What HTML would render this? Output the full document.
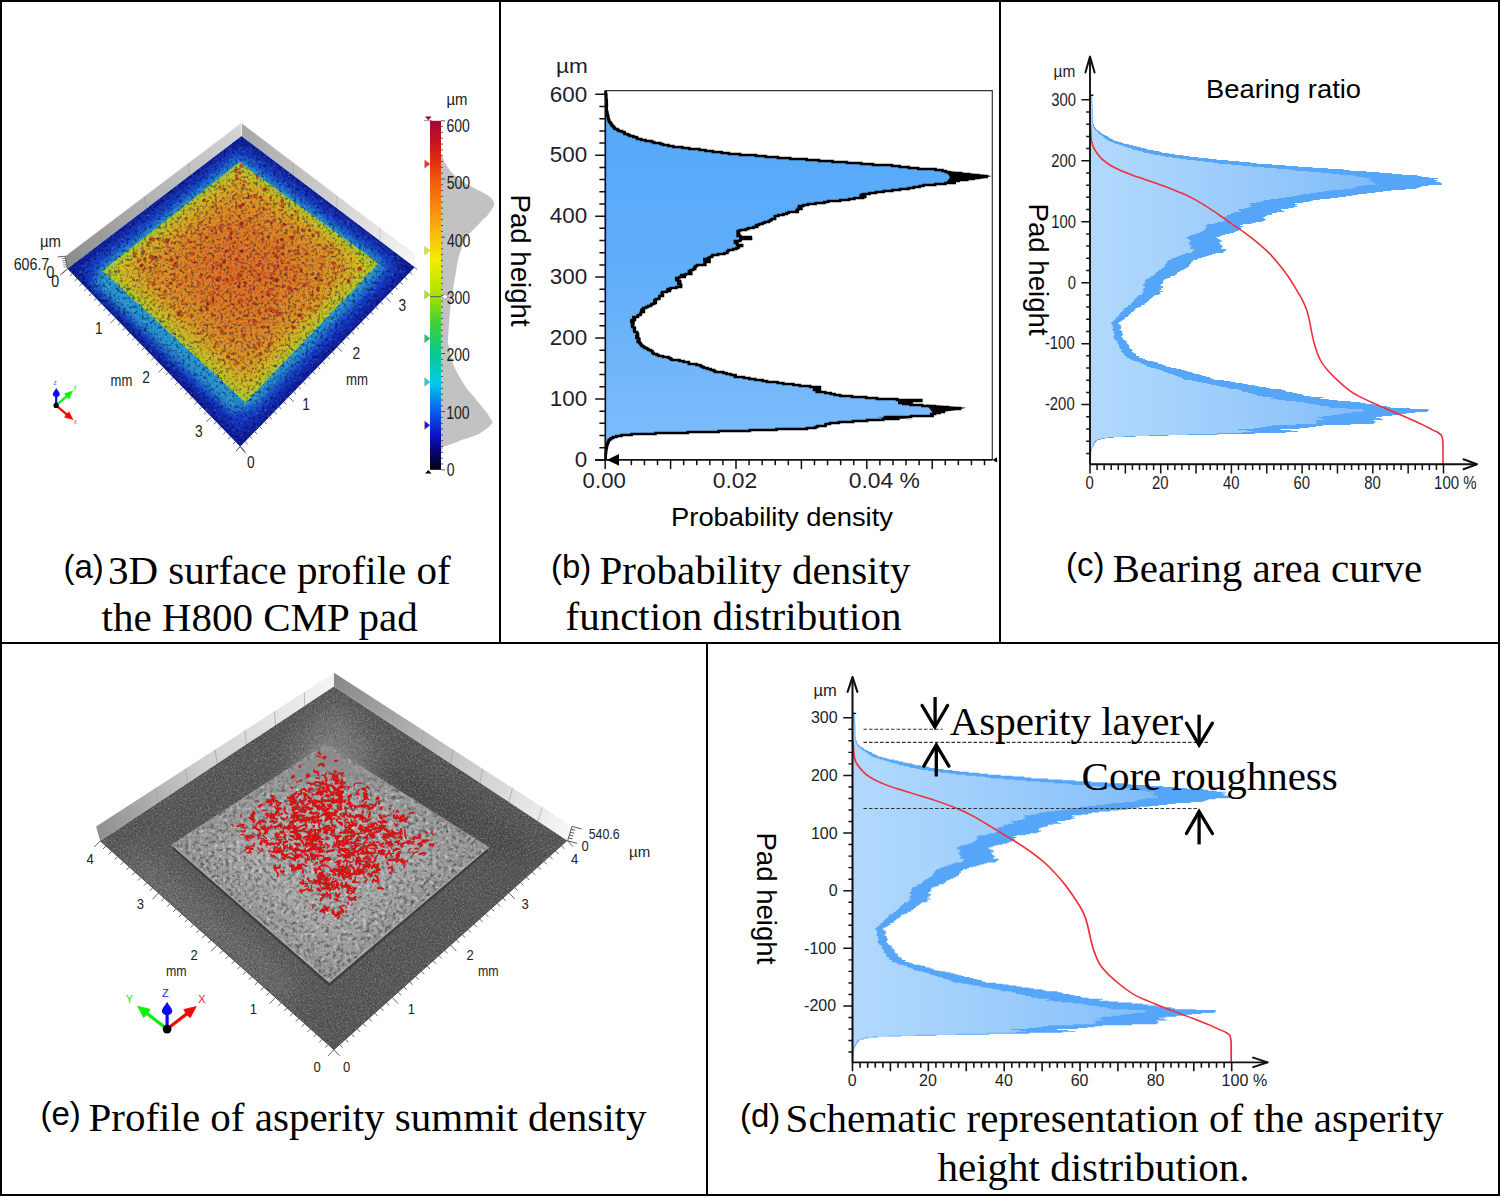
<!DOCTYPE html>
<html><head><meta charset="utf-8"><title>Figure</title>
<style>html,body{margin:0;padding:0;background:#fff;width:1500px;height:1196px;overflow:hidden}svg{display:block}</style>
</head><body>
<svg width="1500" height="1196" viewBox="0 0 1500 1196">
<rect width="1500" height="1196" fill="#fff"/>

<defs>
<linearGradient id="awl" gradientUnits="userSpaceOnUse" x1="66" y1="262" x2="241" y2="130"><stop offset="0" stop-color="#8c8c8c"/><stop offset="0.5" stop-color="#b4b4b4"/><stop offset="1" stop-color="#d4d4d4"/></linearGradient>
<linearGradient id="awr" gradientUnits="userSpaceOnUse" x1="241" y1="130" x2="414" y2="262"><stop offset="0" stop-color="#a6a6a6"/><stop offset="0.55" stop-color="#d2d2d2"/><stop offset="1" stop-color="#f6f6f6"/></linearGradient>
<clipPath id="aclip"><polygon points="241.4,136.3 414.6,267.2 240.2,446.6 67.5,268.8"/></clipPath>
<clipPath id="aiclip"><polygon points="239.5,162.5 378.5,263.5 245.5,402.5 102.5,270.8"/></clipPath>
<filter id="ab4" x="-30%" y="-30%" width="160%" height="160%"><feGaussianBlur stdDeviation="4"/></filter>
<filter id="ab8" x="-30%" y="-30%" width="160%" height="160%"><feGaussianBlur stdDeviation="9"/></filter>
<filter id="ab16" x="-30%" y="-30%" width="160%" height="160%"><feGaussianBlur stdDeviation="18"/></filter>
<filter id="anoise" x="0" y="0" width="100%" height="100%" filterUnits="userSpaceOnUse">
<feTurbulence type="fractalNoise" baseFrequency="0.34" numOctaves="2" seed="4" result="n"/>
<feColorMatrix in="n" type="matrix" values="0 0 0 0 0  0 0 0 0 0  0 0 0 0 0.05  2.8 0 0 0 -1.3" result="dark"/>
<feColorMatrix in="n" type="matrix" values="0 0 0 0 0.75  0 0 0 0 0.8  0 0 0 0 1  0 1.3 0 0 -0.8" result="light"/>
<feMerge><feMergeNode in="dark"/><feMergeNode in="light"/></feMerge>
</filter>
</defs>
<polygon points="65.0,256.2 241.4,123.0 241.4,136.3 67.5,268.8" fill="url(#awl)"/>
<polygon points="241.4,123.0 414.6,254.5 414.6,267.2 241.4,136.3" fill="url(#awr)"/>
<polyline points="65.0,256.2 241.4,123.0 414.6,254.5" fill="none" stroke="#e8e8e8" stroke-width="0.8"/>
<line x1="241.4" y1="123.0" x2="241.4" y2="136.3" stroke="#f4f4f4" stroke-width="1"/>
<line x1="100.3" y1="230.6" x2="102.3" y2="241.3" stroke="#777" stroke-width="0.6" stroke-dasharray="1 1"/>
<line x1="144.4" y1="197.3" x2="145.8" y2="208.2" stroke="#777" stroke-width="0.6" stroke-dasharray="1 1"/>
<line x1="188.5" y1="164.0" x2="189.2" y2="175.1" stroke="#777" stroke-width="0.6" stroke-dasharray="1 1"/>
<line x1="293.4" y1="163.4" x2="293.4" y2="174.6" stroke="#888" stroke-width="0.6" stroke-dasharray="1 1"/>
<line x1="336.7" y1="196.3" x2="336.7" y2="207.3" stroke="#888" stroke-width="0.6" stroke-dasharray="1 1"/>
<line x1="380.0" y1="229.2" x2="380.0" y2="240.0" stroke="#888" stroke-width="0.6" stroke-dasharray="1 1"/>
<g clip-path="url(#aclip)"><polygon points="241.4,136.3 414.6,267.2 240.2,446.6 67.5,268.8" fill="#1636c6"/><polygon points="241.4,136.3 414.6,267.2 240.2,446.6 67.5,268.8" fill="none" stroke="#0a1a98" stroke-width="16" filter="url(#ab4)"/><polygon points="239.1,149.9 394.8,263.1 245.9,418.7 85.7,271.2" fill="#1c50d2" filter="url(#ab8)"/><polygon points="239.4,158.8 383.3,263.4 245.6,407.2 97.6,270.9" fill="#26b2cc" filter="url(#ab4)"/><polygon points="102.5,270.8 245.5,402.5 234.7,414.3 91.7,282.6" fill="#2aa6d2" filter="url(#ab4)" opacity="0.85"/><polygon points="245.5,402.5 378.5,263.5 385.0,269.7 252.0,408.7" fill="#2aa6d2" filter="url(#ab4)" opacity="0.7"/><polygon points="239.5,162.5 378.5,263.5 245.5,402.5 102.5,270.8" fill="#d2c41e"/><g clip-path="url(#aiclip)"><polygon points="239.5,162.5 378.5,263.5 245.5,402.5 102.5,270.8" fill="none" stroke="#8ccc34" stroke-width="6" filter="url(#ab4)"/><polygon points="240.0,179.2 356.7,264.1 245.0,380.8 124.9,270.2" fill="#dc9424" filter="url(#ab8)"/><polygon points="240.8,209.6 317.3,265.1 244.2,341.6 165.5,269.2" fill="#e07222" filter="url(#ab16)"/></g><g><circle cx="230.0" cy="280.4" r="2.3" fill="#d8581c" opacity="0.68"/><circle cx="322.2" cy="264.1" r="1.8" fill="#d04a1e" opacity="0.54"/><circle cx="272.8" cy="190.0" r="0.9" fill="#c03420" opacity="0.53"/><circle cx="268.6" cy="331.4" r="1.4" fill="#c03420" opacity="0.84"/><circle cx="247.5" cy="299.3" r="1.6" fill="#a82818" opacity="0.53"/><circle cx="283.1" cy="247.1" r="1.7" fill="#c8401c" opacity="0.78"/><circle cx="194.1" cy="204.0" r="1.3" fill="#c8401c" opacity="0.73"/><circle cx="297.3" cy="250.5" r="1.7" fill="#d04a1e" opacity="0.81"/><circle cx="158.0" cy="278.1" r="1.6" fill="#d04a1e" opacity="0.89"/><circle cx="313.2" cy="250.9" r="1.5" fill="#d8581c" opacity="0.67"/><circle cx="166.6" cy="240.7" r="2.2" fill="#a82818" opacity="0.73"/><circle cx="271.4" cy="343.3" r="1.5" fill="#c8401c" opacity="0.54"/><circle cx="264.2" cy="209.2" r="1.8" fill="#b83018" opacity="0.75"/><circle cx="212.6" cy="295.3" r="1.4" fill="#d04a1e" opacity="0.83"/><circle cx="267.8" cy="220.8" r="1.2" fill="#a82818" opacity="0.89"/><circle cx="144.5" cy="259.4" r="1.9" fill="#c03420" opacity="0.75"/><circle cx="182.0" cy="252.9" r="1.0" fill="#d04a1e" opacity="0.61"/><circle cx="229.5" cy="228.2" r="2.0" fill="#c03420" opacity="0.73"/><circle cx="237.8" cy="319.6" r="1.4" fill="#c8401c" opacity="0.53"/><circle cx="254.6" cy="321.6" r="2.3" fill="#a82818" opacity="0.79"/><circle cx="235.5" cy="170.6" r="2.2" fill="#c8401c" opacity="0.85"/><circle cx="261.6" cy="296.2" r="1.5" fill="#c03420" opacity="0.50"/><circle cx="220.5" cy="227.8" r="2.3" fill="#a82818" opacity="0.73"/><circle cx="226.9" cy="343.8" r="1.0" fill="#c03420" opacity="0.51"/><circle cx="269.1" cy="263.6" r="1.2" fill="#a82818" opacity="0.55"/><circle cx="315.9" cy="305.9" r="1.6" fill="#c8401c" opacity="0.65"/><circle cx="247.3" cy="325.2" r="1.4" fill="#d8581c" opacity="0.70"/><circle cx="174.7" cy="243.4" r="1.3" fill="#a82818" opacity="0.67"/><circle cx="264.3" cy="226.0" r="1.1" fill="#d8581c" opacity="0.64"/><circle cx="235.0" cy="364.0" r="2.1" fill="#d8581c" opacity="0.75"/><circle cx="240.9" cy="225.0" r="2.2" fill="#c03420" opacity="0.68"/><circle cx="297.2" cy="284.9" r="1.4" fill="#c03420" opacity="0.51"/><circle cx="147.0" cy="253.9" r="0.9" fill="#b83018" opacity="0.59"/><circle cx="276.4" cy="256.0" r="1.8" fill="#a82818" opacity="0.76"/><circle cx="178.5" cy="314.0" r="2.0" fill="#c03420" opacity="0.79"/><circle cx="202.1" cy="310.9" r="1.7" fill="#c03420" opacity="0.90"/><circle cx="213.1" cy="255.0" r="1.2" fill="#c8401c" opacity="0.65"/><circle cx="260.5" cy="354.2" r="2.1" fill="#b83018" opacity="0.69"/><circle cx="282.2" cy="201.1" r="2.0" fill="#a82818" opacity="0.87"/><circle cx="201.1" cy="248.0" r="1.3" fill="#c8401c" opacity="0.59"/><circle cx="338.9" cy="253.9" r="1.0" fill="#c03420" opacity="0.63"/><circle cx="150.4" cy="268.1" r="2.0" fill="#a82818" opacity="0.78"/><circle cx="359.4" cy="269.0" r="2.3" fill="#c8401c" opacity="0.80"/><circle cx="226.6" cy="280.1" r="2.1" fill="#c03420" opacity="0.76"/><circle cx="248.5" cy="345.7" r="1.7" fill="#b83018" opacity="0.77"/><circle cx="271.2" cy="223.4" r="1.1" fill="#c03420" opacity="0.71"/><circle cx="261.6" cy="199.6" r="1.7" fill="#c03420" opacity="0.50"/><circle cx="210.3" cy="274.9" r="1.0" fill="#d8581c" opacity="0.72"/><circle cx="217.4" cy="208.5" r="1.6" fill="#b83018" opacity="0.67"/><circle cx="236.3" cy="225.3" r="1.2" fill="#c03420" opacity="0.51"/><circle cx="179.6" cy="311.3" r="2.4" fill="#c8401c" opacity="0.58"/><circle cx="171.0" cy="307.6" r="1.4" fill="#b83018" opacity="0.60"/><circle cx="242.2" cy="267.1" r="1.8" fill="#c03420" opacity="0.75"/><circle cx="299.6" cy="314.8" r="2.2" fill="#c8401c" opacity="0.65"/><circle cx="219.8" cy="273.1" r="1.1" fill="#d04a1e" opacity="0.85"/><circle cx="251.4" cy="203.2" r="1.2" fill="#c03420" opacity="0.74"/><circle cx="329.6" cy="251.9" r="2.1" fill="#d04a1e" opacity="0.58"/><circle cx="276.1" cy="336.3" r="1.0" fill="#c03420" opacity="0.77"/><circle cx="141.7" cy="265.4" r="2.0" fill="#c03420" opacity="0.90"/><circle cx="311.2" cy="295.1" r="2.3" fill="#d8581c" opacity="0.56"/><circle cx="232.6" cy="327.2" r="1.4" fill="#d8581c" opacity="0.67"/><circle cx="204.4" cy="199.9" r="1.5" fill="#a82818" opacity="0.78"/><circle cx="230.4" cy="321.3" r="1.5" fill="#d04a1e" opacity="0.74"/><circle cx="260.8" cy="197.2" r="1.8" fill="#b83018" opacity="0.82"/><circle cx="325.0" cy="248.2" r="2.2" fill="#c03420" opacity="0.78"/><circle cx="217.8" cy="317.2" r="1.0" fill="#b83018" opacity="0.62"/><circle cx="168.0" cy="243.5" r="1.2" fill="#c8401c" opacity="0.66"/><circle cx="272.8" cy="322.5" r="1.3" fill="#d8581c" opacity="0.70"/><circle cx="311.0" cy="303.0" r="0.9" fill="#b83018" opacity="0.60"/><circle cx="348.9" cy="281.8" r="1.7" fill="#c03420" opacity="0.73"/><circle cx="268.1" cy="327.0" r="1.0" fill="#d04a1e" opacity="0.65"/><circle cx="253.5" cy="289.5" r="1.5" fill="#d8581c" opacity="0.67"/><circle cx="249.5" cy="289.7" r="1.4" fill="#b83018" opacity="0.69"/><circle cx="285.4" cy="324.9" r="0.9" fill="#d04a1e" opacity="0.73"/><circle cx="277.4" cy="247.4" r="1.9" fill="#c8401c" opacity="0.86"/><circle cx="224.0" cy="261.5" r="2.4" fill="#d04a1e" opacity="0.52"/><circle cx="148.0" cy="245.3" r="1.8" fill="#a82818" opacity="0.73"/><circle cx="221.4" cy="329.9" r="1.7" fill="#d04a1e" opacity="0.88"/><circle cx="317.0" cy="297.9" r="1.4" fill="#b83018" opacity="0.74"/><circle cx="301.5" cy="314.3" r="1.2" fill="#b83018" opacity="0.80"/><circle cx="222.9" cy="294.7" r="1.1" fill="#c03420" opacity="0.61"/><circle cx="204.2" cy="229.1" r="1.6" fill="#d04a1e" opacity="0.84"/><circle cx="323.6" cy="297.8" r="2.1" fill="#d04a1e" opacity="0.68"/><circle cx="307.3" cy="244.1" r="1.1" fill="#d04a1e" opacity="0.76"/><circle cx="255.2" cy="323.7" r="2.3" fill="#d8581c" opacity="0.76"/><circle cx="263.6" cy="259.1" r="1.4" fill="#c03420" opacity="0.53"/><circle cx="259.3" cy="264.2" r="1.9" fill="#b83018" opacity="0.83"/><circle cx="293.7" cy="267.5" r="2.0" fill="#b83018" opacity="0.61"/><circle cx="301.8" cy="238.5" r="1.1" fill="#a82818" opacity="0.68"/><circle cx="291.5" cy="218.3" r="1.7" fill="#b83018" opacity="0.68"/><circle cx="302.8" cy="272.7" r="1.0" fill="#b83018" opacity="0.51"/><circle cx="288.9" cy="287.9" r="2.1" fill="#a82818" opacity="0.73"/><circle cx="320.4" cy="278.8" r="2.2" fill="#c03420" opacity="0.57"/><circle cx="134.9" cy="253.5" r="2.2" fill="#c8401c" opacity="0.59"/><circle cx="332.1" cy="252.3" r="1.8" fill="#b83018" opacity="0.82"/><circle cx="281.6" cy="210.3" r="1.2" fill="#c03420" opacity="0.64"/><circle cx="231.8" cy="232.7" r="2.1" fill="#b83018" opacity="0.77"/><circle cx="240.8" cy="275.6" r="2.0" fill="#a82818" opacity="0.75"/><circle cx="134.8" cy="255.8" r="1.7" fill="#c8401c" opacity="0.71"/><circle cx="221.9" cy="248.4" r="1.1" fill="#a82818" opacity="0.56"/><circle cx="277.9" cy="310.2" r="1.4" fill="#d8581c" opacity="0.67"/><circle cx="267.4" cy="205.0" r="1.2" fill="#b83018" opacity="0.66"/><circle cx="255.7" cy="348.1" r="1.6" fill="#d8581c" opacity="0.87"/><circle cx="201.1" cy="276.7" r="2.3" fill="#d8581c" opacity="0.85"/><circle cx="216.1" cy="201.9" r="1.1" fill="#d8581c" opacity="0.89"/><circle cx="229.4" cy="209.0" r="1.5" fill="#d04a1e" opacity="0.67"/><circle cx="273.8" cy="271.7" r="1.0" fill="#c03420" opacity="0.81"/><circle cx="237.3" cy="259.8" r="2.3" fill="#c03420" opacity="0.72"/><circle cx="219.7" cy="265.1" r="2.3" fill="#b83018" opacity="0.63"/><circle cx="217.7" cy="279.3" r="2.4" fill="#a82818" opacity="0.79"/><circle cx="205.7" cy="308.7" r="1.1" fill="#d8581c" opacity="0.77"/><circle cx="143.4" cy="251.7" r="2.2" fill="#a82818" opacity="0.78"/><circle cx="173.7" cy="279.7" r="1.6" fill="#c8401c" opacity="0.84"/><circle cx="309.3" cy="281.9" r="1.0" fill="#d04a1e" opacity="0.58"/><circle cx="303.2" cy="230.1" r="2.3" fill="#c03420" opacity="0.69"/><circle cx="279.3" cy="256.2" r="1.5" fill="#c8401c" opacity="0.56"/><circle cx="216.9" cy="343.2" r="1.8" fill="#c8401c" opacity="0.54"/><circle cx="225.1" cy="328.5" r="1.4" fill="#d8581c" opacity="0.87"/><circle cx="238.0" cy="363.1" r="1.8" fill="#a82818" opacity="0.66"/><circle cx="318.5" cy="306.0" r="1.8" fill="#c8401c" opacity="0.60"/><circle cx="227.1" cy="279.7" r="1.2" fill="#b83018" opacity="0.82"/><circle cx="327.8" cy="295.2" r="1.1" fill="#c03420" opacity="0.86"/><circle cx="255.2" cy="233.9" r="1.7" fill="#d04a1e" opacity="0.73"/><circle cx="236.7" cy="248.2" r="1.4" fill="#c8401c" opacity="0.87"/><circle cx="206.1" cy="257.6" r="1.1" fill="#a82818" opacity="0.55"/><circle cx="348.4" cy="280.3" r="1.7" fill="#c03420" opacity="0.87"/><circle cx="206.7" cy="325.0" r="1.4" fill="#d04a1e" opacity="0.57"/><circle cx="284.0" cy="224.6" r="1.9" fill="#a82818" opacity="0.86"/><circle cx="272.7" cy="300.1" r="2.0" fill="#d04a1e" opacity="0.58"/><circle cx="234.1" cy="185.5" r="1.5" fill="#c03420" opacity="0.66"/><circle cx="217.1" cy="265.8" r="1.1" fill="#b83018" opacity="0.66"/><circle cx="275.0" cy="311.3" r="2.0" fill="#b83018" opacity="0.69"/><circle cx="335.6" cy="249.2" r="1.6" fill="#c03420" opacity="0.55"/><circle cx="247.9" cy="249.2" r="0.9" fill="#c8401c" opacity="0.62"/><circle cx="273.0" cy="252.9" r="1.5" fill="#b83018" opacity="0.80"/><circle cx="191.3" cy="286.9" r="1.0" fill="#c8401c" opacity="0.84"/><circle cx="254.3" cy="303.3" r="2.3" fill="#c8401c" opacity="0.90"/><circle cx="208.1" cy="276.6" r="1.7" fill="#d04a1e" opacity="0.59"/><circle cx="307.2" cy="284.4" r="2.3" fill="#c8401c" opacity="0.71"/><circle cx="262.4" cy="257.1" r="1.3" fill="#a82818" opacity="0.62"/><circle cx="215.6" cy="233.6" r="1.8" fill="#c8401c" opacity="0.62"/><circle cx="230.7" cy="224.3" r="1.4" fill="#d04a1e" opacity="0.87"/><circle cx="204.3" cy="259.7" r="1.2" fill="#a82818" opacity="0.90"/><circle cx="164.4" cy="295.0" r="1.2" fill="#c8401c" opacity="0.76"/><circle cx="221.6" cy="352.9" r="1.4" fill="#d8581c" opacity="0.67"/><circle cx="181.9" cy="315.5" r="1.7" fill="#b83018" opacity="0.82"/><circle cx="209.1" cy="303.1" r="2.2" fill="#c03420" opacity="0.71"/><circle cx="265.2" cy="276.3" r="1.5" fill="#c03420" opacity="0.53"/><circle cx="255.1" cy="196.0" r="2.2" fill="#c8401c" opacity="0.75"/><circle cx="195.5" cy="262.0" r="0.9" fill="#b83018" opacity="0.70"/><circle cx="154.7" cy="289.1" r="1.3" fill="#d8581c" opacity="0.72"/><circle cx="178.6" cy="314.5" r="2.0" fill="#b83018" opacity="0.70"/><circle cx="169.4" cy="283.2" r="1.6" fill="#c8401c" opacity="0.58"/><circle cx="229.0" cy="353.5" r="1.4" fill="#c03420" opacity="0.51"/><circle cx="241.5" cy="252.2" r="1.6" fill="#b83018" opacity="0.84"/><circle cx="263.3" cy="318.4" r="1.8" fill="#c8401c" opacity="0.62"/><circle cx="274.3" cy="273.9" r="1.3" fill="#c03420" opacity="0.70"/><circle cx="281.8" cy="270.8" r="1.5" fill="#d04a1e" opacity="0.56"/><circle cx="219.1" cy="235.5" r="1.2" fill="#c8401c" opacity="0.55"/><circle cx="309.5" cy="292.2" r="1.1" fill="#a82818" opacity="0.68"/><circle cx="189.6" cy="248.3" r="1.0" fill="#c8401c" opacity="0.77"/><circle cx="272.0" cy="221.5" r="1.1" fill="#d04a1e" opacity="0.67"/><circle cx="153.5" cy="283.9" r="2.4" fill="#a82818" opacity="0.64"/><circle cx="232.7" cy="242.4" r="2.2" fill="#d8581c" opacity="0.65"/><circle cx="322.2" cy="265.1" r="1.5" fill="#c03420" opacity="0.69"/><circle cx="192.3" cy="253.6" r="2.4" fill="#a82818" opacity="0.57"/><circle cx="239.1" cy="276.2" r="1.5" fill="#c8401c" opacity="0.78"/><circle cx="206.5" cy="214.6" r="0.9" fill="#d04a1e" opacity="0.80"/><circle cx="245.7" cy="282.6" r="1.9" fill="#d04a1e" opacity="0.61"/><circle cx="195.9" cy="239.4" r="1.0" fill="#d8581c" opacity="0.63"/><circle cx="313.5" cy="273.7" r="1.0" fill="#d8581c" opacity="0.74"/><circle cx="239.5" cy="195.9" r="1.7" fill="#d04a1e" opacity="0.51"/><circle cx="193.3" cy="248.3" r="1.7" fill="#d04a1e" opacity="0.71"/><circle cx="255.1" cy="225.1" r="1.6" fill="#d8581c" opacity="0.56"/><circle cx="298.3" cy="247.3" r="1.5" fill="#b83018" opacity="0.59"/><circle cx="188.0" cy="230.1" r="1.2" fill="#c8401c" opacity="0.84"/><circle cx="307.3" cy="265.2" r="0.9" fill="#a82818" opacity="0.62"/><circle cx="223.5" cy="242.0" r="1.0" fill="#d8581c" opacity="0.87"/><circle cx="186.0" cy="311.8" r="1.2" fill="#d8581c" opacity="0.58"/><circle cx="312.8" cy="235.3" r="2.0" fill="#c03420" opacity="0.54"/><circle cx="201.0" cy="248.2" r="1.1" fill="#c03420" opacity="0.60"/><circle cx="190.1" cy="315.5" r="2.2" fill="#c8401c" opacity="0.51"/><circle cx="259.7" cy="213.4" r="1.9" fill="#d04a1e" opacity="0.76"/><circle cx="212.2" cy="230.1" r="2.2" fill="#c8401c" opacity="0.73"/><circle cx="275.9" cy="295.7" r="1.5" fill="#d8581c" opacity="0.53"/><circle cx="212.3" cy="335.5" r="1.9" fill="#b83018" opacity="0.62"/><circle cx="171.3" cy="306.1" r="1.3" fill="#c8401c" opacity="0.87"/><circle cx="254.8" cy="347.1" r="2.0" fill="#c8401c" opacity="0.75"/><circle cx="258.4" cy="343.1" r="2.4" fill="#b83018" opacity="0.61"/><circle cx="215.3" cy="188.0" r="1.2" fill="#d04a1e" opacity="0.56"/><circle cx="274.4" cy="266.0" r="1.7" fill="#b83018" opacity="0.67"/><circle cx="207.6" cy="304.4" r="1.6" fill="#a82818" opacity="0.60"/><circle cx="246.1" cy="182.0" r="1.0" fill="#c8401c" opacity="0.83"/><circle cx="334.0" cy="272.8" r="1.9" fill="#c8401c" opacity="0.57"/><circle cx="244.5" cy="334.8" r="1.5" fill="#a82818" opacity="0.75"/><circle cx="207.8" cy="307.8" r="1.2" fill="#d04a1e" opacity="0.84"/><circle cx="328.6" cy="285.2" r="1.5" fill="#a82818" opacity="0.55"/><circle cx="274.3" cy="220.7" r="1.9" fill="#c8401c" opacity="0.69"/><circle cx="286.0" cy="242.6" r="1.9" fill="#d04a1e" opacity="0.52"/><circle cx="238.1" cy="238.2" r="1.4" fill="#a82818" opacity="0.61"/><circle cx="214.1" cy="293.1" r="2.0" fill="#c03420" opacity="0.66"/><circle cx="293.4" cy="279.2" r="2.1" fill="#d04a1e" opacity="0.68"/><circle cx="330.0" cy="282.6" r="2.2" fill="#d8581c" opacity="0.67"/><circle cx="182.2" cy="281.0" r="1.3" fill="#d8581c" opacity="0.61"/><circle cx="171.1" cy="260.9" r="1.4" fill="#b83018" opacity="0.72"/><circle cx="310.8" cy="308.1" r="0.9" fill="#b83018" opacity="0.69"/><circle cx="338.8" cy="266.5" r="1.5" fill="#c03420" opacity="0.66"/><circle cx="283.6" cy="296.5" r="1.3" fill="#b83018" opacity="0.85"/><circle cx="309.0" cy="225.9" r="1.7" fill="#c8401c" opacity="0.85"/><circle cx="241.2" cy="223.3" r="1.7" fill="#a82818" opacity="0.81"/><circle cx="296.3" cy="211.9" r="2.3" fill="#c8401c" opacity="0.50"/><circle cx="301.3" cy="270.4" r="1.3" fill="#b83018" opacity="0.75"/><circle cx="229.3" cy="223.9" r="1.0" fill="#a82818" opacity="0.63"/><circle cx="306.3" cy="279.6" r="1.9" fill="#d04a1e" opacity="0.64"/><circle cx="263.2" cy="227.1" r="1.6" fill="#d04a1e" opacity="0.70"/><circle cx="302.9" cy="306.0" r="2.3" fill="#c8401c" opacity="0.58"/><circle cx="243.8" cy="282.6" r="1.1" fill="#a82818" opacity="0.78"/><circle cx="230.2" cy="304.5" r="1.5" fill="#d8581c" opacity="0.70"/><circle cx="209.8" cy="275.5" r="1.0" fill="#c8401c" opacity="0.71"/><circle cx="229.8" cy="217.6" r="1.0" fill="#c8401c" opacity="0.87"/><circle cx="151.2" cy="257.2" r="2.4" fill="#a82818" opacity="0.75"/><circle cx="160.8" cy="257.6" r="1.7" fill="#c8401c" opacity="0.85"/><circle cx="240.2" cy="206.5" r="2.2" fill="#a82818" opacity="0.82"/><circle cx="247.1" cy="232.8" r="1.2" fill="#c8401c" opacity="0.85"/><circle cx="256.9" cy="333.1" r="1.6" fill="#d04a1e" opacity="0.53"/><circle cx="241.6" cy="165.9" r="2.2" fill="#c8401c" opacity="0.82"/><circle cx="159.0" cy="239.2" r="2.2" fill="#c03420" opacity="0.69"/><circle cx="239.7" cy="173.2" r="1.9" fill="#c03420" opacity="0.75"/><circle cx="200.4" cy="223.8" r="1.8" fill="#b83018" opacity="0.76"/><circle cx="201.6" cy="293.9" r="1.4" fill="#c8401c" opacity="0.90"/><circle cx="292.8" cy="322.5" r="1.4" fill="#b83018" opacity="0.81"/><circle cx="181.1" cy="236.7" r="1.8" fill="#b83018" opacity="0.68"/><circle cx="244.2" cy="367.9" r="1.4" fill="#a82818" opacity="0.67"/><circle cx="240.5" cy="179.9" r="1.1" fill="#b83018" opacity="0.88"/><circle cx="170.6" cy="259.8" r="1.2" fill="#d8581c" opacity="0.74"/><circle cx="221.3" cy="216.6" r="1.6" fill="#b83018" opacity="0.62"/><circle cx="293.6" cy="307.9" r="1.3" fill="#d8581c" opacity="0.65"/><circle cx="267.0" cy="351.4" r="1.5" fill="#b83018" opacity="0.64"/><circle cx="266.3" cy="278.3" r="1.0" fill="#d04a1e" opacity="0.54"/><circle cx="206.7" cy="237.4" r="2.0" fill="#a82818" opacity="0.78"/><circle cx="156.1" cy="265.8" r="1.6" fill="#a82818" opacity="0.74"/><circle cx="216.6" cy="301.9" r="1.2" fill="#c03420" opacity="0.58"/><circle cx="214.9" cy="321.4" r="1.0" fill="#d04a1e" opacity="0.88"/><circle cx="343.2" cy="255.0" r="1.1" fill="#b83018" opacity="0.84"/><circle cx="251.9" cy="275.1" r="1.1" fill="#c8401c" opacity="0.62"/><circle cx="244.4" cy="181.6" r="1.8" fill="#d04a1e" opacity="0.77"/><circle cx="245.0" cy="223.6" r="1.4" fill="#d04a1e" opacity="0.60"/><circle cx="168.5" cy="253.9" r="1.7" fill="#d8581c" opacity="0.56"/><circle cx="243.5" cy="186.0" r="1.7" fill="#d04a1e" opacity="0.66"/><circle cx="239.6" cy="302.2" r="2.2" fill="#d04a1e" opacity="0.73"/><circle cx="242.7" cy="359.2" r="1.5" fill="#b83018" opacity="0.61"/><circle cx="268.7" cy="204.1" r="1.0" fill="#d8581c" opacity="0.65"/><circle cx="281.5" cy="230.5" r="1.1" fill="#b83018" opacity="0.83"/><circle cx="255.0" cy="244.7" r="1.2" fill="#c8401c" opacity="0.79"/><circle cx="249.5" cy="320.5" r="1.5" fill="#c03420" opacity="0.89"/><circle cx="268.2" cy="238.0" r="1.4" fill="#c03420" opacity="0.81"/><circle cx="167.3" cy="285.3" r="2.1" fill="#d8581c" opacity="0.76"/><circle cx="215.4" cy="203.7" r="1.3" fill="#c8401c" opacity="0.63"/><circle cx="275.2" cy="280.0" r="2.3" fill="#a82818" opacity="0.79"/><circle cx="273.2" cy="309.8" r="1.2" fill="#c03420" opacity="0.50"/><circle cx="304.6" cy="250.4" r="1.9" fill="#c8401c" opacity="0.57"/><circle cx="228.1" cy="357.3" r="2.0" fill="#c8401c" opacity="0.88"/><circle cx="298.1" cy="315.1" r="1.5" fill="#a82818" opacity="0.88"/><circle cx="166.8" cy="245.4" r="1.7" fill="#c8401c" opacity="0.56"/><circle cx="183.3" cy="244.3" r="2.2" fill="#d8581c" opacity="0.58"/><circle cx="295.7" cy="267.5" r="1.6" fill="#d8581c" opacity="0.70"/><circle cx="237.7" cy="278.3" r="2.2" fill="#c03420" opacity="0.63"/><circle cx="282.2" cy="240.3" r="2.1" fill="#a82818" opacity="0.66"/><circle cx="262.0" cy="345.8" r="1.4" fill="#c03420" opacity="0.56"/><circle cx="295.9" cy="245.1" r="1.0" fill="#d8581c" opacity="0.59"/><circle cx="262.2" cy="212.4" r="1.0" fill="#b83018" opacity="0.65"/><circle cx="299.3" cy="253.5" r="1.8" fill="#c03420" opacity="0.57"/><circle cx="219.9" cy="273.5" r="1.5" fill="#c8401c" opacity="0.59"/><circle cx="260.3" cy="279.4" r="1.4" fill="#d04a1e" opacity="0.68"/><circle cx="190.6" cy="207.9" r="1.1" fill="#d04a1e" opacity="0.84"/><circle cx="304.8" cy="233.5" r="1.1" fill="#d04a1e" opacity="0.73"/><circle cx="292.1" cy="237.7" r="2.3" fill="#a82818" opacity="0.82"/><circle cx="270.9" cy="343.4" r="2.4" fill="#c8401c" opacity="0.60"/><circle cx="177.9" cy="218.0" r="1.3" fill="#d04a1e" opacity="0.61"/><circle cx="151.3" cy="239.2" r="2.1" fill="#c03420" opacity="0.84"/><circle cx="271.2" cy="278.0" r="2.0" fill="#c03420" opacity="0.80"/><circle cx="295.7" cy="289.1" r="1.9" fill="#b83018" opacity="0.52"/><circle cx="230.1" cy="237.2" r="2.0" fill="#a82818" opacity="0.70"/><circle cx="259.8" cy="233.2" r="1.2" fill="#c03420" opacity="0.54"/><circle cx="317.2" cy="274.3" r="1.0" fill="#c03420" opacity="0.77"/><circle cx="253.3" cy="352.4" r="1.1" fill="#d8581c" opacity="0.87"/><circle cx="266.3" cy="310.2" r="1.8" fill="#c03420" opacity="0.63"/><circle cx="220.0" cy="186.5" r="1.2" fill="#c03420" opacity="0.71"/><circle cx="263.5" cy="326.5" r="2.1" fill="#c8401c" opacity="0.65"/><circle cx="215.1" cy="205.2" r="1.4" fill="#d04a1e" opacity="0.64"/><circle cx="180.2" cy="284.8" r="1.7" fill="#b83018" opacity="0.71"/><circle cx="203.7" cy="300.5" r="2.3" fill="#d8581c" opacity="0.57"/><circle cx="237.0" cy="331.7" r="1.4" fill="#d04a1e" opacity="0.77"/><circle cx="271.4" cy="289.8" r="1.8" fill="#c03420" opacity="0.85"/><circle cx="190.5" cy="226.7" r="2.0" fill="#a82818" opacity="0.51"/><circle cx="290.9" cy="269.5" r="1.6" fill="#c8401c" opacity="0.67"/><circle cx="316.5" cy="232.5" r="2.1" fill="#d8581c" opacity="0.86"/><circle cx="222.8" cy="188.7" r="1.0" fill="#d04a1e" opacity="0.85"/><circle cx="143.6" cy="270.3" r="1.7" fill="#c03420" opacity="0.68"/><circle cx="138.9" cy="260.3" r="2.2" fill="#c03420" opacity="0.68"/><circle cx="269.5" cy="346.9" r="1.6" fill="#d04a1e" opacity="0.56"/><circle cx="234.4" cy="307.6" r="1.6" fill="#c03420" opacity="0.66"/><circle cx="242.3" cy="302.0" r="1.6" fill="#d04a1e" opacity="0.64"/><circle cx="258.7" cy="310.4" r="1.3" fill="#a82818" opacity="0.63"/><circle cx="263.7" cy="248.9" r="1.7" fill="#d8581c" opacity="0.60"/><circle cx="360.3" cy="268.8" r="1.9" fill="#c03420" opacity="0.84"/><circle cx="264.4" cy="189.8" r="2.3" fill="#b83018" opacity="0.76"/><circle cx="237.1" cy="178.5" r="2.0" fill="#c03420" opacity="0.76"/><circle cx="291.2" cy="305.7" r="1.5" fill="#d8581c" opacity="0.73"/><circle cx="277.1" cy="259.6" r="1.0" fill="#d8581c" opacity="0.76"/><circle cx="162.5" cy="295.1" r="1.1" fill="#b83018" opacity="0.72"/><circle cx="359.4" cy="268.4" r="1.6" fill="#b83018" opacity="0.63"/><circle cx="286.0" cy="269.1" r="2.3" fill="#a82818" opacity="0.59"/><circle cx="201.4" cy="332.4" r="1.8" fill="#d8581c" opacity="0.87"/><circle cx="293.4" cy="327.6" r="2.4" fill="#c03420" opacity="0.76"/><circle cx="307.8" cy="307.7" r="1.6" fill="#d8581c" opacity="0.81"/><circle cx="279.0" cy="266.4" r="1.5" fill="#b83018" opacity="0.52"/><circle cx="343.1" cy="270.2" r="2.4" fill="#d04a1e" opacity="0.76"/><circle cx="246.6" cy="225.3" r="1.3" fill="#d04a1e" opacity="0.51"/><circle cx="251.1" cy="285.8" r="1.4" fill="#d8581c" opacity="0.81"/><circle cx="198.8" cy="215.5" r="1.7" fill="#d8581c" opacity="0.53"/><circle cx="249.4" cy="219.1" r="2.3" fill="#b83018" opacity="0.60"/><circle cx="279.1" cy="248.8" r="1.5" fill="#d04a1e" opacity="0.82"/><circle cx="224.0" cy="261.1" r="1.5" fill="#a82818" opacity="0.72"/><circle cx="249.8" cy="196.5" r="2.0" fill="#c8401c" opacity="0.75"/><circle cx="317.8" cy="288.7" r="2.3" fill="#b83018" opacity="0.81"/><circle cx="281.2" cy="315.3" r="1.6" fill="#d8581c" opacity="0.89"/><circle cx="233.3" cy="293.1" r="2.2" fill="#d8581c" opacity="0.70"/><circle cx="337.8" cy="249.3" r="1.0" fill="#c03420" opacity="0.55"/><circle cx="213.9" cy="259.1" r="1.1" fill="#d04a1e" opacity="0.84"/><circle cx="239.0" cy="287.1" r="1.4" fill="#a82818" opacity="0.55"/><circle cx="338.4" cy="272.1" r="1.5" fill="#d8581c" opacity="0.85"/><circle cx="165.7" cy="301.9" r="1.2" fill="#d8581c" opacity="0.63"/><circle cx="275.0" cy="247.9" r="1.4" fill="#c8401c" opacity="0.68"/><circle cx="235.6" cy="353.5" r="1.6" fill="#d8581c" opacity="0.77"/><circle cx="243.7" cy="335.7" r="2.3" fill="#a82818" opacity="0.53"/><circle cx="269.8" cy="290.3" r="2.4" fill="#d8581c" opacity="0.67"/><circle cx="282.7" cy="205.9" r="2.1" fill="#c03420" opacity="0.73"/><circle cx="302.0" cy="283.4" r="1.5" fill="#d8581c" opacity="0.64"/><circle cx="307.4" cy="254.0" r="1.6" fill="#c8401c" opacity="0.83"/><circle cx="330.9" cy="245.1" r="1.8" fill="#a82818" opacity="0.78"/><circle cx="200.5" cy="235.0" r="1.6" fill="#b83018" opacity="0.78"/><circle cx="258.6" cy="277.7" r="2.4" fill="#d04a1e" opacity="0.80"/><circle cx="264.7" cy="338.4" r="1.7" fill="#c8401c" opacity="0.61"/><circle cx="260.1" cy="274.1" r="1.6" fill="#d04a1e" opacity="0.87"/><circle cx="319.4" cy="268.2" r="1.6" fill="#d8581c" opacity="0.77"/><circle cx="232.8" cy="279.9" r="1.6" fill="#c8401c" opacity="0.88"/><circle cx="203.9" cy="325.0" r="1.0" fill="#b83018" opacity="0.72"/><circle cx="149.8" cy="282.2" r="1.7" fill="#c03420" opacity="0.65"/><circle cx="239.6" cy="311.6" r="0.9" fill="#b83018" opacity="0.84"/><circle cx="294.8" cy="231.6" r="2.2" fill="#d04a1e" opacity="0.84"/><circle cx="185.2" cy="266.6" r="1.4" fill="#c03420" opacity="0.59"/><circle cx="226.8" cy="251.0" r="2.1" fill="#c03420" opacity="0.77"/><circle cx="170.8" cy="234.0" r="1.2" fill="#a82818" opacity="0.77"/><circle cx="312.4" cy="310.4" r="2.3" fill="#c8401c" opacity="0.54"/><circle cx="182.9" cy="303.4" r="1.9" fill="#b83018" opacity="0.52"/><circle cx="206.9" cy="247.0" r="1.2" fill="#d04a1e" opacity="0.55"/><circle cx="333.2" cy="262.9" r="1.7" fill="#b83018" opacity="0.72"/><circle cx="321.1" cy="256.8" r="2.0" fill="#d04a1e" opacity="0.67"/><circle cx="213.7" cy="267.2" r="1.6" fill="#c03420" opacity="0.73"/><circle cx="189.1" cy="240.8" r="1.9" fill="#c8401c" opacity="0.75"/><circle cx="290.7" cy="312.3" r="2.0" fill="#d8581c" opacity="0.54"/><circle cx="242.8" cy="204.8" r="1.8" fill="#a82818" opacity="0.87"/><circle cx="253.9" cy="270.9" r="1.4" fill="#b83018" opacity="0.71"/><circle cx="225.6" cy="326.5" r="1.8" fill="#c03420" opacity="0.78"/><circle cx="174.9" cy="265.0" r="2.3" fill="#a82818" opacity="0.72"/><circle cx="199.7" cy="283.6" r="1.8" fill="#c8401c" opacity="0.50"/><circle cx="269.8" cy="209.3" r="1.4" fill="#d04a1e" opacity="0.88"/><circle cx="257.9" cy="176.7" r="1.9" fill="#b83018" opacity="0.58"/><circle cx="301.8" cy="318.1" r="2.1" fill="#a82818" opacity="0.51"/><circle cx="154.3" cy="258.4" r="2.3" fill="#b83018" opacity="0.82"/><circle cx="213.0" cy="300.0" r="1.5" fill="#a82818" opacity="0.89"/><circle cx="276.0" cy="241.5" r="2.0" fill="#d8581c" opacity="0.50"/><circle cx="219.0" cy="286.5" r="1.1" fill="#b83018" opacity="0.52"/><circle cx="208.7" cy="227.4" r="1.1" fill="#c03420" opacity="0.76"/><circle cx="270.8" cy="200.5" r="0.9" fill="#a82818" opacity="0.81"/><circle cx="259.6" cy="208.1" r="1.2" fill="#a82818" opacity="0.52"/><circle cx="170.5" cy="250.3" r="1.5" fill="#d04a1e" opacity="0.80"/><circle cx="155.6" cy="272.6" r="1.5" fill="#d04a1e" opacity="0.65"/><circle cx="222.3" cy="332.4" r="2.2" fill="#b83018" opacity="0.72"/><circle cx="211.9" cy="313.7" r="1.5" fill="#a82818" opacity="0.54"/><circle cx="282.6" cy="214.5" r="1.3" fill="#d04a1e" opacity="0.80"/><circle cx="214.5" cy="346.8" r="2.0" fill="#c8401c" opacity="0.72"/><circle cx="290.7" cy="289.3" r="1.9" fill="#c03420" opacity="0.86"/><circle cx="149.1" cy="242.3" r="1.7" fill="#d04a1e" opacity="0.81"/><circle cx="283.3" cy="253.4" r="1.8" fill="#d04a1e" opacity="0.63"/><circle cx="270.5" cy="197.7" r="1.6" fill="#c8401c" opacity="0.61"/><circle cx="207.3" cy="310.3" r="1.2" fill="#b83018" opacity="0.58"/><circle cx="257.4" cy="231.0" r="0.9" fill="#c8401c" opacity="0.78"/><circle cx="275.9" cy="300.4" r="1.6" fill="#c03420" opacity="0.76"/><circle cx="172.4" cy="260.8" r="2.0" fill="#d8581c" opacity="0.87"/><circle cx="221.8" cy="225.0" r="1.5" fill="#b83018" opacity="0.79"/><circle cx="316.3" cy="278.2" r="1.8" fill="#a82818" opacity="0.89"/><circle cx="164.6" cy="291.4" r="1.1" fill="#c8401c" opacity="0.67"/><circle cx="332.8" cy="280.3" r="1.2" fill="#a82818" opacity="0.77"/><circle cx="231.9" cy="340.8" r="1.9" fill="#c03420" opacity="0.68"/><circle cx="236.2" cy="176.0" r="1.8" fill="#c8401c" opacity="0.56"/><circle cx="281.8" cy="239.0" r="1.5" fill="#a82818" opacity="0.73"/><circle cx="314.4" cy="299.6" r="1.6" fill="#c8401c" opacity="0.68"/><circle cx="334.8" cy="265.9" r="2.3" fill="#d04a1e" opacity="0.70"/><circle cx="270.5" cy="309.5" r="2.4" fill="#a82818" opacity="0.62"/><circle cx="230.9" cy="268.1" r="2.1" fill="#d8581c" opacity="0.88"/><circle cx="295.4" cy="276.4" r="2.3" fill="#d04a1e" opacity="0.68"/><circle cx="281.8" cy="225.2" r="1.5" fill="#d04a1e" opacity="0.79"/><circle cx="303.8" cy="284.2" r="1.1" fill="#b83018" opacity="0.68"/><circle cx="282.3" cy="261.5" r="2.3" fill="#d04a1e" opacity="0.83"/><circle cx="241.1" cy="223.1" r="1.5" fill="#a82818" opacity="0.88"/><circle cx="221.3" cy="188.4" r="1.6" fill="#d04a1e" opacity="0.63"/><circle cx="243.6" cy="185.1" r="1.7" fill="#c03420" opacity="0.85"/><circle cx="176.6" cy="277.0" r="1.4" fill="#d04a1e" opacity="0.74"/><circle cx="127.8" cy="265.8" r="1.2" fill="#d04a1e" opacity="0.83"/><circle cx="241.5" cy="300.1" r="1.4" fill="#b83018" opacity="0.53"/><circle cx="170.5" cy="289.2" r="1.3" fill="#c8401c" opacity="0.78"/><circle cx="268.2" cy="293.8" r="2.1" fill="#c03420" opacity="0.82"/><circle cx="316.5" cy="254.0" r="1.3" fill="#b83018" opacity="0.86"/><circle cx="177.0" cy="257.3" r="1.7" fill="#b83018" opacity="0.82"/><circle cx="212.6" cy="298.8" r="1.3" fill="#b83018" opacity="0.73"/><circle cx="278.2" cy="313.8" r="2.4" fill="#c03420" opacity="0.86"/><circle cx="235.5" cy="198.9" r="1.3" fill="#d8581c" opacity="0.82"/><circle cx="191.5" cy="261.0" r="1.2" fill="#c03420" opacity="0.82"/></g><g opacity="0.8"><circle cx="180.5" cy="172.4" r="0.7" fill="#06106a"/><circle cx="342.2" cy="299.9" r="0.7" fill="#06106a"/><circle cx="368.5" cy="291.0" r="0.7" fill="#06106a"/><circle cx="98.6" cy="285.7" r="0.7" fill="#06106a"/><circle cx="209.8" cy="161.5" r="0.7" fill="#06106a"/><circle cx="330.3" cy="313.2" r="0.7" fill="#06106a"/><circle cx="337.5" cy="215.8" r="0.7" fill="#06106a"/><circle cx="357.2" cy="230.7" r="0.7" fill="#06106a"/><circle cx="383.0" cy="259.9" r="0.7" fill="#06106a"/><circle cx="151.0" cy="314.0" r="0.7" fill="#06106a"/><circle cx="264.0" cy="158.0" r="0.7" fill="#06106a"/><circle cx="114.9" cy="296.0" r="0.7" fill="#06106a"/><circle cx="358.5" cy="231.3" r="0.7" fill="#06106a"/><circle cx="152.5" cy="339.7" r="0.7" fill="#06106a"/><circle cx="185.4" cy="183.5" r="0.7" fill="#06106a"/><circle cx="170.2" cy="205.4" r="0.7" fill="#06106a"/><circle cx="84.5" cy="260.3" r="0.7" fill="#06106a"/><circle cx="124.4" cy="287.5" r="0.7" fill="#06106a"/><circle cx="391.7" cy="276.6" r="0.7" fill="#06106a"/><circle cx="78.9" cy="261.7" r="0.7" fill="#06106a"/><circle cx="110.4" cy="251.1" r="0.7" fill="#06106a"/><circle cx="162.2" cy="321.4" r="0.7" fill="#06106a"/><circle cx="236.6" cy="390.0" r="0.7" fill="#06106a"/><circle cx="366.8" cy="302.8" r="0.7" fill="#06106a"/><circle cx="355.5" cy="306.7" r="0.7" fill="#06106a"/><circle cx="110.4" cy="298.4" r="0.7" fill="#06106a"/><circle cx="252.9" cy="133.3" r="0.7" fill="#06106a"/><circle cx="122.1" cy="288.8" r="0.7" fill="#06106a"/><circle cx="249.8" cy="399.9" r="0.7" fill="#06106a"/><circle cx="317.5" cy="330.5" r="0.7" fill="#06106a"/><circle cx="181.6" cy="352.2" r="0.7" fill="#06106a"/><circle cx="188.6" cy="352.1" r="0.7" fill="#06106a"/><circle cx="194.6" cy="172.0" r="0.7" fill="#06106a"/><circle cx="252.1" cy="144.9" r="0.7" fill="#06106a"/><circle cx="310.9" cy="185.1" r="0.7" fill="#06106a"/><circle cx="319.6" cy="188.8" r="0.7" fill="#06106a"/><circle cx="255.1" cy="128.9" r="0.7" fill="#06106a"/><circle cx="190.9" cy="176.2" r="0.7" fill="#06106a"/><circle cx="252.7" cy="130.4" r="0.7" fill="#06106a"/><circle cx="308.3" cy="182.3" r="0.7" fill="#06106a"/><circle cx="236.8" cy="395.8" r="0.7" fill="#06106a"/><circle cx="216.9" cy="381.6" r="0.7" fill="#06106a"/><circle cx="397.8" cy="269.8" r="0.7" fill="#06106a"/><circle cx="117.9" cy="289.5" r="0.7" fill="#06106a"/><circle cx="90.0" cy="256.1" r="0.7" fill="#06106a"/><circle cx="363.5" cy="254.8" r="0.7" fill="#06106a"/><circle cx="208.9" cy="158.0" r="0.7" fill="#06106a"/><circle cx="226.4" cy="132.5" r="0.7" fill="#06106a"/><circle cx="214.8" cy="155.5" r="0.7" fill="#06106a"/><circle cx="354.4" cy="302.1" r="0.7" fill="#06106a"/><circle cx="368.1" cy="284.6" r="0.7" fill="#06106a"/><circle cx="358.6" cy="294.3" r="0.7" fill="#06106a"/><circle cx="217.0" cy="374.7" r="0.7" fill="#06106a"/><circle cx="167.8" cy="348.5" r="0.7" fill="#06106a"/><circle cx="217.9" cy="375.4" r="0.7" fill="#06106a"/><circle cx="110.2" cy="249.3" r="0.7" fill="#06106a"/><circle cx="333.9" cy="202.4" r="0.7" fill="#06106a"/><circle cx="322.2" cy="336.0" r="0.7" fill="#06106a"/><circle cx="408.1" cy="266.6" r="0.7" fill="#06106a"/><circle cx="403.9" cy="262.1" r="0.7" fill="#06106a"/><circle cx="191.6" cy="164.3" r="0.7" fill="#06106a"/><circle cx="382.5" cy="252.0" r="0.7" fill="#06106a"/><circle cx="124.1" cy="223.3" r="0.7" fill="#06106a"/><circle cx="220.4" cy="382.6" r="0.7" fill="#06106a"/><circle cx="106.9" cy="280.1" r="0.7" fill="#06106a"/><circle cx="342.2" cy="298.8" r="0.7" fill="#06106a"/><circle cx="257.3" cy="381.9" r="0.7" fill="#06106a"/><circle cx="155.6" cy="334.0" r="0.7" fill="#06106a"/><circle cx="363.9" cy="296.1" r="0.7" fill="#06106a"/><circle cx="233.7" cy="147.1" r="0.7" fill="#06106a"/><circle cx="388.0" cy="262.7" r="0.7" fill="#06106a"/><circle cx="146.2" cy="326.5" r="0.7" fill="#06106a"/><circle cx="96.5" cy="281.2" r="0.7" fill="#06106a"/><circle cx="205.9" cy="151.5" r="0.7" fill="#06106a"/><circle cx="321.4" cy="191.6" r="0.7" fill="#06106a"/><circle cx="103.7" cy="265.5" r="0.7" fill="#06106a"/><circle cx="155.1" cy="205.4" r="0.7" fill="#06106a"/><circle cx="396.3" cy="261.8" r="0.7" fill="#06106a"/><circle cx="296.7" cy="189.9" r="0.7" fill="#06106a"/><circle cx="150.4" cy="207.1" r="0.7" fill="#06106a"/><circle cx="355.1" cy="242.5" r="0.7" fill="#06106a"/><circle cx="395.0" cy="257.9" r="0.7" fill="#06106a"/><circle cx="285.3" cy="377.9" r="0.7" fill="#06106a"/><circle cx="123.0" cy="237.1" r="0.7" fill="#06106a"/><circle cx="359.5" cy="309.0" r="0.7" fill="#06106a"/><circle cx="188.2" cy="188.3" r="0.7" fill="#06106a"/><circle cx="181.6" cy="337.1" r="0.7" fill="#06106a"/><circle cx="202.5" cy="369.4" r="0.7" fill="#06106a"/><circle cx="104.1" cy="247.0" r="0.7" fill="#06106a"/><circle cx="126.9" cy="312.0" r="0.7" fill="#06106a"/><circle cx="372.1" cy="281.7" r="0.7" fill="#06106a"/><circle cx="393.8" cy="280.2" r="0.7" fill="#06106a"/><circle cx="355.5" cy="314.9" r="0.7" fill="#06106a"/><circle cx="324.2" cy="208.5" r="0.7" fill="#06106a"/><circle cx="363.2" cy="308.2" r="0.7" fill="#06106a"/><circle cx="263.7" cy="139.4" r="0.7" fill="#06106a"/><circle cx="241.8" cy="415.8" r="0.7" fill="#06106a"/><circle cx="288.4" cy="357.4" r="0.7" fill="#06106a"/><circle cx="156.9" cy="344.2" r="0.7" fill="#06106a"/><circle cx="138.1" cy="297.3" r="0.7" fill="#06106a"/><circle cx="251.5" cy="395.7" r="0.7" fill="#06106a"/><circle cx="251.4" cy="141.3" r="0.7" fill="#06106a"/><circle cx="338.8" cy="309.6" r="0.7" fill="#06106a"/><circle cx="263.8" cy="166.0" r="0.7" fill="#06106a"/><circle cx="275.8" cy="366.8" r="0.7" fill="#06106a"/><circle cx="282.8" cy="174.1" r="0.7" fill="#06106a"/><circle cx="245.7" cy="134.6" r="0.7" fill="#06106a"/><circle cx="359.3" cy="252.1" r="0.7" fill="#06106a"/><circle cx="189.9" cy="346.4" r="0.7" fill="#06106a"/><circle cx="337.2" cy="222.1" r="0.7" fill="#06106a"/><circle cx="127.4" cy="242.9" r="0.7" fill="#06106a"/><circle cx="347.9" cy="298.5" r="0.7" fill="#06106a"/><circle cx="307.6" cy="342.7" r="0.7" fill="#06106a"/><circle cx="175.4" cy="334.4" r="0.7" fill="#06106a"/><circle cx="139.8" cy="304.9" r="0.7" fill="#06106a"/><circle cx="230.2" cy="147.5" r="0.7" fill="#06106a"/><circle cx="298.9" cy="362.6" r="0.7" fill="#06106a"/><circle cx="271.0" cy="389.9" r="0.7" fill="#06106a"/><circle cx="169.3" cy="208.0" r="0.7" fill="#06106a"/><circle cx="110.1" cy="272.2" r="0.7" fill="#06106a"/><circle cx="111.3" cy="303.9" r="0.7" fill="#06106a"/><circle cx="193.9" cy="375.6" r="0.7" fill="#06106a"/><circle cx="114.9" cy="248.7" r="0.7" fill="#06106a"/><circle cx="96.9" cy="286.7" r="0.7" fill="#06106a"/><circle cx="145.1" cy="329.6" r="0.7" fill="#06106a"/><circle cx="251.4" cy="141.9" r="0.7" fill="#06106a"/><circle cx="188.8" cy="177.9" r="0.7" fill="#06106a"/><circle cx="213.3" cy="372.3" r="0.7" fill="#06106a"/><circle cx="140.3" cy="211.8" r="0.7" fill="#06106a"/><circle cx="106.4" cy="249.3" r="0.7" fill="#06106a"/><circle cx="287.9" cy="183.4" r="0.7" fill="#06106a"/><circle cx="204.2" cy="377.3" r="0.7" fill="#06106a"/><circle cx="128.1" cy="221.3" r="0.7" fill="#06106a"/><circle cx="233.6" cy="132.1" r="0.7" fill="#06106a"/><circle cx="312.2" cy="180.4" r="0.7" fill="#06106a"/><circle cx="318.1" cy="332.3" r="0.7" fill="#06106a"/><circle cx="227.9" cy="408.4" r="0.7" fill="#06106a"/><circle cx="134.7" cy="239.5" r="0.7" fill="#06106a"/><circle cx="95.7" cy="279.5" r="0.7" fill="#06106a"/><circle cx="342.8" cy="210.7" r="0.7" fill="#06106a"/><circle cx="170.0" cy="348.4" r="0.7" fill="#06106a"/><circle cx="100.5" cy="285.2" r="0.7" fill="#06106a"/><circle cx="139.6" cy="305.5" r="0.7" fill="#06106a"/><circle cx="271.9" cy="384.2" r="0.7" fill="#06106a"/><circle cx="147.4" cy="308.9" r="0.7" fill="#06106a"/><circle cx="130.8" cy="222.9" r="0.7" fill="#06106a"/><circle cx="162.7" cy="203.3" r="0.7" fill="#06106a"/><circle cx="146.2" cy="328.2" r="0.7" fill="#06106a"/><circle cx="338.4" cy="320.3" r="0.7" fill="#06106a"/><circle cx="247.8" cy="123.0" r="0.7" fill="#06106a"/><circle cx="222.6" cy="383.0" r="0.7" fill="#06106a"/><circle cx="145.1" cy="330.5" r="0.7" fill="#06106a"/><circle cx="142.8" cy="316.9" r="0.7" fill="#06106a"/><circle cx="343.5" cy="314.4" r="0.7" fill="#06106a"/><circle cx="384.9" cy="250.6" r="0.7" fill="#06106a"/><circle cx="201.4" cy="375.4" r="0.7" fill="#06106a"/><circle cx="333.2" cy="317.5" r="0.7" fill="#06106a"/><circle cx="91.7" cy="258.6" r="0.7" fill="#06106a"/><circle cx="241.5" cy="408.3" r="0.7" fill="#06106a"/><circle cx="129.1" cy="289.2" r="0.7" fill="#06106a"/><circle cx="400.9" cy="265.0" r="0.7" fill="#06106a"/><circle cx="84.2" cy="266.7" r="0.7" fill="#06106a"/><circle cx="135.6" cy="230.7" r="0.7" fill="#06106a"/><circle cx="366.8" cy="282.3" r="0.7" fill="#06106a"/><circle cx="254.0" cy="395.3" r="0.7" fill="#06106a"/><circle cx="221.0" cy="371.3" r="0.7" fill="#06106a"/><circle cx="376.3" cy="261.9" r="0.7" fill="#06106a"/><circle cx="292.2" cy="164.8" r="0.7" fill="#06106a"/><circle cx="170.7" cy="191.1" r="0.7" fill="#06106a"/><circle cx="291.6" cy="349.1" r="0.7" fill="#06106a"/><circle cx="293.3" cy="177.1" r="0.7" fill="#06106a"/><circle cx="112.5" cy="304.3" r="0.7" fill="#06106a"/><circle cx="187.6" cy="168.6" r="0.7" fill="#06106a"/><circle cx="281.3" cy="354.0" r="0.7" fill="#06106a"/><circle cx="317.4" cy="331.8" r="0.7" fill="#06106a"/><circle cx="95.6" cy="253.3" r="0.7" fill="#06106a"/><circle cx="303.6" cy="185.8" r="0.7" fill="#06106a"/><circle cx="90.1" cy="277.8" r="0.7" fill="#06106a"/><circle cx="219.6" cy="373.1" r="0.7" fill="#06106a"/><circle cx="278.7" cy="153.5" r="0.7" fill="#06106a"/><circle cx="216.9" cy="154.1" r="0.7" fill="#06106a"/><circle cx="106.6" cy="255.2" r="0.7" fill="#06106a"/><circle cx="395.0" cy="266.3" r="0.7" fill="#06106a"/><circle cx="246.5" cy="147.9" r="0.7" fill="#06106a"/><circle cx="330.7" cy="316.9" r="0.7" fill="#06106a"/><circle cx="149.8" cy="214.2" r="0.7" fill="#06106a"/><circle cx="157.9" cy="204.5" r="0.7" fill="#06106a"/><circle cx="323.3" cy="342.2" r="0.7" fill="#06106a"/><circle cx="341.6" cy="208.7" r="0.7" fill="#06106a"/><circle cx="276.0" cy="386.1" r="0.7" fill="#06106a"/><circle cx="381.2" cy="262.6" r="0.7" fill="#06106a"/><circle cx="375.3" cy="282.3" r="0.7" fill="#06106a"/><circle cx="177.3" cy="197.2" r="0.7" fill="#06106a"/><circle cx="318.4" cy="207.3" r="0.7" fill="#06106a"/><circle cx="306.2" cy="194.7" r="0.7" fill="#06106a"/><circle cx="370.6" cy="261.8" r="0.7" fill="#06106a"/><circle cx="295.6" cy="194.1" r="0.7" fill="#06106a"/><circle cx="365.2" cy="279.1" r="0.7" fill="#06106a"/><circle cx="209.2" cy="160.3" r="0.7" fill="#06106a"/><circle cx="341.3" cy="226.2" r="0.7" fill="#06106a"/></g><rect x="60" y="130" width="360" height="320" filter="url(#anoise)" opacity="0.6"/></g>
<path d="M67.5 268.8l-5.0 4.8 M72.3 273.7l-2.5 2.4 M77.1 278.7l-2.5 2.4 M81.9 283.6l-2.5 2.4 M86.7 288.6l-2.5 2.4 M91.5 293.5l-2.5 2.4 M96.3 298.4l-2.5 2.4 M101.1 303.4l-2.5 2.4 M105.9 308.3l-2.5 2.4 M110.7 313.2l-2.5 2.4 M115.5 318.2l-5.0 4.8 M120.3 323.1l-2.5 2.4 M125.1 328.1l-2.5 2.4 M129.9 333.0l-2.5 2.4 M134.7 337.9l-2.5 2.4 M139.5 342.9l-2.5 2.4 M144.3 347.8l-2.5 2.4 M149.1 352.8l-2.5 2.4 M153.8 357.7l-2.5 2.4 M158.6 362.6l-2.5 2.4 M163.4 367.6l-5.0 4.8 M168.2 372.5l-2.5 2.4 M173.0 377.5l-2.5 2.4 M177.8 382.4l-2.5 2.4 M182.6 387.3l-2.5 2.4 M187.4 392.3l-2.5 2.4 M192.2 397.2l-2.5 2.4 M197.0 402.2l-2.5 2.4 M201.8 407.1l-2.5 2.4 M206.6 412.0l-2.5 2.4 M211.4 417.0l-5.0 4.8 M216.2 421.9l-2.5 2.4 M221.0 426.8l-2.5 2.4 M225.8 431.8l-2.5 2.4 M230.6 436.7l-2.5 2.4 M235.4 441.7l-2.5 2.4 M240.2 446.6l-2.5 2.4 M240.2 446.6l5.0 4.8 M245.0 441.6l2.5 2.4 M249.9 436.6l2.5 2.4 M254.7 431.7l2.5 2.4 M259.6 426.7l2.5 2.4 M264.4 421.7l2.5 2.4 M269.3 416.7l2.5 2.4 M274.1 411.7l2.5 2.4 M279.0 406.7l2.5 2.4 M283.8 401.8l2.5 2.4 M288.6 396.8l5.0 4.8 M293.5 391.8l2.5 2.4 M298.3 386.8l2.5 2.4 M303.2 381.8l2.5 2.4 M308.0 376.8l2.5 2.4 M312.9 371.9l2.5 2.4 M317.7 366.9l2.5 2.4 M322.6 361.9l2.5 2.4 M327.4 356.9l2.5 2.4 M332.2 351.9l2.5 2.4 M337.1 346.9l5.0 4.8 M341.9 341.9l2.5 2.4 M346.8 337.0l2.5 2.4 M351.6 332.0l2.5 2.4 M356.5 327.0l2.5 2.4 M361.3 322.0l2.5 2.4 M366.2 317.0l2.5 2.4 M371.0 312.1l2.5 2.4 M375.8 307.1l2.5 2.4 M380.7 302.1l2.5 2.4 M385.5 297.1l5.0 4.8 M390.4 292.1l2.5 2.4 M395.2 287.1l2.5 2.4 M400.1 282.1l2.5 2.4 M404.9 277.2l2.5 2.4 M409.8 272.2l2.5 2.4 M414.6 267.2l2.5 2.4" stroke="#555" stroke-width="0.9" fill="none"/>
<path d="M240.2 446.6l-4.5 5M240.2 446.6l5.5 7M67.5 268.8l-7.5 6.2M65 256.2l-7.5 0.8M65 256.2L67.5 268.8" stroke="#555" stroke-width="0.9" fill="none"/>
<path d="M65.4 258.3l-3.6 0.4M65.8 260.4l-3.6 0.4M66.2 262.5l-3.6 0.4M66.7 264.6l-3.6 0.4M67.1 266.7l-3.6 0.4" stroke="#666" stroke-width="0.7" fill="none"/>
<text transform="translate(39.99,247.20) scale(0.9432,1.0000)" font-family='"Liberation Sans", sans-serif' font-size="15.8" fill="#222">µm</text><text transform="translate(13.69,269.60) scale(0.8181,1.0000)" font-family='"Liberation Sans", sans-serif' font-size="17.4" fill="#222">606.7</text><text transform="translate(46.31,277.80) scale(0.8885,1.0000)" font-family='"Liberation Sans", sans-serif' font-size="16.5" fill="#222">0</text><text transform="translate(51.23,286.50) scale(0.8631,1.0000)" font-family='"Liberation Sans", sans-serif' font-size="16.5" fill="#222">0</text><text transform="translate(94.99,333.70) scale(0.8500,1.0000)" font-family='"Liberation Sans", sans-serif' font-size="16.2" fill="#222">1</text><text transform="translate(142.18,383.30) scale(0.8500,1.0000)" font-family='"Liberation Sans", sans-serif' font-size="16.2" fill="#222">2</text><text transform="translate(194.91,437.40) scale(0.8500,1.0000)" font-family='"Liberation Sans", sans-serif' font-size="16.2" fill="#222">3</text><text transform="translate(247.06,467.70) scale(0.8500,1.0000)" font-family='"Liberation Sans", sans-serif' font-size="16.2" fill="#222">0</text><text transform="translate(398.41,310.60) scale(0.8500,1.0000)" font-family='"Liberation Sans", sans-serif' font-size="16.2" fill="#222">3</text><text transform="translate(352.58,358.50) scale(0.8500,1.0000)" font-family='"Liberation Sans", sans-serif' font-size="16.2" fill="#222">2</text><text transform="translate(302.29,410.00) scale(0.8500,1.0000)" font-family='"Liberation Sans", sans-serif' font-size="16.2" fill="#222">1</text><text transform="translate(110.62,386.40) scale(0.7909,1.0000)" font-family='"Liberation Sans", sans-serif' font-size="16.5" fill="#222">mm</text><text transform="translate(345.91,385.40) scale(0.7989,1.0000)" font-family='"Liberation Sans", sans-serif' font-size="16.5" fill="#222">mm</text>
<line x1="56.1" y1="405.4" x2="66.8" y2="396.2" stroke="#10ee10" stroke-width="2.2"/><polygon points="72.7,391.1 69.1,398.9 66.3,396.6 64.5,393.5" fill="#10ee10" stroke="#10ee10" stroke-width="0.544" stroke-linejoin="round"/><line x1="56.1" y1="405.4" x2="66.9" y2="414.6" stroke="#f00808" stroke-width="2.2"/><polygon points="72.9,419.6 64.6,417.3 66.4,414.1 69.2,411.9" fill="#f00808" stroke="#f00808" stroke-width="0.544" stroke-linejoin="round"/><line x1="56.1" y1="405.4" x2="56.3" y2="394.7" stroke="#0c0cf0" stroke-width="2.2"/><path d="M56.3 387.9 C57.3 389.9 60.0 392.7 59.8 394.4 C59.6 396.4 57.3 397.1 56.3 397.1 C55.3 397.1 53.0 396.4 52.8 394.4 C52.6 392.7 55.3 389.9 56.3 387.9Z" fill="#0c0cf0"/><circle cx="56.1" cy="405.4" r="2.6" fill="#000"/><g font-family='"Liberation Sans", sans-serif' font-size="6.5"><text x="53.6" y="385" fill="#5050f0">z</text><text x="73.6" y="388.5" fill="#50e050">y</text><text x="73.8" y="424" fill="#f05050">x</text></g>
<defs><linearGradient id="acb" x1="0" y1="0" x2="0" y2="1">
<stop offset="0" stop-color="#a00c30"/><stop offset="0.06" stop-color="#c41420"/><stop offset="0.12" stop-color="#e4300e"/><stop offset="0.17" stop-color="#f05a10"/><stop offset="0.25" stop-color="#f88a10"/><stop offset="0.33" stop-color="#f8c00c"/><stop offset="0.4" stop-color="#f4ec04"/><stop offset="0.5" stop-color="#a8e200"/><stop offset="0.58" stop-color="#40d038"/><stop offset="0.667" stop-color="#08c890"/><stop offset="0.75" stop-color="#04cce8"/><stop offset="0.833" stop-color="#0a5cf0"/><stop offset="0.9" stop-color="#0c12c8"/><stop offset="0.95" stop-color="#06066c"/><stop offset="1" stop-color="#020210"/></linearGradient></defs>
<polygon points="441.0,153.2 444.7,162.5 450.9,171.8 458.0,178.5 466.3,184.1 474.0,188.0 481.8,191.9 488.0,195.5 492.6,199.6 494.1,203.0 494.1,205.8 491.0,210.5 487.9,215.0 483.0,219.6 478.7,224.3 474.0,229.0 469.4,233.6 466.0,238.0 463.2,242.8 461.0,250.0 459.0,256.0 457.0,265.0 455.5,275.0 454.0,283.0 452.0,295.0 450.5,305.0 449.3,320.0 448.5,330.0 447.8,341.7 450.0,353.0 454.0,366.4 459.0,376.0 466.3,388.0 474.0,397.0 481.8,406.5 487.0,413.0 492.6,422.0 490.0,426.0 486.0,429.0 478.7,434.3 474.0,436.0 469.4,437.4 463.0,439.5 457.0,442.0 450.0,444.5 443.2,446.7 441.0,452.9" fill="#c2c2c2"/>
<rect x="430" y="120.8" width="11" height="349" fill="url(#acb)"/>
<path d="M441 469.8h4 M441 464.0h2 M441 458.2h2 M441 452.4h2 M441 446.5h2 M441 440.7h2 M441 434.9h2 M441 429.1h2 M441 423.3h2 M441 417.4h2 M441 411.6h4 M441 405.8h2 M441 400.0h2 M441 394.2h2 M441 388.4h2 M441 382.6h2 M441 376.7h2 M441 370.9h2 M441 365.1h2 M441 359.3h2 M441 353.5h4 M441 347.6h2 M441 341.8h2 M441 336.0h2 M441 330.2h2 M441 324.4h2 M441 318.6h2 M441 312.8h2 M441 306.9h2 M441 301.1h2 M441 295.3h4 M441 289.5h2 M441 283.7h2 M441 277.9h2 M441 272.0h2 M441 266.2h2 M441 260.4h2 M441 254.6h2 M441 248.8h2 M441 243.0h2 M441 237.1h4 M441 231.3h2 M441 225.5h2 M441 219.7h2 M441 213.9h2 M441 208.1h2 M441 202.2h2 M441 196.4h2 M441 190.6h2 M441 184.8h2 M441 179.0h4 M441 173.2h2 M441 167.3h2 M441 161.5h2 M441 155.7h2 M441 149.9h2 M441 144.1h2 M441 138.2h2 M441 132.4h2 M441 126.6h2 M441 120.8h4" stroke="#333" stroke-width="0.8"/>
<line x1="430" y1="296.7" x2="441" y2="296.7" stroke="#556" stroke-width="1"/>
<polygon points="442,296.7 445,293.7 448,296.7 445,299.7" fill="#fff" stroke="#666" stroke-width="0.6"/>
<polygon points="424.6,159.8 430.2,164.0 424.6,168.2" fill="#e83c10" stroke="#999" stroke-width="0.4"/>
<polygon points="424.6,246.4 430.2,250.6 424.6,254.8" fill="#f0e020" stroke="#999" stroke-width="0.4"/>
<polygon points="424.6,290.5 430.2,294.7 424.6,298.9" fill="#b0e020" stroke="#999" stroke-width="0.4"/>
<polygon points="424.6,334.3 430.2,338.5 424.6,342.7" fill="#20c070" stroke="#999" stroke-width="0.4"/>
<polygon points="424.6,377.8 430.2,382.0 424.6,386.2" fill="#18d0e8" stroke="#999" stroke-width="0.4"/>
<polygon points="424.6,421.0 430.2,425.2 424.6,429.4" fill="#1818d0" stroke="#999" stroke-width="0.4"/>
<polygon points="425,116.6 431.6,116.6 428.3,120.2" fill="#8a1020"/><line x1="424" y1="120.6" x2="432" y2="120.6" stroke="#555" stroke-width="0.6"/>
<polygon points="425,473.6 431.6,473.6 428.3,470" fill="#000"/>
<text transform="translate(446.64,476.10) scale(0.7806,1.0000)" font-family='"Liberation Sans", sans-serif' font-size="18" fill="#1a1a1a">0</text><text transform="translate(446.15,418.70) scale(0.7806,1.0000)" font-family='"Liberation Sans", sans-serif' font-size="18" fill="#1a1a1a">100</text><text transform="translate(446.50,361.30) scale(0.7806,1.0000)" font-family='"Liberation Sans", sans-serif' font-size="18" fill="#1a1a1a">200</text><text transform="translate(446.67,303.90) scale(0.7806,1.0000)" font-family='"Liberation Sans", sans-serif' font-size="18" fill="#1a1a1a">300</text><text transform="translate(446.88,246.50) scale(0.7806,1.0000)" font-family='"Liberation Sans", sans-serif' font-size="18" fill="#1a1a1a">400</text><text transform="translate(446.64,189.10) scale(0.7806,1.0000)" font-family='"Liberation Sans", sans-serif' font-size="18" fill="#1a1a1a">500</text><text transform="translate(446.50,131.70) scale(0.7806,1.0000)" font-family='"Liberation Sans", sans-serif' font-size="18" fill="#1a1a1a">600</text><text transform="translate(446.49,104.50) scale(0.9314,1.0000)" font-family='"Liberation Sans", sans-serif' font-size="16" fill="#1a1a1a">µm</text>
<defs><linearGradient id="bgrad" x1="0" y1="0" x2="0" y2="1">
<stop offset="0" stop-color="#55a8f9"/><stop offset="0.45" stop-color="#5dadf9"/><stop offset="0.75" stop-color="#72b6fa"/><stop offset="1" stop-color="#7cbcfb"/></linearGradient></defs>
<polygon points="605.5,91 605.8,91.0 605.8,92.0 605.7,92.0 605.7,93.0 605.8,93.0 605.8,94.0 606.0,94.0 606.0,95.0 606.3,95.0 606.3,96.0 606.2,96.0 606.2,97.0 606.2,97.0 606.2,98.0 606.1,98.0 606.1,99.0 606.3,99.0 606.3,100.0 606.7,100.0 606.7,101.0 606.6,101.0 606.6,102.0 606.4,102.0 606.4,103.0 606.3,103.0 606.3,104.0 606.8,104.0 606.8,105.0 606.8,105.0 606.8,106.0 606.4,106.0 606.4,107.0 606.6,107.0 606.6,108.0 606.5,108.0 606.5,109.0 606.6,109.0 606.6,110.0 606.7,110.0 606.7,111.0 606.8,111.0 606.8,112.0 607.2,112.0 607.2,113.0 607.4,113.0 607.4,114.0 607.4,114.0 607.4,115.0 607.8,115.0 607.8,116.0 608.2,116.0 608.2,117.0 607.9,117.0 607.9,118.0 608.4,118.0 608.4,119.0 608.6,119.0 608.6,120.0 609.2,120.0 609.2,121.0 609.2,121.0 609.2,122.0 610.2,122.0 610.2,123.0 611.0,123.0 611.0,124.0 611.5,124.0 611.5,125.0 612.1,125.0 612.1,126.0 613.4,126.0 613.4,127.0 614.1,127.0 614.1,128.0 614.9,128.0 614.9,129.0 617.4,129.0 617.4,130.0 618.6,130.0 618.6,131.0 621.9,131.0 621.9,132.0 624.6,132.0 624.6,133.0 624.5,133.0 624.5,134.0 627.9,134.0 627.9,135.0 629.8,135.0 629.8,136.0 633.3,136.0 633.3,137.0 636.6,137.0 636.6,138.0 637.4,138.0 637.4,139.0 641.2,139.0 641.2,140.0 645.7,140.0 645.7,141.0 651.8,141.0 651.8,142.0 654.1,142.0 654.1,143.0 660.4,143.0 660.4,144.0 663.1,144.0 663.1,145.0 668.5,145.0 668.5,146.0 673.2,146.0 673.2,147.0 682.5,147.0 682.5,148.0 689.2,148.0 689.2,149.0 699.5,149.0 699.5,150.0 705.5,150.0 705.5,151.0 712.9,151.0 712.9,152.0 721.7,152.0 721.7,153.0 728.9,153.0 728.9,154.0 740.1,154.0 740.1,155.0 756.0,155.0 756.0,156.0 765.8,156.0 765.8,157.0 777.9,157.0 777.9,158.0 790.2,158.0 790.2,159.0 806.6,159.0 806.6,160.0 819.0,160.0 819.0,161.0 832.6,161.0 832.6,162.0 847.0,162.0 847.0,163.0 861.3,163.0 861.3,164.0 873.0,164.0 873.0,165.0 892.0,165.0 892.0,166.0 899.7,166.0 899.7,167.0 908.9,167.0 908.9,168.0 918.2,168.0 918.2,169.0 935.6,169.0 935.6,170.0 942.4,170.0 942.4,171.0 945.7,171.0 945.7,172.0 949.0,172.0 949.0,173.0 961.0,173.0 961.0,174.0 968.9,174.0 968.9,175.0 978.0,175.0 978.0,176.0 986.5,176.0 986.5,177.0 979.1,177.0 979.1,178.0 973.5,178.0 973.5,179.0 967.1,179.0 967.1,180.0 958.5,180.0 958.5,181.0 953.9,181.0 953.9,182.0 954.7,182.0 954.7,183.0 945.4,183.0 945.4,184.0 935.1,184.0 935.1,185.0 923.3,185.0 923.3,186.0 919.6,186.0 919.6,187.0 913.9,187.0 913.9,188.0 908.6,188.0 908.6,189.0 900.0,189.0 900.0,190.0 892.4,190.0 892.4,191.0 883.7,191.0 883.7,192.0 875.9,192.0 875.9,193.0 869.5,193.0 869.5,194.0 862.9,194.0 862.9,195.0 860.8,195.0 860.8,196.0 865.2,196.0 865.2,197.0 863.0,197.0 863.0,198.0 854.4,198.0 854.4,199.0 849.0,199.0 849.0,200.0 840.1,200.0 840.1,201.0 828.2,201.0 828.2,202.0 824.4,202.0 824.4,203.0 815.6,203.0 815.6,204.0 807.9,204.0 807.9,205.0 803.5,205.0 803.5,206.0 799.2,206.0 799.2,207.0 798.8,207.0 798.8,208.0 801.4,208.0 801.4,209.0 798.1,209.0 798.1,210.0 796.7,210.0 796.7,211.0 797.7,211.0 797.7,212.0 788.6,212.0 788.6,213.0 786.7,213.0 786.7,214.0 783.4,214.0 783.4,215.0 778.5,215.0 778.5,216.0 775.0,216.0 775.0,217.0 774.8,217.0 774.8,218.0 775.1,218.0 775.1,219.0 771.7,219.0 771.7,220.0 770.4,220.0 770.4,221.0 768.7,221.0 768.7,222.0 764.7,222.0 764.7,223.0 762.5,223.0 762.5,224.0 759.1,224.0 759.1,225.0 756.1,225.0 756.1,226.0 757.2,226.0 757.2,227.0 753.5,227.0 753.5,228.0 748.3,228.0 748.3,229.0 746.0,229.0 746.0,230.0 740.0,230.0 740.0,231.0 737.7,231.0 737.7,232.0 738.3,232.0 738.3,233.0 737.9,233.0 737.9,234.0 739.2,234.0 739.2,235.0 737.7,235.0 737.7,236.0 740.4,236.0 740.4,237.0 750.7,237.0 750.7,238.0 751.0,238.0 751.0,239.0 740.8,239.0 740.8,240.0 740.1,240.0 740.1,241.0 734.9,241.0 734.9,242.0 735.3,242.0 735.3,243.0 737.4,243.0 737.4,244.0 737.2,244.0 737.2,245.0 742.1,245.0 742.1,246.0 738.9,246.0 738.9,247.0 738.3,247.0 738.3,248.0 736.4,248.0 736.4,249.0 733.1,249.0 733.1,250.0 728.6,250.0 728.6,251.0 727.5,251.0 727.5,252.0 727.3,252.0 727.3,253.0 724.5,253.0 724.5,254.0 718.0,254.0 718.0,255.0 712.5,255.0 712.5,256.0 711.8,256.0 711.8,257.0 709.6,257.0 709.6,258.0 708.0,258.0 708.0,259.0 704.4,259.0 704.4,260.0 709.5,260.0 709.5,261.0 709.5,261.0 709.5,262.0 704.6,262.0 704.6,263.0 705.0,263.0 705.0,264.0 705.3,264.0 705.3,265.0 697.1,265.0 697.1,266.0 695.7,266.0 695.7,267.0 694.5,267.0 694.5,268.0 695.1,268.0 695.1,269.0 693.2,269.0 693.2,270.0 690.8,270.0 690.8,271.0 689.0,271.0 689.0,272.0 690.7,272.0 690.7,273.0 691.2,273.0 691.2,274.0 685.7,274.0 685.7,275.0 681.2,275.0 681.2,276.0 684.7,276.0 684.7,277.0 679.2,277.0 679.2,278.0 676.2,278.0 676.2,279.0 676.4,279.0 676.4,280.0 677.9,280.0 677.9,281.0 679.9,281.0 679.9,282.0 680.2,282.0 680.2,283.0 678.5,283.0 678.5,284.0 680.3,284.0 680.3,285.0 681.1,285.0 681.1,286.0 681.0,286.0 681.0,287.0 676.3,287.0 676.3,288.0 670.6,288.0 670.6,289.0 667.8,289.0 667.8,290.0 669.8,290.0 669.8,291.0 666.9,291.0 666.9,292.0 662.3,292.0 662.3,293.0 661.7,293.0 661.7,294.0 661.7,294.0 661.7,295.0 662.9,295.0 662.9,296.0 659.4,296.0 659.4,297.0 659.5,297.0 659.5,298.0 659.0,298.0 659.0,299.0 656.0,299.0 656.0,300.0 654.5,300.0 654.5,301.0 655.8,301.0 655.8,302.0 655.8,302.0 655.8,303.0 654.0,303.0 654.0,304.0 651.6,304.0 651.6,305.0 650.7,305.0 650.7,306.0 648.0,306.0 648.0,307.0 646.0,307.0 646.0,308.0 643.4,308.0 643.4,309.0 642.5,309.0 642.5,310.0 641.5,310.0 641.5,311.0 643.9,311.0 643.9,312.0 641.1,312.0 641.1,313.0 640.8,313.0 640.8,314.0 640.4,314.0 640.4,315.0 638.0,315.0 638.0,316.0 637.8,316.0 637.8,317.0 633.5,317.0 633.5,318.0 633.9,318.0 633.9,319.0 634.9,319.0 634.9,320.0 631.7,320.0 631.7,321.0 631.3,321.0 631.3,322.0 633.5,322.0 633.5,323.0 633.2,323.0 633.2,324.0 632.1,324.0 632.1,325.0 632.2,325.0 632.2,326.0 632.4,326.0 632.4,327.0 634.1,327.0 634.1,328.0 634.8,328.0 634.8,329.0 634.6,329.0 634.6,330.0 634.1,330.0 634.1,331.0 634.8,331.0 634.8,332.0 637.0,332.0 637.0,333.0 637.3,333.0 637.3,334.0 638.0,334.0 638.0,335.0 637.7,335.0 637.7,336.0 636.4,336.0 636.4,337.0 636.6,337.0 636.6,338.0 638.6,338.0 638.6,339.0 639.3,339.0 639.3,340.0 638.7,340.0 638.7,341.0 637.7,341.0 637.7,342.0 639.6,342.0 639.6,343.0 640.4,343.0 640.4,344.0 641.0,344.0 641.0,345.0 641.7,345.0 641.7,346.0 643.4,346.0 643.4,347.0 644.8,347.0 644.8,348.0 647.0,348.0 647.0,349.0 648.5,349.0 648.5,350.0 650.8,350.0 650.8,351.0 652.4,351.0 652.4,352.0 652.5,352.0 652.5,353.0 653.7,353.0 653.7,354.0 656.8,354.0 656.8,355.0 658.7,355.0 658.7,356.0 663.0,356.0 663.0,357.0 668.5,357.0 668.5,358.0 670.4,358.0 670.4,359.0 671.7,359.0 671.7,360.0 679.5,360.0 679.5,361.0 683.5,361.0 683.5,362.0 688.8,362.0 688.8,363.0 688.9,363.0 688.9,364.0 696.4,364.0 696.4,365.0 700.2,365.0 700.2,366.0 702.0,366.0 702.0,367.0 704.0,367.0 704.0,368.0 707.6,368.0 707.6,369.0 710.7,369.0 710.7,370.0 713.8,370.0 713.8,371.0 715.3,371.0 715.3,372.0 723.3,372.0 723.3,373.0 726.5,373.0 726.5,374.0 730.9,374.0 730.9,375.0 735.6,375.0 735.6,376.0 734.8,376.0 734.8,377.0 743.9,377.0 743.9,378.0 749.4,378.0 749.4,379.0 755.2,379.0 755.2,380.0 762.6,380.0 762.6,381.0 767.0,381.0 767.0,382.0 777.6,382.0 777.6,383.0 783.3,383.0 783.3,384.0 793.4,384.0 793.4,385.0 799.8,385.0 799.8,386.0 810.2,386.0 810.2,387.0 819.9,387.0 819.9,388.0 817.8,388.0 817.8,389.0 814.1,389.0 814.1,390.0 819.9,390.0 819.9,391.0 816.8,391.0 816.8,392.0 825.2,392.0 825.2,393.0 830.7,393.0 830.7,394.0 834.7,394.0 834.7,395.0 840.3,395.0 840.3,396.0 852.0,396.0 852.0,397.0 866.2,397.0 866.2,398.0 877.1,398.0 877.1,399.0 897.1,399.0 897.1,400.0 921.3,400.0 921.3,401.0 910.8,401.0 910.8,402.0 899.4,402.0 899.4,403.0 903.3,403.0 903.3,404.0 910.5,404.0 910.5,405.0 922.4,405.0 922.4,406.0 934.9,406.0 934.9,407.0 947.9,407.0 947.9,408.0 960.0,408.0 960.0,409.0 944.8,409.0 944.8,410.0 938.1,410.0 938.1,411.0 943.7,411.0 943.7,412.0 939.5,412.0 939.5,413.0 935.1,413.0 935.1,414.0 931.3,414.0 931.3,415.0 932.6,415.0 932.6,416.0 911.0,416.0 911.0,417.0 885.1,417.0 885.1,418.0 898.3,418.0 898.3,419.0 883.1,419.0 883.1,420.0 867.1,420.0 867.1,421.0 853.1,421.0 853.1,422.0 839.0,422.0 839.0,423.0 829.9,423.0 829.9,424.0 825.8,424.0 825.8,425.0 825.4,425.0 825.4,426.0 817.5,426.0 817.5,427.0 815.3,427.0 815.3,428.0 806.9,428.0 806.9,429.0 776.5,429.0 776.5,430.0 749.8,430.0 749.8,431.0 718.7,431.0 718.7,432.0 687.8,432.0 687.8,433.0 655.5,433.0 655.5,434.0 631.6,434.0 631.6,435.0 621.4,435.0 621.4,436.0 616.4,436.0 616.4,437.0 613.2,437.0 613.2,438.0 611.2,438.0 611.2,439.0 610.0,439.0 610.0,440.0 608.8,440.0 608.8,441.0 608.5,441.0 608.5,442.0 608.1,442.0 608.1,443.0 607.7,443.0 607.7,444.0 607.2,444.0 607.2,445.0 607.0,445.0 607.0,446.0 606.8,446.0 606.8,447.0 606.6,447.0 606.6,448.0 606.4,448.0 606.4,449.0 606.2,449.0 606.2,450.0 606.1,450.0 606.1,451.0 606.0,451.0 606.0,452.0 606.0,452.0 606.0,453.0 605.8,453.0 605.8,454.0 605.6,454.0 605.6,455.0 605.6,455.0 605.6,456.0 605.6,456.0 605.6,457.0 605.6,457.0 605.6,458.0 605.6,458.0 605.6,459.0 605.6,459.0 605.6,460.0 605.5,460" fill="url(#bgrad)"/>
<polyline points="605.8,91.0 605.8,92.0 605.7,92.0 605.7,93.0 605.8,93.0 605.8,94.0 606.0,94.0 606.0,95.0 606.3,95.0 606.3,96.0 606.2,96.0 606.2,97.0 606.2,97.0 606.2,98.0 606.1,98.0 606.1,99.0 606.3,99.0 606.3,100.0 606.7,100.0 606.7,101.0 606.6,101.0 606.6,102.0 606.4,102.0 606.4,103.0 606.3,103.0 606.3,104.0 606.8,104.0 606.8,105.0 606.8,105.0 606.8,106.0 606.4,106.0 606.4,107.0 606.6,107.0 606.6,108.0 606.5,108.0 606.5,109.0 606.6,109.0 606.6,110.0 606.7,110.0 606.7,111.0 606.8,111.0 606.8,112.0 607.2,112.0 607.2,113.0 607.4,113.0 607.4,114.0 607.4,114.0 607.4,115.0 607.8,115.0 607.8,116.0 608.2,116.0 608.2,117.0 607.9,117.0 607.9,118.0 608.4,118.0 608.4,119.0 608.6,119.0 608.6,120.0 609.2,120.0 609.2,121.0 609.2,121.0 609.2,122.0 610.2,122.0 610.2,123.0 611.0,123.0 611.0,124.0 611.5,124.0 611.5,125.0 612.1,125.0 612.1,126.0 613.4,126.0 613.4,127.0 614.1,127.0 614.1,128.0 614.9,128.0 614.9,129.0 617.4,129.0 617.4,130.0 618.6,130.0 618.6,131.0 621.9,131.0 621.9,132.0 624.6,132.0 624.6,133.0 624.5,133.0 624.5,134.0 627.9,134.0 627.9,135.0 629.8,135.0 629.8,136.0 633.3,136.0 633.3,137.0 636.6,137.0 636.6,138.0 637.4,138.0 637.4,139.0 641.2,139.0 641.2,140.0 645.7,140.0 645.7,141.0 651.8,141.0 651.8,142.0 654.1,142.0 654.1,143.0 660.4,143.0 660.4,144.0 663.1,144.0 663.1,145.0 668.5,145.0 668.5,146.0 673.2,146.0 673.2,147.0 682.5,147.0 682.5,148.0 689.2,148.0 689.2,149.0 699.5,149.0 699.5,150.0 705.5,150.0 705.5,151.0 712.9,151.0 712.9,152.0 721.7,152.0 721.7,153.0 728.9,153.0 728.9,154.0 740.1,154.0 740.1,155.0 756.0,155.0 756.0,156.0 765.8,156.0 765.8,157.0 777.9,157.0 777.9,158.0 790.2,158.0 790.2,159.0 806.6,159.0 806.6,160.0 819.0,160.0 819.0,161.0 832.6,161.0 832.6,162.0 847.0,162.0 847.0,163.0 861.3,163.0 861.3,164.0 873.0,164.0 873.0,165.0 892.0,165.0 892.0,166.0 899.7,166.0 899.7,167.0 908.9,167.0 908.9,168.0 918.2,168.0 918.2,169.0 935.6,169.0 935.6,170.0 942.4,170.0 942.4,171.0 945.7,171.0 945.7,172.0 949.0,172.0 949.0,173.0 961.0,173.0 961.0,174.0 968.9,174.0 968.9,175.0 978.0,175.0 978.0,176.0 986.5,176.0 986.5,177.0 979.1,177.0 979.1,178.0 973.5,178.0 973.5,179.0 967.1,179.0 967.1,180.0 958.5,180.0 958.5,181.0 953.9,181.0 953.9,182.0 954.7,182.0 954.7,183.0 945.4,183.0 945.4,184.0 935.1,184.0 935.1,185.0 923.3,185.0 923.3,186.0 919.6,186.0 919.6,187.0 913.9,187.0 913.9,188.0 908.6,188.0 908.6,189.0 900.0,189.0 900.0,190.0 892.4,190.0 892.4,191.0 883.7,191.0 883.7,192.0 875.9,192.0 875.9,193.0 869.5,193.0 869.5,194.0 862.9,194.0 862.9,195.0 860.8,195.0 860.8,196.0 865.2,196.0 865.2,197.0 863.0,197.0 863.0,198.0 854.4,198.0 854.4,199.0 849.0,199.0 849.0,200.0 840.1,200.0 840.1,201.0 828.2,201.0 828.2,202.0 824.4,202.0 824.4,203.0 815.6,203.0 815.6,204.0 807.9,204.0 807.9,205.0 803.5,205.0 803.5,206.0 799.2,206.0 799.2,207.0 798.8,207.0 798.8,208.0 801.4,208.0 801.4,209.0 798.1,209.0 798.1,210.0 796.7,210.0 796.7,211.0 797.7,211.0 797.7,212.0 788.6,212.0 788.6,213.0 786.7,213.0 786.7,214.0 783.4,214.0 783.4,215.0 778.5,215.0 778.5,216.0 775.0,216.0 775.0,217.0 774.8,217.0 774.8,218.0 775.1,218.0 775.1,219.0 771.7,219.0 771.7,220.0 770.4,220.0 770.4,221.0 768.7,221.0 768.7,222.0 764.7,222.0 764.7,223.0 762.5,223.0 762.5,224.0 759.1,224.0 759.1,225.0 756.1,225.0 756.1,226.0 757.2,226.0 757.2,227.0 753.5,227.0 753.5,228.0 748.3,228.0 748.3,229.0 746.0,229.0 746.0,230.0 740.0,230.0 740.0,231.0 737.7,231.0 737.7,232.0 738.3,232.0 738.3,233.0 737.9,233.0 737.9,234.0 739.2,234.0 739.2,235.0 737.7,235.0 737.7,236.0 740.4,236.0 740.4,237.0 750.7,237.0 750.7,238.0 751.0,238.0 751.0,239.0 740.8,239.0 740.8,240.0 740.1,240.0 740.1,241.0 734.9,241.0 734.9,242.0 735.3,242.0 735.3,243.0 737.4,243.0 737.4,244.0 737.2,244.0 737.2,245.0 742.1,245.0 742.1,246.0 738.9,246.0 738.9,247.0 738.3,247.0 738.3,248.0 736.4,248.0 736.4,249.0 733.1,249.0 733.1,250.0 728.6,250.0 728.6,251.0 727.5,251.0 727.5,252.0 727.3,252.0 727.3,253.0 724.5,253.0 724.5,254.0 718.0,254.0 718.0,255.0 712.5,255.0 712.5,256.0 711.8,256.0 711.8,257.0 709.6,257.0 709.6,258.0 708.0,258.0 708.0,259.0 704.4,259.0 704.4,260.0 709.5,260.0 709.5,261.0 709.5,261.0 709.5,262.0 704.6,262.0 704.6,263.0 705.0,263.0 705.0,264.0 705.3,264.0 705.3,265.0 697.1,265.0 697.1,266.0 695.7,266.0 695.7,267.0 694.5,267.0 694.5,268.0 695.1,268.0 695.1,269.0 693.2,269.0 693.2,270.0 690.8,270.0 690.8,271.0 689.0,271.0 689.0,272.0 690.7,272.0 690.7,273.0 691.2,273.0 691.2,274.0 685.7,274.0 685.7,275.0 681.2,275.0 681.2,276.0 684.7,276.0 684.7,277.0 679.2,277.0 679.2,278.0 676.2,278.0 676.2,279.0 676.4,279.0 676.4,280.0 677.9,280.0 677.9,281.0 679.9,281.0 679.9,282.0 680.2,282.0 680.2,283.0 678.5,283.0 678.5,284.0 680.3,284.0 680.3,285.0 681.1,285.0 681.1,286.0 681.0,286.0 681.0,287.0 676.3,287.0 676.3,288.0 670.6,288.0 670.6,289.0 667.8,289.0 667.8,290.0 669.8,290.0 669.8,291.0 666.9,291.0 666.9,292.0 662.3,292.0 662.3,293.0 661.7,293.0 661.7,294.0 661.7,294.0 661.7,295.0 662.9,295.0 662.9,296.0 659.4,296.0 659.4,297.0 659.5,297.0 659.5,298.0 659.0,298.0 659.0,299.0 656.0,299.0 656.0,300.0 654.5,300.0 654.5,301.0 655.8,301.0 655.8,302.0 655.8,302.0 655.8,303.0 654.0,303.0 654.0,304.0 651.6,304.0 651.6,305.0 650.7,305.0 650.7,306.0 648.0,306.0 648.0,307.0 646.0,307.0 646.0,308.0 643.4,308.0 643.4,309.0 642.5,309.0 642.5,310.0 641.5,310.0 641.5,311.0 643.9,311.0 643.9,312.0 641.1,312.0 641.1,313.0 640.8,313.0 640.8,314.0 640.4,314.0 640.4,315.0 638.0,315.0 638.0,316.0 637.8,316.0 637.8,317.0 633.5,317.0 633.5,318.0 633.9,318.0 633.9,319.0 634.9,319.0 634.9,320.0 631.7,320.0 631.7,321.0 631.3,321.0 631.3,322.0 633.5,322.0 633.5,323.0 633.2,323.0 633.2,324.0 632.1,324.0 632.1,325.0 632.2,325.0 632.2,326.0 632.4,326.0 632.4,327.0 634.1,327.0 634.1,328.0 634.8,328.0 634.8,329.0 634.6,329.0 634.6,330.0 634.1,330.0 634.1,331.0 634.8,331.0 634.8,332.0 637.0,332.0 637.0,333.0 637.3,333.0 637.3,334.0 638.0,334.0 638.0,335.0 637.7,335.0 637.7,336.0 636.4,336.0 636.4,337.0 636.6,337.0 636.6,338.0 638.6,338.0 638.6,339.0 639.3,339.0 639.3,340.0 638.7,340.0 638.7,341.0 637.7,341.0 637.7,342.0 639.6,342.0 639.6,343.0 640.4,343.0 640.4,344.0 641.0,344.0 641.0,345.0 641.7,345.0 641.7,346.0 643.4,346.0 643.4,347.0 644.8,347.0 644.8,348.0 647.0,348.0 647.0,349.0 648.5,349.0 648.5,350.0 650.8,350.0 650.8,351.0 652.4,351.0 652.4,352.0 652.5,352.0 652.5,353.0 653.7,353.0 653.7,354.0 656.8,354.0 656.8,355.0 658.7,355.0 658.7,356.0 663.0,356.0 663.0,357.0 668.5,357.0 668.5,358.0 670.4,358.0 670.4,359.0 671.7,359.0 671.7,360.0 679.5,360.0 679.5,361.0 683.5,361.0 683.5,362.0 688.8,362.0 688.8,363.0 688.9,363.0 688.9,364.0 696.4,364.0 696.4,365.0 700.2,365.0 700.2,366.0 702.0,366.0 702.0,367.0 704.0,367.0 704.0,368.0 707.6,368.0 707.6,369.0 710.7,369.0 710.7,370.0 713.8,370.0 713.8,371.0 715.3,371.0 715.3,372.0 723.3,372.0 723.3,373.0 726.5,373.0 726.5,374.0 730.9,374.0 730.9,375.0 735.6,375.0 735.6,376.0 734.8,376.0 734.8,377.0 743.9,377.0 743.9,378.0 749.4,378.0 749.4,379.0 755.2,379.0 755.2,380.0 762.6,380.0 762.6,381.0 767.0,381.0 767.0,382.0 777.6,382.0 777.6,383.0 783.3,383.0 783.3,384.0 793.4,384.0 793.4,385.0 799.8,385.0 799.8,386.0 810.2,386.0 810.2,387.0 819.9,387.0 819.9,388.0 817.8,388.0 817.8,389.0 814.1,389.0 814.1,390.0 819.9,390.0 819.9,391.0 816.8,391.0 816.8,392.0 825.2,392.0 825.2,393.0 830.7,393.0 830.7,394.0 834.7,394.0 834.7,395.0 840.3,395.0 840.3,396.0 852.0,396.0 852.0,397.0 866.2,397.0 866.2,398.0 877.1,398.0 877.1,399.0 897.1,399.0 897.1,400.0 921.3,400.0 921.3,401.0 910.8,401.0 910.8,402.0 899.4,402.0 899.4,403.0 903.3,403.0 903.3,404.0 910.5,404.0 910.5,405.0 922.4,405.0 922.4,406.0 934.9,406.0 934.9,407.0 947.9,407.0 947.9,408.0 960.0,408.0 960.0,409.0 944.8,409.0 944.8,410.0 938.1,410.0 938.1,411.0 943.7,411.0 943.7,412.0 939.5,412.0 939.5,413.0 935.1,413.0 935.1,414.0 931.3,414.0 931.3,415.0 932.6,415.0 932.6,416.0 911.0,416.0 911.0,417.0 885.1,417.0 885.1,418.0 898.3,418.0 898.3,419.0 883.1,419.0 883.1,420.0 867.1,420.0 867.1,421.0 853.1,421.0 853.1,422.0 839.0,422.0 839.0,423.0 829.9,423.0 829.9,424.0 825.8,424.0 825.8,425.0 825.4,425.0 825.4,426.0 817.5,426.0 817.5,427.0 815.3,427.0 815.3,428.0 806.9,428.0 806.9,429.0 776.5,429.0 776.5,430.0 749.8,430.0 749.8,431.0 718.7,431.0 718.7,432.0 687.8,432.0 687.8,433.0 655.5,433.0 655.5,434.0 631.6,434.0 631.6,435.0 621.4,435.0 621.4,436.0 616.4,436.0 616.4,437.0 613.2,437.0 613.2,438.0 611.2,438.0 611.2,439.0 610.0,439.0 610.0,440.0 608.8,440.0 608.8,441.0 608.5,441.0 608.5,442.0 608.1,442.0 608.1,443.0 607.7,443.0 607.7,444.0 607.2,444.0 607.2,445.0 607.0,445.0 607.0,446.0 606.8,446.0 606.8,447.0 606.6,447.0 606.6,448.0 606.4,448.0 606.4,449.0 606.2,449.0 606.2,450.0 606.1,450.0 606.1,451.0 606.0,451.0 606.0,452.0 606.0,452.0 606.0,453.0 605.8,453.0 605.8,454.0 605.6,454.0 605.6,455.0 605.6,455.0 605.6,456.0 605.6,456.0 605.6,457.0 605.6,457.0 605.6,458.0 605.6,458.0 605.6,459.0 605.6,459.0 605.6,460.0" fill="none" stroke="#000" stroke-width="2.7" stroke-linejoin="miter" stroke-miterlimit="2"/>
<polygon points="941,170 960,172.6 984,174.8 991.5,175.9 984,178.3 962,181 946,182.6 950,177.5 948,174" fill="#000"/>
<polygon points="926,404.5 966.5,407.8 953,410.5 933,413.3 930,409" fill="#000"/>
<polygon points="900,402.3 912,400 913.5,403.8" fill="#000"/>
<polygon points="876,417 912,419.6 893,416.8" fill="#000"/>
<polyline points="605.5,90.7 992.3,90.7 992.3,460" fill="none" stroke="#333" stroke-width="1.2"/>
<line x1="605.3" y1="90.5" x2="605.3" y2="460.5" stroke="#111" stroke-width="1.7"/>
<line x1="595" y1="459.9" x2="992.5" y2="459.9" stroke="#111" stroke-width="1.7"/>
<path d="M595.2 459.90H605.3 M599.4 447.71H605.3 M599.4 435.53H605.3 M599.4 423.34H605.3 M599.4 411.16H605.3 M595.2 398.97H605.3 M599.4 386.78H605.3 M599.4 374.60H605.3 M599.4 362.41H605.3 M599.4 350.23H605.3 M595.2 338.04H605.3 M599.4 325.85H605.3 M599.4 313.67H605.3 M599.4 301.48H605.3 M599.4 289.30H605.3 M595.2 277.11H605.3 M599.4 264.92H605.3 M599.4 252.74H605.3 M599.4 240.55H605.3 M599.4 228.37H605.3 M595.2 216.18H605.3 M599.4 203.99H605.3 M599.4 191.81H605.3 M599.4 179.62H605.3 M599.4 167.44H605.3 M595.2 155.25H605.3 M599.4 143.06H605.3 M599.4 130.88H605.3 M599.4 118.69H605.3 M599.4 106.51H605.3 M595.2 94.32H605.3 M605.20 459.9V469 M618.28 459.9V465.2 M631.36 459.9V465.2 M644.44 459.9V465.2 M657.52 459.9V465.2 M670.60 459.9V469 M683.68 459.9V465.2 M696.76 459.9V465.2 M709.84 459.9V465.2 M722.92 459.9V465.2 M736.00 459.9V469 M749.08 459.9V465.2 M762.16 459.9V465.2 M775.24 459.9V465.2 M788.32 459.9V465.2 M801.40 459.9V469 M814.48 459.9V465.2 M827.56 459.9V465.2 M840.64 459.9V465.2 M853.72 459.9V465.2 M866.80 459.9V469 M879.88 459.9V465.2 M892.96 459.9V465.2 M906.04 459.9V465.2 M919.12 459.9V465.2 M932.20 459.9V469 M945.28 459.9V465.2 M958.36 459.9V465.2 M971.44 459.9V465.2 M984.52 459.9V465.2" stroke="#111" stroke-width="1.5" fill="none"/>
<polygon points="606.8,459.9 619,454 619,465.6" fill="#000"/>
<polygon points="992.5,459.9 997,457.2 997.2,462.4" fill="#000"/>
<text transform="translate(574.77,467.10) scale(1.0598,1.0000)" font-family='"Liberation Sans", sans-serif' font-size="21.2" fill="#1e1e2c">0</text><text transform="translate(549.78,406.17) scale(1.0598,1.0000)" font-family='"Liberation Sans", sans-serif' font-size="21.2" fill="#1e1e2c">100</text><text transform="translate(549.78,345.24) scale(1.0598,1.0000)" font-family='"Liberation Sans", sans-serif' font-size="21.2" fill="#1e1e2c">200</text><text transform="translate(549.78,284.31) scale(1.0598,1.0000)" font-family='"Liberation Sans", sans-serif' font-size="21.2" fill="#1e1e2c">300</text><text transform="translate(549.78,223.38) scale(1.0598,1.0000)" font-family='"Liberation Sans", sans-serif' font-size="21.2" fill="#1e1e2c">400</text><text transform="translate(549.78,162.45) scale(1.0598,1.0000)" font-family='"Liberation Sans", sans-serif' font-size="21.2" fill="#1e1e2c">500</text><text transform="translate(549.78,101.52) scale(1.0598,1.0000)" font-family='"Liberation Sans", sans-serif' font-size="21.2" fill="#1e1e2c">600</text><text transform="translate(582.61,487.50) scale(1.0482,1.0000)" font-family='"Liberation Sans", sans-serif' font-size="21.2" fill="#1e1e2c">0.00</text><text transform="translate(712.69,487.80) scale(1.0782,1.0000)" font-family='"Liberation Sans", sans-serif' font-size="21.2" fill="#1e1e2c">0.02</text><text transform="translate(848.68,487.80) scale(1.0799,1.0000)" font-family='"Liberation Sans", sans-serif' font-size="21.2" fill="#1e1e2c">0.04 %</text><text transform="translate(556.08,72.60) scale(1.1584,1.0000)" font-family='"Liberation Sans", sans-serif' font-size="19.5" fill="#1e1e2c">µm</text>
<text transform="translate(671.04,525.60) scale(1.0523,1.0000)" font-family='"Liberation Sans", sans-serif' font-size="26" fill="#000">Probability density</text>
<text transform="translate(511.4,194.6) rotate(90)" font-family='"Liberation Sans", sans-serif' font-size="27.6" fill="#000">Pad height</text>
<defs><linearGradient id="cgrad" gradientUnits="userSpaceOnUse" x1="1090" y1="0" x2="1440" y2="0">
<stop offset="0" stop-color="#b2d9fd"/><stop offset="0.3" stop-color="#a2d0fc"/><stop offset="0.6" stop-color="#8fc5fa"/><stop offset="1" stop-color="#70b2f7"/></linearGradient></defs>
<g id="cchart">
<polygon points="1090,95 1090.8,94.0 1090.8,95.0 1091.3,95.0 1091.3,96.0 1091.9,96.0 1091.9,97.0 1092.3,97.0 1092.3,98.0 1092.3,98.0 1092.3,99.0 1092.2,99.0 1092.2,100.0 1092.4,100.0 1092.4,101.0 1092.4,101.0 1092.4,102.0 1092.5,102.0 1092.5,103.0 1092.3,103.0 1092.3,104.0 1092.6,104.0 1092.6,105.0 1092.5,105.0 1092.5,106.0 1092.6,106.0 1092.6,107.0 1092.6,107.0 1092.6,108.0 1092.6,108.0 1092.6,109.0 1092.7,109.0 1092.7,110.0 1092.8,110.0 1092.8,111.0 1092.7,111.0 1092.7,112.0 1092.7,112.0 1092.7,113.0 1092.8,113.0 1092.8,114.0 1092.7,114.0 1092.7,115.0 1092.6,115.0 1092.6,116.0 1092.8,116.0 1092.8,117.0 1092.8,117.0 1092.8,118.0 1092.7,118.0 1092.7,119.0 1092.8,119.0 1092.8,120.0 1092.9,120.0 1092.9,121.0 1092.9,121.0 1092.9,122.0 1093.0,122.0 1093.0,123.0 1093.4,123.0 1093.4,124.0 1094.0,124.0 1094.0,125.0 1094.1,125.0 1094.1,126.0 1094.1,126.0 1094.1,127.0 1094.9,127.0 1094.9,128.0 1096.0,128.0 1096.0,129.0 1096.7,129.0 1096.7,130.0 1097.7,130.0 1097.7,131.0 1099.6,131.0 1099.6,132.0 1100.7,132.0 1100.7,133.0 1101.7,133.0 1101.7,134.0 1103.7,134.0 1103.7,135.0 1105.5,135.0 1105.5,136.0 1107.9,136.0 1107.9,137.0 1108.7,137.0 1108.7,138.0 1110.7,138.0 1110.7,139.0 1112.6,139.0 1112.6,140.0 1114.2,140.0 1114.2,141.0 1117.8,141.0 1117.8,142.0 1121.2,142.0 1121.2,143.0 1123.8,143.0 1123.8,144.0 1128.9,144.0 1128.9,145.0 1132.8,145.0 1132.8,146.0 1136.8,146.0 1136.8,147.0 1140.6,147.0 1140.6,148.0 1145.2,148.0 1145.2,149.0 1147.7,149.0 1147.7,150.0 1153.6,150.0 1153.6,151.0 1159.4,151.0 1159.4,152.0 1161.9,152.0 1161.9,153.0 1169.0,153.0 1169.0,154.0 1174.9,154.0 1174.9,155.0 1183.3,155.0 1183.3,156.0 1189.8,156.0 1189.8,157.0 1198.4,157.0 1198.4,158.0 1208.5,158.0 1208.5,159.0 1216.5,159.0 1216.5,160.0 1228.1,160.0 1228.1,161.0 1239.3,161.0 1239.3,162.0 1250.1,162.0 1250.1,163.0 1256.7,163.0 1256.7,164.0 1272.2,164.0 1272.2,165.0 1285.4,165.0 1285.4,166.0 1297.7,166.0 1297.7,167.0 1312.6,167.0 1312.6,168.0 1327.8,168.0 1327.8,169.0 1343.6,169.0 1343.6,170.0 1349.9,170.0 1349.9,171.0 1366.0,171.0 1366.0,172.0 1379.6,172.0 1379.6,173.0 1391.6,173.0 1391.6,174.0 1401.7,174.0 1401.7,175.0 1417.3,175.0 1417.3,176.0 1421.5,176.0 1421.5,177.0 1429.3,177.0 1429.3,178.0 1437.8,178.0 1437.8,179.0 1434.3,179.0 1434.3,180.0 1437.7,180.0 1437.7,181.0 1436.1,181.0 1436.1,182.0 1440.5,182.0 1440.5,183.0 1441.7,183.0 1441.7,184.0 1441.8,184.0 1441.8,185.0 1428.6,185.0 1428.6,186.0 1421.8,186.0 1421.8,187.0 1418.9,187.0 1418.9,188.0 1416.3,188.0 1416.3,189.0 1405.2,189.0 1405.2,190.0 1391.1,190.0 1391.1,191.0 1383.1,191.0 1383.1,192.0 1375.2,192.0 1375.2,193.0 1366.9,193.0 1366.9,194.0 1357.8,194.0 1357.8,195.0 1352.5,195.0 1352.5,196.0 1346.0,196.0 1346.0,197.0 1338.1,197.0 1338.1,198.0 1330.2,198.0 1330.2,199.0 1319.8,199.0 1319.8,200.0 1312.8,200.0 1312.8,201.0 1309.5,201.0 1309.5,202.0 1303.3,202.0 1303.3,203.0 1294.8,203.0 1294.8,204.0 1297.1,204.0 1297.1,205.0 1295.1,205.0 1295.1,206.0 1297.2,206.0 1297.2,207.0 1293.5,207.0 1293.5,208.0 1288.5,208.0 1288.5,209.0 1281.0,209.0 1281.0,210.0 1282.1,210.0 1282.1,211.0 1284.5,211.0 1284.5,212.0 1276.9,212.0 1276.9,213.0 1272.3,213.0 1272.3,214.0 1271.7,214.0 1271.7,215.0 1267.3,215.0 1267.3,216.0 1265.2,216.0 1265.2,217.0 1263.3,217.0 1263.3,218.0 1263.9,218.0 1263.9,219.0 1266.0,219.0 1266.0,220.0 1264.5,220.0 1264.5,221.0 1262.1,221.0 1262.1,222.0 1255.4,222.0 1255.4,223.0 1251.7,223.0 1251.7,224.0 1243.0,224.0 1243.0,225.0 1240.2,225.0 1240.2,226.0 1242.8,226.0 1242.8,227.0 1240.7,227.0 1240.7,228.0 1241.3,228.0 1241.3,229.0 1239.6,229.0 1239.6,230.0 1238.6,230.0 1238.6,231.0 1235.9,231.0 1235.9,232.0 1234.0,232.0 1234.0,233.0 1229.7,233.0 1229.7,234.0 1225.3,234.0 1225.3,235.0 1221.9,235.0 1221.9,236.0 1219.5,236.0 1219.5,237.0 1216.6,237.0 1216.6,238.0 1217.8,238.0 1217.8,239.0 1219.5,239.0 1219.5,240.0 1221.4,240.0 1221.4,241.0 1221.7,241.0 1221.7,242.0 1219.3,242.0 1219.3,243.0 1220.2,243.0 1220.2,244.0 1220.4,244.0 1220.4,245.0 1221.8,245.0 1221.8,246.0 1222.9,246.0 1222.9,247.0 1221.6,247.0 1221.6,248.0 1221.3,248.0 1221.3,249.0 1226.5,249.0 1226.5,250.0 1225.5,250.0 1225.5,251.0 1224.5,251.0 1224.5,252.0 1223.1,252.0 1223.1,253.0 1215.4,253.0 1215.4,254.0 1212.1,254.0 1212.1,255.0 1208.8,255.0 1208.8,256.0 1205.7,256.0 1205.7,257.0 1202.4,257.0 1202.4,258.0 1198.5,258.0 1198.5,259.0 1196.8,259.0 1196.8,260.0 1192.9,260.0 1192.9,261.0 1192.6,261.0 1192.6,262.0 1191.0,262.0 1191.0,263.0 1191.1,263.0 1191.1,264.0 1189.5,264.0 1189.5,265.0 1189.5,265.0 1189.5,266.0 1189.0,266.0 1189.0,267.0 1187.2,267.0 1187.2,268.0 1185.6,268.0 1185.6,269.0 1183.7,269.0 1183.7,270.0 1181.2,270.0 1181.2,271.0 1179.6,271.0 1179.6,272.0 1177.6,272.0 1177.6,273.0 1177.2,273.0 1177.2,274.0 1175.7,274.0 1175.7,275.0 1174.7,275.0 1174.7,276.0 1170.4,276.0 1170.4,277.0 1170.5,277.0 1170.5,278.0 1167.1,278.0 1167.1,279.0 1164.4,279.0 1164.4,280.0 1163.5,280.0 1163.5,281.0 1162.9,281.0 1162.9,282.0 1163.5,282.0 1163.5,283.0 1162.5,283.0 1162.5,284.0 1161.1,284.0 1161.1,285.0 1160.6,285.0 1160.6,286.0 1163.3,286.0 1163.3,287.0 1162.9,287.0 1162.9,288.0 1161.0,288.0 1161.0,289.0 1161.6,289.0 1161.6,290.0 1159.6,290.0 1159.6,291.0 1162.8,291.0 1162.8,292.0 1159.8,292.0 1159.8,293.0 1160.4,293.0 1160.4,294.0 1158.9,294.0 1158.9,295.0 1154.6,295.0 1154.6,296.0 1153.4,296.0 1153.4,297.0 1152.4,297.0 1152.4,298.0 1150.8,298.0 1150.8,299.0 1149.5,299.0 1149.5,300.0 1149.1,300.0 1149.1,301.0 1147.5,301.0 1147.5,302.0 1146.5,302.0 1146.5,303.0 1144.9,303.0 1144.9,304.0 1144.6,304.0 1144.6,305.0 1141.5,305.0 1141.5,306.0 1141.0,306.0 1141.0,307.0 1138.4,307.0 1138.4,308.0 1135.7,308.0 1135.7,309.0 1134.8,309.0 1134.8,310.0 1134.8,310.0 1134.8,311.0 1133.2,311.0 1133.2,312.0 1131.1,312.0 1131.1,313.0 1130.9,313.0 1130.9,314.0 1129.3,314.0 1129.3,315.0 1128.5,315.0 1128.5,316.0 1128.0,316.0 1128.0,317.0 1125.0,317.0 1125.0,318.0 1125.4,318.0 1125.4,319.0 1123.6,319.0 1123.6,320.0 1122.3,320.0 1122.3,321.0 1120.5,321.0 1120.5,322.0 1118.9,322.0 1118.9,323.0 1118.2,323.0 1118.2,324.0 1119.7,324.0 1119.7,325.0 1121.1,325.0 1121.1,326.0 1120.6,326.0 1120.6,327.0 1121.3,327.0 1121.3,328.0 1121.0,328.0 1121.0,329.0 1119.7,329.0 1119.7,330.0 1121.0,330.0 1121.0,331.0 1122.2,331.0 1122.2,332.0 1121.9,332.0 1121.9,333.0 1122.5,333.0 1122.5,334.0 1123.1,334.0 1123.1,335.0 1122.2,335.0 1122.2,336.0 1121.4,336.0 1121.4,337.0 1122.2,337.0 1122.2,338.0 1122.9,338.0 1122.9,339.0 1123.5,339.0 1123.5,340.0 1125.2,340.0 1125.2,341.0 1127.1,341.0 1127.1,342.0 1126.3,342.0 1126.3,343.0 1127.3,343.0 1127.3,344.0 1128.3,344.0 1128.3,345.0 1128.9,345.0 1128.9,346.0 1129.7,346.0 1129.7,347.0 1129.1,347.0 1129.1,348.0 1130.1,348.0 1130.1,349.0 1132.2,349.0 1132.2,350.0 1132.5,350.0 1132.5,351.0 1131.8,351.0 1131.8,352.0 1133.3,352.0 1133.3,353.0 1135.2,353.0 1135.2,354.0 1136.0,354.0 1136.0,355.0 1136.3,355.0 1136.3,356.0 1139.5,356.0 1139.5,357.0 1138.8,357.0 1138.8,358.0 1142.4,358.0 1142.4,359.0 1145.1,359.0 1145.1,360.0 1147.3,360.0 1147.3,361.0 1153.4,361.0 1153.4,362.0 1157.5,362.0 1157.5,363.0 1158.3,363.0 1158.3,364.0 1162.2,364.0 1162.2,365.0 1164.9,365.0 1164.9,366.0 1166.5,366.0 1166.5,367.0 1171.0,367.0 1171.0,368.0 1176.5,368.0 1176.5,369.0 1181.3,369.0 1181.3,370.0 1184.8,370.0 1184.8,371.0 1188.0,371.0 1188.0,372.0 1191.8,372.0 1191.8,373.0 1194.2,373.0 1194.2,374.0 1199.4,374.0 1199.4,375.0 1202.4,375.0 1202.4,376.0 1206.0,376.0 1206.0,377.0 1210.1,377.0 1210.1,378.0 1211.2,378.0 1211.2,379.0 1214.1,379.0 1214.1,380.0 1223.9,380.0 1223.9,381.0 1230.3,381.0 1230.3,382.0 1235.6,382.0 1235.6,383.0 1242.8,383.0 1242.8,384.0 1247.6,384.0 1247.6,385.0 1254.5,385.0 1254.5,386.0 1259.0,386.0 1259.0,387.0 1266.6,387.0 1266.6,388.0 1269.9,388.0 1269.9,389.0 1281.2,389.0 1281.2,390.0 1284.8,390.0 1284.8,391.0 1286.4,391.0 1286.4,392.0 1292.6,392.0 1292.6,393.0 1297.0,393.0 1297.0,394.0 1302.3,394.0 1302.3,395.0 1303.8,395.0 1303.8,396.0 1310.3,396.0 1310.3,397.0 1323.4,397.0 1323.4,398.0 1320.3,398.0 1320.3,399.0 1328.8,399.0 1328.8,400.0 1337.5,400.0 1337.5,401.0 1350.4,401.0 1350.4,402.0 1360.6,402.0 1360.6,403.0 1365.8,403.0 1365.8,404.0 1373.6,404.0 1373.6,405.0 1378.3,405.0 1378.3,406.0 1387.4,406.0 1387.4,407.0 1390.6,407.0 1390.6,408.0 1410.0,408.0 1410.0,409.0 1428.5,409.0 1428.5,410.0 1428.7,410.0 1428.7,411.0 1427.4,411.0 1427.4,412.0 1415.2,412.0 1415.2,413.0 1406.1,413.0 1406.1,414.0 1400.5,414.0 1400.5,415.0 1392.0,415.0 1392.0,416.0 1382.0,416.0 1382.0,417.0 1375.9,417.0 1375.9,418.0 1380.4,418.0 1380.4,419.0 1382.9,419.0 1382.9,420.0 1373.5,420.0 1373.5,421.0 1375.5,421.0 1375.5,422.0 1374.8,422.0 1374.8,423.0 1373.8,423.0 1373.8,424.0 1350.6,424.0 1350.6,425.0 1323.0,425.0 1323.0,426.0 1315.9,426.0 1315.9,427.0 1308.7,427.0 1308.7,428.0 1299.9,428.0 1299.9,429.0 1280.6,429.0 1280.6,430.0 1290.9,430.0 1290.9,431.0 1297.9,431.0 1297.9,432.0 1285.8,432.0 1285.8,433.0 1254.9,433.0 1254.9,434.0 1217.5,434.0 1217.5,435.0 1168.4,435.0 1168.4,436.0 1135.5,436.0 1135.5,437.0 1113.8,437.0 1113.8,438.0 1105.2,438.0 1105.2,439.0 1100.7,439.0 1100.7,440.0 1097.2,440.0 1097.2,441.0 1096.3,441.0 1096.3,442.0 1095.6,442.0 1095.6,443.0 1094.5,443.0 1094.5,444.0 1094.0,444.0 1094.0,445.0 1093.6,445.0 1093.6,446.0 1093.2,446.0 1093.2,447.0 1092.4,447.0 1092.4,448.0 1092.2,448.0 1092.2,449.0 1092.0,449.0 1092.0,450.0 1091.7,450.0 1091.7,451.0 1091.5,451.0 1091.5,452.0 1091.4,452.0 1091.4,453.0 1091.3,453.0 1091.3,454.0 1091.2,454.0 1091.2,455.0 1091.1,455.0 1091.1,456.0 1091.0,456.0 1091.0,457.0 1090.9,457.0 1090.9,458.0 1090.8,458.0 1090.8,459.0 1090.8,459.0 1090.8,460.0 1090.7,460.0 1090.7,461.0 1090.7,461.0 1090.7,462.0 1090.6,462.0 1090.6,463.0 1090.6,463.0 1090.6,464.0 1090,464" fill="#55a6f8"/>
<polygon points="1090,95 1090.6,94.0 1090.6,95.0 1091.0,95.0 1091.0,96.0 1091.4,96.0 1091.4,97.0 1091.7,97.0 1091.7,98.0 1091.7,98.0 1091.7,99.0 1091.7,99.0 1091.7,100.0 1091.7,100.0 1091.7,101.0 1091.7,101.0 1091.7,102.0 1091.8,102.0 1091.8,103.0 1091.7,103.0 1091.7,104.0 1091.9,104.0 1091.9,105.0 1091.9,105.0 1091.9,106.0 1091.9,106.0 1091.9,107.0 1091.9,107.0 1091.9,108.0 1091.9,108.0 1091.9,109.0 1092.0,109.0 1092.0,110.0 1092.0,110.0 1092.0,111.0 1092.0,111.0 1092.0,112.0 1092.0,112.0 1092.0,113.0 1092.1,113.0 1092.1,114.0 1092.0,114.0 1092.0,115.0 1091.9,115.0 1091.9,116.0 1092.1,116.0 1092.1,117.0 1092.1,117.0 1092.1,118.0 1092.0,118.0 1092.0,119.0 1092.0,119.0 1092.0,120.0 1092.1,120.0 1092.1,121.0 1092.2,121.0 1092.2,122.0 1092.2,122.0 1092.2,123.0 1092.5,123.0 1092.5,124.0 1092.9,124.0 1092.9,125.0 1093.0,125.0 1093.0,126.0 1093.0,126.0 1093.0,127.0 1093.6,127.0 1093.6,128.0 1094.4,128.0 1094.4,129.0 1094.9,129.0 1094.9,130.0 1095.7,130.0 1095.7,131.0 1097.0,131.0 1097.0,132.0 1097.9,132.0 1097.9,133.0 1098.6,133.0 1098.6,134.0 1100.1,134.0 1100.1,135.0 1101.5,135.0 1101.5,136.0 1103.2,136.0 1103.2,137.0 1103.8,137.0 1103.8,138.0 1105.3,138.0 1105.3,139.0 1106.7,139.0 1106.7,140.0 1107.9,140.0 1107.9,141.0 1110.6,141.0 1110.6,142.0 1113.2,142.0 1113.2,143.0 1115.1,143.0 1115.1,144.0 1118.9,144.0 1118.9,145.0 1121.8,145.0 1121.8,146.0 1124.8,146.0 1124.8,147.0 1127.7,147.0 1127.7,148.0 1131.2,148.0 1131.2,149.0 1133.1,149.0 1133.1,150.0 1137.6,150.0 1137.6,151.0 1142.0,151.0 1142.0,152.0 1143.9,152.0 1143.9,153.0 1149.4,153.0 1149.4,154.0 1154.0,154.0 1154.0,155.0 1160.4,155.0 1160.4,156.0 1165.4,156.0 1165.4,157.0 1172.2,157.0 1172.2,158.0 1180.1,158.0 1180.1,159.0 1186.4,159.0 1186.4,160.0 1195.6,160.0 1195.6,161.0 1204.5,161.0 1204.5,162.0 1213.1,162.0 1213.1,163.0 1218.5,163.0 1218.5,164.0 1231.0,164.0 1231.0,165.0 1241.7,165.0 1241.7,166.0 1251.9,166.0 1251.9,167.0 1264.1,167.0 1264.1,168.0 1276.9,168.0 1276.9,169.0 1290.1,169.0 1290.1,170.0 1295.4,170.0 1295.4,171.0 1309.1,171.0 1309.1,172.0 1320.7,172.0 1320.7,173.0 1331.0,173.0 1331.0,174.0 1339.8,174.0 1339.8,175.0 1353.4,175.0 1353.4,176.0 1357.1,176.0 1357.1,177.0 1363.9,177.0 1363.9,178.0 1371.4,178.0 1371.4,179.0 1368.4,179.0 1368.4,180.0 1371.3,180.0 1371.3,181.0 1369.9,181.0 1369.9,182.0 1373.8,182.0 1373.8,183.0 1374.9,183.0 1374.9,184.0 1374.9,184.0 1374.9,185.0 1363.3,185.0 1363.3,186.0 1357.3,186.0 1357.3,187.0 1354.8,187.0 1354.8,188.0 1352.5,188.0 1352.5,189.0 1342.8,189.0 1342.8,190.0 1330.6,190.0 1330.6,191.0 1323.8,191.0 1323.8,192.0 1316.9,192.0 1316.9,193.0 1309.8,193.0 1309.8,194.0 1302.1,194.0 1302.1,195.0 1297.6,195.0 1297.6,196.0 1292.1,196.0 1292.1,197.0 1285.5,197.0 1285.5,198.0 1278.8,198.0 1278.8,199.0 1270.2,199.0 1270.2,200.0 1264.3,200.0 1264.3,201.0 1261.6,201.0 1261.6,202.0 1256.4,202.0 1256.4,203.0 1249.5,203.0 1249.5,204.0 1251.3,204.0 1251.3,205.0 1249.7,205.0 1249.7,206.0 1251.5,206.0 1251.5,207.0 1248.4,207.0 1248.4,208.0 1244.3,208.0 1244.3,209.0 1238.2,209.0 1238.2,210.0 1239.1,210.0 1239.1,211.0 1241.0,211.0 1241.0,212.0 1234.8,212.0 1234.8,213.0 1231.1,213.0 1231.1,214.0 1230.6,214.0 1230.6,215.0 1227.0,215.0 1227.0,216.0 1225.3,216.0 1225.3,217.0 1223.8,217.0 1223.8,218.0 1224.3,218.0 1224.3,219.0 1225.9,219.0 1225.9,220.0 1224.8,220.0 1224.8,221.0 1222.8,221.0 1222.8,222.0 1217.4,222.0 1217.4,223.0 1214.5,223.0 1214.5,224.0 1207.4,224.0 1207.4,225.0 1205.2,225.0 1205.2,226.0 1207.3,226.0 1207.3,227.0 1205.6,227.0 1205.6,228.0 1206.1,228.0 1206.1,229.0 1204.7,229.0 1204.7,230.0 1203.9,230.0 1203.9,231.0 1201.8,231.0 1201.8,232.0 1200.3,232.0 1200.3,233.0 1196.9,233.0 1196.9,234.0 1193.4,234.0 1193.4,235.0 1190.7,235.0 1190.7,236.0 1188.7,236.0 1188.7,237.0 1186.4,237.0 1186.4,238.0 1187.4,238.0 1187.4,239.0 1188.8,239.0 1188.8,240.0 1190.3,240.0 1190.3,241.0 1190.5,241.0 1190.5,242.0 1188.6,242.0 1188.6,243.0 1189.3,243.0 1189.3,244.0 1189.5,244.0 1189.5,245.0 1190.6,245.0 1190.6,246.0 1191.4,246.0 1191.4,247.0 1190.4,247.0 1190.4,248.0 1190.2,248.0 1190.2,249.0 1194.3,249.0 1194.3,250.0 1193.5,250.0 1193.5,251.0 1192.7,251.0 1192.7,252.0 1191.6,252.0 1191.6,253.0 1185.5,253.0 1185.5,254.0 1182.9,254.0 1182.9,255.0 1180.4,255.0 1180.4,256.0 1177.9,256.0 1177.9,257.0 1175.3,257.0 1175.3,258.0 1172.3,258.0 1172.3,259.0 1170.9,259.0 1170.9,260.0 1167.9,260.0 1167.9,261.0 1167.6,261.0 1167.6,262.0 1166.4,262.0 1166.4,263.0 1166.5,263.0 1166.5,264.0 1165.2,264.0 1165.2,265.0 1165.2,265.0 1165.2,266.0 1164.9,266.0 1164.9,267.0 1163.5,267.0 1163.5,268.0 1162.2,268.0 1162.2,269.0 1160.7,269.0 1160.7,270.0 1158.8,270.0 1158.8,271.0 1157.6,271.0 1157.6,272.0 1156.0,272.0 1156.0,273.0 1155.7,273.0 1155.7,274.0 1154.5,274.0 1154.5,275.0 1153.8,275.0 1153.8,276.0 1150.5,276.0 1150.5,277.0 1150.6,277.0 1150.6,278.0 1147.9,278.0 1147.9,279.0 1145.8,279.0 1145.8,280.0 1145.2,280.0 1145.2,281.0 1144.7,281.0 1144.7,282.0 1145.2,282.0 1145.2,283.0 1144.4,283.0 1144.4,284.0 1143.3,284.0 1143.3,285.0 1143.0,285.0 1143.0,286.0 1145.0,286.0 1145.0,287.0 1144.7,287.0 1144.7,288.0 1143.3,288.0 1143.3,289.0 1143.7,289.0 1143.7,290.0 1142.2,290.0 1142.2,291.0 1144.6,291.0 1144.6,292.0 1142.3,292.0 1142.3,293.0 1142.8,293.0 1142.8,294.0 1141.7,294.0 1141.7,295.0 1138.3,295.0 1138.3,296.0 1137.5,296.0 1137.5,297.0 1136.7,297.0 1136.7,298.0 1135.4,298.0 1135.4,299.0 1134.4,299.0 1134.4,300.0 1134.2,300.0 1134.2,301.0 1133.0,301.0 1133.0,302.0 1132.2,302.0 1132.2,303.0 1131.0,303.0 1131.0,304.0 1130.7,304.0 1130.7,305.0 1128.4,305.0 1128.4,306.0 1128.0,306.0 1128.0,307.0 1126.1,307.0 1126.1,308.0 1124.0,308.0 1124.0,309.0 1123.4,309.0 1123.4,310.0 1123.4,310.0 1123.4,311.0 1122.1,311.0 1122.1,312.0 1120.6,312.0 1120.6,313.0 1120.4,313.0 1120.4,314.0 1119.2,314.0 1119.2,315.0 1118.6,315.0 1118.6,316.0 1118.2,316.0 1118.2,317.0 1116.0,317.0 1116.0,318.0 1116.3,318.0 1116.3,319.0 1114.9,319.0 1114.9,320.0 1114.0,320.0 1114.0,321.0 1112.6,321.0 1112.6,322.0 1111.4,322.0 1111.4,323.0 1110.9,323.0 1110.9,324.0 1112.0,324.0 1112.0,325.0 1113.0,325.0 1113.0,326.0 1112.7,326.0 1112.7,327.0 1113.2,327.0 1113.2,328.0 1113.0,328.0 1113.0,329.0 1112.0,329.0 1112.0,330.0 1113.0,330.0 1113.0,331.0 1113.9,331.0 1113.9,332.0 1113.7,332.0 1113.7,333.0 1114.1,333.0 1114.1,334.0 1114.6,334.0 1114.6,335.0 1113.9,335.0 1113.9,336.0 1113.3,336.0 1113.3,337.0 1113.9,337.0 1113.9,338.0 1114.4,338.0 1114.4,339.0 1114.8,339.0 1114.8,340.0 1116.2,340.0 1116.2,341.0 1117.6,341.0 1117.6,342.0 1117.0,342.0 1117.0,343.0 1117.7,343.0 1117.7,344.0 1118.5,344.0 1118.5,345.0 1118.9,345.0 1118.9,346.0 1119.6,346.0 1119.6,347.0 1119.1,347.0 1119.1,348.0 1119.8,348.0 1119.8,349.0 1121.4,349.0 1121.4,350.0 1121.6,350.0 1121.6,351.0 1121.1,351.0 1121.1,352.0 1122.2,352.0 1122.2,353.0 1123.7,353.0 1123.7,354.0 1124.3,354.0 1124.3,355.0 1124.5,355.0 1124.5,356.0 1126.9,356.0 1126.9,357.0 1126.4,357.0 1126.4,358.0 1129.1,358.0 1129.1,359.0 1131.2,359.0 1131.2,360.0 1132.9,360.0 1132.9,361.0 1137.5,361.0 1137.5,362.0 1140.6,362.0 1140.6,363.0 1141.2,363.0 1141.2,364.0 1144.2,364.0 1144.2,365.0 1146.2,365.0 1146.2,366.0 1147.5,366.0 1147.5,367.0 1150.9,367.0 1150.9,368.0 1155.2,368.0 1155.2,369.0 1158.9,369.0 1158.9,370.0 1161.6,370.0 1161.6,371.0 1164.0,371.0 1164.0,372.0 1167.0,372.0 1167.0,373.0 1168.9,373.0 1168.9,374.0 1173.0,374.0 1173.0,375.0 1175.3,375.0 1175.3,376.0 1178.1,376.0 1178.1,377.0 1181.3,377.0 1181.3,378.0 1182.2,378.0 1182.2,379.0 1184.5,379.0 1184.5,380.0 1192.2,380.0 1192.2,381.0 1197.3,381.0 1197.3,382.0 1201.5,382.0 1201.5,383.0 1207.3,383.0 1207.3,384.0 1211.1,384.0 1211.1,385.0 1216.7,385.0 1216.7,386.0 1220.3,386.0 1220.3,387.0 1226.4,387.0 1226.4,388.0 1229.1,388.0 1229.1,389.0 1238.3,389.0 1238.3,390.0 1241.3,390.0 1241.3,391.0 1242.5,391.0 1242.5,392.0 1247.6,392.0 1247.6,393.0 1251.3,393.0 1251.3,394.0 1255.6,394.0 1255.6,395.0 1256.9,395.0 1256.9,396.0 1262.3,396.0 1262.3,397.0 1273.2,397.0 1273.2,398.0 1270.6,398.0 1270.6,399.0 1277.7,399.0 1277.7,400.0 1285.0,400.0 1285.0,401.0 1295.8,401.0 1295.8,402.0 1304.5,402.0 1304.5,403.0 1308.9,403.0 1308.9,404.0 1315.6,404.0 1315.6,405.0 1319.6,405.0 1319.6,406.0 1327.4,406.0 1327.4,407.0 1330.2,407.0 1330.2,408.0 1347.1,408.0 1347.1,409.0 1363.2,409.0 1363.2,410.0 1363.4,410.0 1363.4,411.0 1362.2,411.0 1362.2,412.0 1351.6,412.0 1351.6,413.0 1343.6,413.0 1343.6,414.0 1338.8,414.0 1338.8,415.0 1331.4,415.0 1331.4,416.0 1322.8,416.0 1322.8,417.0 1317.5,417.0 1317.5,418.0 1321.4,418.0 1321.4,419.0 1323.6,419.0 1323.6,420.0 1315.5,420.0 1315.5,421.0 1317.2,421.0 1317.2,422.0 1316.6,422.0 1316.6,423.0 1315.8,423.0 1315.8,424.0 1296.0,424.0 1296.0,425.0 1272.8,425.0 1272.8,426.0 1266.9,426.0 1266.9,427.0 1260.9,427.0 1260.9,428.0 1253.7,428.0 1253.7,429.0 1237.8,429.0 1237.8,430.0 1246.3,430.0 1246.3,431.0 1252.0,431.0 1252.0,432.0 1242.1,432.0 1242.1,433.0 1217.0,433.0 1217.0,434.0 1187.2,434.0 1187.2,435.0 1148.9,435.0 1148.9,436.0 1123.9,436.0 1123.9,437.0 1107.6,437.0 1107.6,438.0 1101.2,438.0 1101.2,439.0 1097.9,439.0 1097.9,440.0 1095.3,440.0 1095.3,441.0 1094.6,441.0 1094.6,442.0 1094.1,442.0 1094.1,443.0 1093.3,443.0 1093.3,444.0 1093.0,444.0 1093.0,445.0 1092.6,445.0 1092.6,446.0 1092.3,446.0 1092.3,447.0 1091.7,447.0 1091.7,448.0 1091.6,448.0 1091.6,449.0 1091.5,449.0 1091.5,450.0 1091.3,450.0 1091.3,451.0 1091.1,451.0 1091.1,452.0 1091.0,452.0 1091.0,453.0 1091.0,453.0 1091.0,454.0 1090.9,454.0 1090.9,455.0 1090.8,455.0 1090.8,456.0 1090.7,456.0 1090.7,457.0 1090.7,457.0 1090.7,458.0 1090.6,458.0 1090.6,459.0 1090.6,459.0 1090.6,460.0 1090.5,460.0 1090.5,461.0 1090.5,461.0 1090.5,462.0 1090.4,462.0 1090.4,463.0 1090.4,463.0 1090.4,464.0 1090,464" fill="url(#cgrad)"/>
<path d="M1090.50 124.00 C1090.53 124.83 1090.63 127.53 1090.70 129.00 C1090.77 130.47 1090.78 131.00 1090.90 132.80 C1091.02 134.60 1091.02 137.47 1091.40 139.80 C1091.78 142.13 1092.32 144.65 1093.20 146.80 C1094.08 148.95 1095.13 150.55 1096.70 152.70 C1098.27 154.85 1100.27 157.57 1102.60 159.70 C1104.93 161.83 1107.78 163.75 1110.70 165.50 C1113.62 167.25 1116.58 168.63 1120.10 170.20 C1123.62 171.77 1127.90 173.43 1131.80 174.90 C1135.70 176.37 1139.60 177.63 1143.50 179.00 C1147.40 180.37 1151.30 181.73 1155.20 183.10 C1159.10 184.47 1163.00 185.73 1166.90 187.20 C1170.80 188.67 1174.70 190.25 1178.60 191.90 C1182.50 193.55 1186.40 195.15 1190.30 197.10 C1194.20 199.05 1198.10 201.25 1202.00 203.60 C1205.90 205.95 1209.80 208.57 1213.70 211.20 C1217.60 213.83 1221.48 216.67 1225.40 219.40 C1229.32 222.13 1234.07 225.45 1237.20 227.60 C1240.33 229.75 1241.13 230.05 1244.20 232.30 C1247.27 234.55 1251.45 237.63 1255.60 241.10 C1259.75 244.57 1265.08 249.08 1269.10 253.10 C1273.12 257.12 1276.43 261.18 1279.70 265.20 C1282.97 269.22 1285.95 273.18 1288.70 277.20 C1291.45 281.22 1293.93 285.53 1296.20 289.30 C1298.47 293.07 1300.53 296.30 1302.30 299.80 C1304.07 303.30 1305.55 306.53 1306.80 310.30 C1308.05 314.07 1308.92 318.38 1309.80 322.40 C1310.68 326.42 1311.22 330.38 1312.10 334.40 C1312.98 338.42 1313.73 342.23 1315.10 346.50 C1316.47 350.77 1318.17 355.98 1320.30 360.00 C1322.43 364.02 1324.88 367.08 1327.90 370.60 C1330.92 374.12 1334.72 377.72 1338.40 381.10 C1342.08 384.48 1346.62 388.40 1350.00 390.90 C1353.38 393.40 1355.20 394.25 1358.70 396.10 C1362.20 397.95 1366.78 400.05 1371.00 402.00 C1375.22 403.95 1379.83 405.97 1384.00 407.80 C1388.17 409.63 1391.77 411.18 1396.00 413.00 C1400.23 414.82 1405.07 416.80 1409.40 418.70 C1413.73 420.60 1418.23 422.58 1422.00 424.40 C1425.77 426.22 1429.33 428.25 1432.00 429.60 C1434.67 430.95 1436.42 431.52 1438.00 432.50 C1439.58 433.48 1440.72 434.25 1441.50 435.50 C1442.28 436.75 1442.45 438.03 1442.70 440.00 C1442.95 441.97 1442.95 443.30 1443.00 447.30 C1443.05 451.30 1443.00 461.22 1443.00 464.00" fill="none" stroke="#ee2f3b" stroke-width="1.6"/>
<path d="M1090 57V464.6M1090 464.2H1477" stroke="#111" stroke-width="1.9" fill="none"/>
<path d="M1085.4 72.5L1090 56.6L1094.6 72.5M1463.5 459.2L1477 464.2L1463.5 469.2" stroke="#111" stroke-width="2" fill="none" stroke-linejoin="round" stroke-linecap="round"/>
<path d="M1086.2 453.39H1090 M1086.2 441.20H1090 M1086.2 429.00H1090 M1086.2 416.81H1090 M1081.4 404.62H1090 M1086.2 392.43H1090 M1086.2 380.24H1090 M1086.2 368.04H1090 M1086.2 355.85H1090 M1081.4 343.66H1090 M1086.2 331.47H1090 M1086.2 319.28H1090 M1086.2 307.08H1090 M1086.2 294.89H1090 M1081.4 282.70H1090 M1086.2 270.51H1090 M1086.2 258.32H1090 M1086.2 246.12H1090 M1086.2 233.93H1090 M1081.4 221.74H1090 M1086.2 209.55H1090 M1086.2 197.36H1090 M1086.2 185.16H1090 M1086.2 172.97H1090 M1081.4 160.78H1090 M1086.2 148.59H1090 M1086.2 136.40H1090 M1086.2 124.20H1090 M1086.2 112.01H1090 M1081.4 99.82H1090 M1090 95.2H1093.4 M1090.00 464.2V473.6 M1097.07 464.2V469.9 M1104.14 464.2V469.9 M1111.21 464.2V469.9 M1118.28 464.2V469.9 M1125.35 464.2V473.6 M1132.42 464.2V469.9 M1139.49 464.2V469.9 M1146.56 464.2V469.9 M1153.63 464.2V469.9 M1160.70 464.2V473.6 M1167.77 464.2V469.9 M1174.84 464.2V469.9 M1181.91 464.2V469.9 M1188.98 464.2V469.9 M1196.05 464.2V473.6 M1203.12 464.2V469.9 M1210.19 464.2V469.9 M1217.26 464.2V469.9 M1224.33 464.2V469.9 M1231.40 464.2V473.6 M1238.47 464.2V469.9 M1245.54 464.2V469.9 M1252.61 464.2V469.9 M1259.68 464.2V469.9 M1266.75 464.2V473.6 M1273.82 464.2V469.9 M1280.89 464.2V469.9 M1287.96 464.2V469.9 M1295.03 464.2V469.9 M1302.10 464.2V473.6 M1309.17 464.2V469.9 M1316.24 464.2V469.9 M1323.31 464.2V469.9 M1330.38 464.2V469.9 M1337.45 464.2V473.6 M1344.52 464.2V469.9 M1351.59 464.2V469.9 M1358.66 464.2V469.9 M1365.73 464.2V469.9 M1372.80 464.2V473.6 M1379.87 464.2V469.9 M1386.94 464.2V469.9 M1394.01 464.2V469.9 M1401.08 464.2V469.9 M1408.15 464.2V473.6 M1415.22 464.2V469.9 M1422.29 464.2V469.9 M1429.36 464.2V469.9 M1436.43 464.2V469.9 M1443.50 464.2V473.6" stroke="#111" stroke-width="1.5" fill="none"/>
<text transform="translate(1044.89,410.42) scale(0.8361,1.0000)" font-family='"Liberation Sans", sans-serif' font-size="17.8" fill="#1c1c28">-200</text><text transform="translate(1044.89,349.46) scale(0.8361,1.0000)" font-family='"Liberation Sans", sans-serif' font-size="17.8" fill="#1c1c28">-100</text><text transform="translate(1067.80,288.50) scale(0.8361,1.0000)" font-family='"Liberation Sans", sans-serif' font-size="17.8" fill="#1c1c28">0</text><text transform="translate(1051.24,227.54) scale(0.8361,1.0000)" font-family='"Liberation Sans", sans-serif' font-size="17.8" fill="#1c1c28">100</text><text transform="translate(1051.24,166.58) scale(0.8361,1.0000)" font-family='"Liberation Sans", sans-serif' font-size="17.8" fill="#1c1c28">200</text><text transform="translate(1051.24,105.62) scale(0.8361,1.0000)" font-family='"Liberation Sans", sans-serif' font-size="17.8" fill="#1c1c28">300</text><text transform="translate(1085.55,489.40) scale(0.8361,1.0000)" font-family='"Liberation Sans", sans-serif' font-size="17.8" fill="#1c1c28">0</text><text transform="translate(1152.05,489.40) scale(0.8361,1.0000)" font-family='"Liberation Sans", sans-serif' font-size="17.8" fill="#1c1c28">20</text><text transform="translate(1222.95,489.40) scale(0.8361,1.0000)" font-family='"Liberation Sans", sans-serif' font-size="17.8" fill="#1c1c28">40</text><text transform="translate(1293.45,489.40) scale(0.8361,1.0000)" font-family='"Liberation Sans", sans-serif' font-size="17.8" fill="#1c1c28">60</text><text transform="translate(1364.20,489.40) scale(0.8361,1.0000)" font-family='"Liberation Sans", sans-serif' font-size="17.8" fill="#1c1c28">80</text><text transform="translate(1434.07,489.40) scale(0.8445,1.0000)" font-family='"Liberation Sans", sans-serif' font-size="17.8" fill="#1c1c28">100 %</text><text transform="translate(1053.56,77.20) scale(0.9364,1.0000)" font-family='"Liberation Sans", sans-serif' font-size="16.5" fill="#1c1c28">µm</text>
</g>
<text transform="translate(1206.04,98.30) scale(1.0518,1.0000)" font-family='"Liberation Sans", sans-serif' font-size="26" fill="#000">Bearing ratio</text>
<text transform="translate(1029.1,203.6) rotate(90)" font-family='"Liberation Sans", sans-serif' font-size="27.6">Pad height</text>
<use href="#cchart" transform="matrix(1.0727,0,0,0.9455,-316.74,623.4)"/>
<text transform="translate(756.7,832.4) rotate(90)" font-family='"Liberation Sans", sans-serif' font-size="27.6">Pad height</text>
<g stroke="#333" stroke-width="1.1" stroke-dasharray="3.5 2" fill="none"><path d="M863.5 729.2H942.6M863.5 742.4H1208M863.5 808.5H1199"/></g>
<text transform="translate(949.69,735.00)" font-family='"Liberation Serif", serif' font-size="41" fill="#000">Asperity layer</text>
<text transform="translate(1081.56,790.20)" font-family='"Liberation Serif", serif' font-size="41" fill="#000">Core roughness</text>
<g stroke="#000" stroke-width="3.3" fill="none" stroke-linejoin="miter">
<path d="M935.1 697.1V726"/><path d="M922.1 705.5L934.9 727.1L947.6 705.5" stroke-linecap="round"/>
<path d="M936.3 776.5V746"/><path d="M923.8 766.1L936.3 744.9L948.9 766.1" stroke-linecap="round"/>
<path d="M1199.1 714.7V744"/><path d="M1186.4 723.2L1199.1 745L1212.4 723.2" stroke-linecap="round"/>
<path d="M1199.1 844.4V812"/><path d="M1186.4 833.5L1199.1 811.6L1212.4 833.5" stroke-linecap="round"/>
</g>
<defs>
<linearGradient id="ewl" gradientUnits="userSpaceOnUse" x1="97" y1="833" x2="334" y2="680"><stop offset="0" stop-color="#8e8e8e"/><stop offset="0.45" stop-color="#cfcfcf"/><stop offset="1" stop-color="#f4f4f4"/></linearGradient>
<linearGradient id="ewr" gradientUnits="userSpaceOnUse" x1="334" y1="680" x2="570" y2="833"><stop offset="0" stop-color="#888"/><stop offset="0.5" stop-color="#c4c4c4"/><stop offset="1" stop-color="#f8f8f8"/></linearGradient>
<clipPath id="eclip"><polygon points="334.0,686.3 567.2,840.4 333.9,1049.7 100.1,840.8"/></clipPath>
<clipPath id="eiclip"><polygon points="326.0,744.0 488.8,847.0 329.3,982.0 171.5,844.5"/></clipPath>
<filter id="eb6" x="-30%" y="-30%" width="160%" height="160%"><feGaussianBlur stdDeviation="6"/></filter>
<filter id="eb14" x="-30%" y="-30%" width="160%" height="160%"><feGaussianBlur stdDeviation="14"/></filter>
<filter id="enoise1" x="0" y="0" width="100%" height="100%" filterUnits="userSpaceOnUse">
<feTurbulence type="fractalNoise" baseFrequency="0.6" numOctaves="2" seed="9" result="n"/>
<feColorMatrix in="n" type="matrix" values="0 0 0 0 0  0 0 0 0 0  0 0 0 0 0  2.4 0 0 0 -1.15" result="dark"/>
<feColorMatrix in="n" type="matrix" values="0 0 0 0 1  0 0 0 0 1  0 0 0 0 1  0 2.0 0 0 -1.05" result="light"/>
<feMerge><feMergeNode in="dark"/><feMergeNode in="light"/></feMerge>
</filter>
<filter id="enoise2" x="0" y="0" width="100%" height="100%" filterUnits="userSpaceOnUse" color-interpolation-filters="sRGB">
<feTurbulence type="fractalNoise" baseFrequency="0.27" numOctaves="3" seed="5" result="n"/>
<feColorMatrix in="n" type="matrix" values="0 0 0 0 0.2  0 0 0 0 0.2  0 0 0 0 0.2  2.6 0 0 0 -1.2" result="dark"/>
<feColorMatrix in="n" type="matrix" values="0 0 0 0 1  0 0 0 0 1  0 0 0 0 1  0 2.0 0 0 -1.05" result="light"/>
<feMerge><feMergeNode in="dark"/><feMergeNode in="light"/></feMerge>
</filter>
</defs>
<polygon points="96.1,826.4 334.0,672.8 334.0,686.3 100.1,840.8" fill="url(#ewl)"/>
<polygon points="334.0,672.8 572.0,826.4 567.2,840.4 334.0,686.3" fill="url(#ewr)"/>
<line x1="125.8" y1="807.2" x2="129.3" y2="821.5" stroke="#999" stroke-width="0.6"/>
<line x1="363.8" y1="692.0" x2="363.1" y2="705.6" stroke="#999" stroke-width="0.6"/>
<line x1="155.6" y1="788.0" x2="158.6" y2="802.2" stroke="#999" stroke-width="0.6"/>
<line x1="393.5" y1="711.2" x2="392.3" y2="724.8" stroke="#999" stroke-width="0.6"/>
<line x1="185.3" y1="768.8" x2="187.8" y2="782.9" stroke="#999" stroke-width="0.6"/>
<line x1="423.2" y1="730.4" x2="421.5" y2="744.1" stroke="#999" stroke-width="0.6"/>
<line x1="215.1" y1="749.6" x2="217.1" y2="763.5" stroke="#999" stroke-width="0.6"/>
<line x1="453.0" y1="749.6" x2="450.6" y2="763.3" stroke="#999" stroke-width="0.6"/>
<line x1="244.8" y1="730.4" x2="246.3" y2="744.2" stroke="#999" stroke-width="0.6"/>
<line x1="482.8" y1="768.8" x2="479.8" y2="782.6" stroke="#999" stroke-width="0.6"/>
<line x1="274.5" y1="711.2" x2="275.5" y2="724.9" stroke="#999" stroke-width="0.6"/>
<line x1="512.5" y1="788.0" x2="508.9" y2="801.9" stroke="#999" stroke-width="0.6"/>
<line x1="304.3" y1="692.0" x2="304.8" y2="705.6" stroke="#999" stroke-width="0.6"/>
<line x1="542.2" y1="807.2" x2="538.1" y2="821.1" stroke="#999" stroke-width="0.6"/>
<g clip-path="url(#eclip)"><polygon points="334.0,686.3 567.2,840.4 333.9,1049.7 100.1,840.8" fill="#585858"/><polygon points="334.0,700.0 380.0,760.0 334.0,800.0 288.0,760.0" fill="#7a7a7a" filter="url(#eb14)"/><polygon points="140.0,848.0 300.0,985.0 280.0,1005.0 115.0,870.0" fill="#6e6e6e" filter="url(#eb14)"/><polygon points="400.0,760.0 540.0,850.0 520.0,870.0 380.0,790.0" fill="#4c4c4c" filter="url(#eb14)"/><rect x="95" y="680" width="480" height="375" filter="url(#enoise1)" opacity="0.35"/><polygon points="326.0,744.0 488.8,847.0 329.3,982.0 171.5,844.5" fill="#989898"/><g clip-path="url(#eiclip)"><polygon points="327.0,773.8 449.1,851.0 329.5,952.2 211.2,849.1" fill="#aaaaaa" filter="url(#eb14)"/><rect x="165" y="735" width="330" height="255" filter="url(#enoise2)" opacity="0.7"/></g><polygon points="326.0,744.0 270.0,790.0 326.0,770.0 385.0,790.0" fill="#8a8a8a" filter="url(#eb6)"/><polyline points="171.5,844.5 329.3,982.0 488.8,847.0" fill="none" stroke="#bdbdbd" stroke-width="1.2" opacity="0.7"/><polyline points="172.5,847.5 329.3,985.0 487.8,850.0" fill="none" stroke="#363636" stroke-width="2.2" opacity="0.75"/><g fill="none" stroke="#d21414" stroke-linecap="round" stroke-linejoin="round"><polyline points="361.1,831.5 362.1,829.4 360.0,829.4 362.4,829.4 361.0,828.7" stroke-width="2.1"/><polyline points="290.3,831.8 293.6,832.2 296.6,833.7 298.5,833.9" stroke-width="2.0"/><polyline points="326.9,892.6 327.9,895.6 330.5,894.0" stroke-width="2.0"/><polyline points="351.5,877.1 349.2,876.4 348.2,877.6 346.0,877.2 348.6,876.6" stroke-width="1.5"/><polyline points="323.6,790.7 322.8,787.6 320.1,787.7" stroke-width="1.8"/><polyline points="355.9,845.5 354.5,843.3 355.6,841.7" stroke-width="2.0"/><polyline points="253.5,817.6 251.8,814.9" stroke-width="2.3"/><polyline points="418.8,836.2 420.7,835.5 418.3,834.7" stroke-width="1.6"/><polyline points="247.3,846.7 245.9,847.6" stroke-width="2.0"/><polyline points="273.3,799.7 273.1,801.7 276.8,800.9 277.9,801.9 279.2,802.6" stroke-width="1.7"/><polyline points="336.9,802.1 335.4,801.0 336.7,799.7" stroke-width="2.0"/><polyline points="390.9,855.7 391.3,854.5" stroke-width="1.7"/><polyline points="282.5,832.5 280.9,832.2" stroke-width="1.9"/><polyline points="289.4,835.3 292.6,836.4 295.0,836.2" stroke-width="1.5"/><polyline points="319.4,855.8 316.7,856.2 317.9,855.3 321.0,855.7 323.1,856.1" stroke-width="1.8"/><polyline points="307.0,819.6 304.9,821.1 302.3,818.8 304.6,819.9 301.3,820.0" stroke-width="2.2"/><polyline points="378.4,869.7 376.1,871.3 377.9,868.5 379.4,868.4 378.5,870.1" stroke-width="1.6"/><polyline points="248.4,840.3 246.6,838.9 246.4,835.8 248.3,835.7" stroke-width="1.7"/><polyline points="369.9,812.2 369.7,815.3 368.7,816.9" stroke-width="2.1"/><polyline points="261.5,849.0 262.9,850.7 260.8,851.9 259.2,849.7 257.6,847.6" stroke-width="1.3"/><polyline points="296.9,856.3 299.6,856.6 302.6,857.2 301.9,855.6" stroke-width="1.2"/><polyline points="405.1,842.6 401.9,844.1 402.0,846.5" stroke-width="2.1"/><polyline points="349.2,828.9 352.5,830.4" stroke-width="2.0"/><polyline points="356.2,857.2 357.2,858.4 356.5,860.8 360.0,861.0" stroke-width="1.9"/><polyline points="395.9,818.4 398.5,817.4 395.8,818.8" stroke-width="2.0"/><polyline points="296.1,838.5 298.5,838.8 294.9,839.2" stroke-width="1.7"/><polyline points="365.7,856.8 368.1,856.5" stroke-width="2.2"/><polyline points="357.6,854.9 359.3,857.7 356.7,857.7" stroke-width="1.4"/><polyline points="330.8,794.8 332.6,793.9 330.7,792.8 328.9,790.2" stroke-width="1.8"/><polyline points="336.0,810.5 337.5,811.6 334.7,812.8 335.2,810.1" stroke-width="1.9"/><polyline points="271.8,818.7 270.3,818.9 271.5,817.6 272.1,815.8 270.0,816.5" stroke-width="1.4"/><polyline points="320.1,831.0 319.3,829.9 320.9,829.2 319.7,830.8 317.3,830.0" stroke-width="2.0"/><polyline points="383.9,828.8 381.9,827.7 383.9,825.5" stroke-width="1.5"/><polyline points="358.9,862.0 355.6,862.1 356.3,864.6" stroke-width="1.6"/><polyline points="363.0,811.2 362.6,812.9 363.3,811.7" stroke-width="2.0"/><polyline points="353.8,837.0 351.6,835.9 347.7,835.9" stroke-width="1.6"/><polyline points="363.2,860.3 361.1,861.5 359.1,859.4 356.9,858.4" stroke-width="1.5"/><polyline points="316.4,778.7 317.6,777.4 319.7,778.8" stroke-width="1.3"/><polyline points="311.1,881.1 309.5,880.7 309.6,883.1" stroke-width="1.3"/><polyline points="336.7,864.3 340.1,863.6 338.7,860.8 336.1,862.0" stroke-width="1.3"/><polyline points="320.6,789.9 318.9,792.0 317.5,790.4 318.0,789.1" stroke-width="1.5"/><polyline points="313.5,784.0 311.7,783.9 313.7,783.6 316.2,781.9 319.1,782.6" stroke-width="1.9"/><polyline points="318.1,883.1 319.2,884.5 321.2,887.2" stroke-width="1.2"/><polyline points="378.4,879.2 378.5,882.4" stroke-width="1.6"/><polyline points="332.3,871.1 330.8,869.4 329.7,867.8" stroke-width="1.3"/><polyline points="299.3,766.0 300.2,767.3" stroke-width="1.7"/><polyline points="339.9,793.9 341.9,791.2 341.8,793.7 340.5,796.1 341.6,794.8" stroke-width="1.6"/><polyline points="347.6,844.7 346.2,843.6 346.4,842.2 348.4,841.5" stroke-width="1.5"/><polyline points="283.8,819.8 281.0,817.8" stroke-width="1.7"/><polyline points="302.2,830.4 305.3,828.7 306.9,825.9 305.8,825.1 306.2,821.9" stroke-width="1.8"/><polyline points="396.7,834.8 394.1,832.4 392.9,835.2 395.3,837.6" stroke-width="1.9"/><polyline points="346.8,884.1 344.9,885.7" stroke-width="2.2"/><polyline points="320.4,828.6 318.9,826.8 319.4,824.2" stroke-width="1.5"/><polyline points="341.4,908.8 341.1,911.5 338.5,912.6" stroke-width="1.5"/><polyline points="364.8,859.1 363.3,858.6 365.2,858.5 368.6,858.7" stroke-width="1.8"/><polyline points="303.6,793.1 305.8,793.8 304.2,795.1" stroke-width="1.7"/><polyline points="316.7,815.8 319.1,817.5 316.9,815.2 320.1,817.1" stroke-width="1.2"/><polyline points="291.0,814.2 293.9,815.5 291.1,817.1 293.9,816.8" stroke-width="1.5"/><polyline points="297.0,832.3 294.6,832.9" stroke-width="1.7"/><polyline points="322.5,793.8 319.9,795.1" stroke-width="1.3"/><polyline points="275.2,826.6 275.6,829.6 275.4,827.5 278.3,825.7 280.9,823.7" stroke-width="1.5"/><polyline points="310.9,813.0 311.3,811.5" stroke-width="1.8"/><polyline points="360.2,840.8 356.5,841.0 356.5,839.5 357.3,837.6 361.2,837.0" stroke-width="1.7"/><polyline points="307.3,782.9 310.4,783.2 311.0,785.0" stroke-width="1.6"/><polyline points="272.6,798.0 274.6,799.8" stroke-width="1.4"/><polyline points="328.3,858.4 326.0,858.0 329.5,858.0" stroke-width="2.0"/><polyline points="360.0,816.0 357.4,815.6" stroke-width="1.5"/><polyline points="365.2,864.5 365.9,866.3 364.3,866.4" stroke-width="1.4"/><polyline points="277.3,806.0 279.8,803.9 280.9,803.0" stroke-width="2.1"/><polyline points="350.9,805.4 347.8,804.1" stroke-width="1.4"/><polyline points="369.5,827.1 366.7,828.1 368.9,830.5 367.3,830.3 363.4,830.7" stroke-width="2.3"/><polyline points="271.0,826.1 269.7,827.9" stroke-width="1.9"/><polyline points="342.9,796.4 341.2,797.6 341.9,799.3 340.4,798.3 342.5,798.9" stroke-width="1.5"/><polyline points="336.4,801.8 335.6,800.8 335.0,802.1" stroke-width="2.0"/><polyline points="307.7,855.4 304.5,854.2" stroke-width="1.9"/><polyline points="325.2,821.0 325.9,818.2 328.8,818.1" stroke-width="1.9"/><polyline points="360.2,858.5 359.4,860.5" stroke-width="2.0"/><polyline points="392.3,843.9 388.7,845.2" stroke-width="1.3"/><polyline points="286.1,828.5 287.6,827.0" stroke-width="2.1"/><polyline points="352.6,825.1 350.9,824.5 354.3,825.1 355.8,825.7 356.5,823.3" stroke-width="2.2"/><polyline points="267.5,831.4 265.8,831.5 264.9,833.5" stroke-width="2.0"/><polyline points="312.8,817.7 313.4,816.0 311.5,817.3 309.7,817.9" stroke-width="1.9"/><polyline points="321.2,874.3 319.6,873.1 320.7,875.4 322.4,876.4" stroke-width="1.9"/><polyline points="339.8,803.3 341.0,801.8" stroke-width="2.2"/><polyline points="323.4,764.0 322.2,764.8" stroke-width="2.2"/><polyline points="374.8,829.9 376.6,831.1 379.3,831.6 377.1,831.9" stroke-width="1.4"/><polyline points="320.8,849.7 321.7,847.8 318.3,849.1 320.3,851.5 318.2,849.9" stroke-width="1.8"/><polyline points="270.0,804.6 271.7,804.8" stroke-width="1.4"/><polyline points="333.3,913.9 335.8,914.6 335.5,916.1 337.5,915.6 337.5,912.6" stroke-width="2.0"/><polyline points="386.5,831.0 390.0,831.1" stroke-width="1.5"/><polyline points="293.8,851.5 296.3,849.2 296.4,847.6 295.5,848.8 294.5,850.1" stroke-width="1.5"/><polyline points="280.9,824.1 281.7,825.5" stroke-width="1.6"/><polyline points="384.2,816.2 382.8,817.9 379.5,816.6 380.2,817.8 382.3,819.4" stroke-width="1.3"/><polyline points="355.3,808.5 354.1,805.7 356.5,806.7 360.4,806.3" stroke-width="1.8"/><polyline points="303.9,877.5 304.0,875.4" stroke-width="1.2"/><polyline points="337.0,760.8 334.9,760.9" stroke-width="2.0"/><polyline points="330.6,827.7 332.5,829.6" stroke-width="1.7"/><polyline points="351.8,867.8 352.7,866.3" stroke-width="1.3"/><polyline points="302.2,852.0 304.6,851.3" stroke-width="2.2"/><polyline points="349.5,878.8 351.4,878.7" stroke-width="1.7"/><polyline points="396.2,826.6 396.9,824.6 395.6,825.6" stroke-width="1.6"/><polyline points="296.7,828.2 294.8,827.1 295.4,829.7 294.0,828.9 294.3,831.7" stroke-width="2.2"/><polyline points="314.2,769.8 314.2,771.6 318.0,772.3 318.4,774.8 318.3,772.2" stroke-width="1.7"/><polyline points="279.1,852.3 277.6,851.5 278.4,849.2" stroke-width="2.2"/><polyline points="332.4,801.9 331.4,799.5 333.3,797.8 334.3,800.6 333.8,799.1" stroke-width="1.7"/><polyline points="412.4,851.7 413.4,854.1 415.3,852.3 418.0,851.6" stroke-width="1.2"/><polyline points="400.0,832.2 401.5,831.5 401.0,829.0" stroke-width="2.2"/><polyline points="339.0,822.4 341.1,823.0 339.2,822.9 340.0,824.1" stroke-width="1.7"/><polyline points="398.7,837.1 400.8,837.2 401.6,839.0" stroke-width="2.2"/><polyline points="374.9,852.4 375.8,850.3 373.3,848.1 370.1,848.4" stroke-width="1.4"/><polyline points="408.9,850.4 410.0,848.6" stroke-width="1.5"/><polyline points="325.2,811.2 325.3,809.8 326.5,811.8 327.9,813.3" stroke-width="1.2"/><polyline points="325.9,885.3 329.2,885.1" stroke-width="2.3"/><polyline points="387.0,860.9 387.1,863.5 388.6,864.6" stroke-width="1.4"/><polyline points="312.0,819.4 309.6,819.2 307.5,819.1 309.0,821.5" stroke-width="1.7"/><polyline points="377.4,880.5 377.8,877.6 375.2,875.2" stroke-width="2.0"/><polyline points="279.0,848.1 281.0,849.1 280.4,846.8 279.7,847.9" stroke-width="1.2"/><polyline points="263.5,839.1 260.6,838.6" stroke-width="1.5"/><polyline points="307.8,878.6 308.8,880.6" stroke-width="2.2"/><polyline points="365.3,794.4 367.3,795.9 365.9,797.3 365.8,795.7" stroke-width="1.3"/><polyline points="434.0,835.3 431.6,832.9 432.2,830.1" stroke-width="1.4"/><polyline points="276.1,843.0 273.7,844.4 271.6,844.0 272.6,843.1 269.0,844.4" stroke-width="1.7"/><polyline points="361.3,850.2 360.4,848.6 363.1,849.9" stroke-width="2.2"/><polyline points="256.3,824.6 258.3,822.3 260.0,821.3 262.0,821.6 265.8,821.6" stroke-width="1.7"/><polyline points="339.4,792.4 336.8,792.2 338.7,792.0 341.2,790.8 343.5,792.1" stroke-width="1.4"/><polyline points="328.8,830.2 332.1,831.5 333.8,830.9" stroke-width="1.3"/><polyline points="243.1,832.2 245.5,830.9 241.9,831.2" stroke-width="1.5"/><polyline points="383.4,838.6 385.9,840.7 388.4,842.1 386.9,841.7 388.9,843.2" stroke-width="1.6"/><polyline points="311.7,857.2 313.3,854.8 311.0,854.9" stroke-width="2.2"/><polyline points="266.9,801.7 268.6,801.8 266.2,802.2 268.4,802.4 270.9,802.2" stroke-width="1.8"/><polyline points="289.4,800.4 290.9,801.3 291.4,798.3 287.9,797.7" stroke-width="2.2"/><polyline points="354.1,880.1 352.7,882.2 355.2,881.7 355.3,879.5 355.5,876.9" stroke-width="1.3"/><polyline points="368.8,834.4 372.2,835.1 374.4,835.5 372.3,837.8" stroke-width="2.2"/><polyline points="343.3,844.8 340.2,844.4" stroke-width="2.0"/><polyline points="398.1,849.2 394.3,849.9 393.5,851.7" stroke-width="1.5"/><polyline points="300.1,820.1 303.1,819.9 305.4,820.4 304.2,821.3" stroke-width="1.8"/><polyline points="317.9,819.9 317.5,817.7 314.4,817.4" stroke-width="2.2"/><polyline points="346.1,836.0 343.6,837.4 346.9,836.3 343.7,837.0 342.8,840.0" stroke-width="1.2"/><polyline points="339.7,836.6 337.6,838.4 337.5,839.8" stroke-width="1.3"/><polyline points="254.3,813.5 253.4,811.7 254.5,813.5" stroke-width="2.2"/><polyline points="315.9,839.0 313.9,840.0" stroke-width="1.4"/><polyline points="355.3,845.5 359.2,845.7" stroke-width="1.7"/><polyline points="296.0,832.4 295.7,830.4 298.0,830.6 301.2,830.8" stroke-width="2.3"/><polyline points="349.1,869.9 348.2,867.8 346.6,864.9" stroke-width="1.5"/><polyline points="260.2,827.1 262.1,827.3 265.0,826.2" stroke-width="1.4"/><polyline points="315.9,839.2 318.3,837.8" stroke-width="2.3"/><polyline points="320.2,846.0 321.7,843.9" stroke-width="1.7"/><polyline points="315.9,842.1 316.8,840.2 313.1,840.0 315.9,837.7 314.2,835.1" stroke-width="1.4"/><polyline points="303.4,828.6 303.1,830.7 306.7,831.7 310.4,832.5" stroke-width="1.6"/><polyline points="351.2,841.6 351.7,843.1 354.1,842.9 354.1,841.4" stroke-width="1.3"/><polyline points="373.5,824.2 373.9,826.5" stroke-width="1.9"/><polyline points="402.1,819.6 401.2,816.8 403.1,816.0 405.4,818.6" stroke-width="1.8"/><polyline points="325.8,780.8 326.7,783.3 325.5,784.3 323.0,783.6 322.7,780.9" stroke-width="1.5"/><polyline points="343.4,854.8 345.0,857.5 345.4,854.3 345.3,856.5 346.6,857.8" stroke-width="1.8"/><polyline points="273.9,855.2 270.9,856.0 271.3,854.1" stroke-width="1.4"/><polyline points="347.6,831.9 350.5,832.7" stroke-width="2.0"/><polyline points="300.1,882.8 302.8,883.7" stroke-width="2.0"/><polyline points="330.2,806.2 328.2,806.5 327.3,804.9 328.9,805.1" stroke-width="1.5"/><polyline points="326.9,833.2 324.2,832.7" stroke-width="2.0"/><polyline points="319.0,788.5 319.7,791.3 321.5,791.9 318.8,794.0 316.5,794.3" stroke-width="1.5"/><polyline points="323.2,844.7 321.7,845.1" stroke-width="1.2"/><polyline points="383.4,842.9 382.3,844.8 383.3,843.6 379.6,844.5" stroke-width="1.6"/><polyline points="313.6,819.4 315.6,820.8 312.1,822.2 313.5,820.8" stroke-width="1.6"/><polyline points="339.2,845.1 337.5,847.4 338.8,846.6 338.4,844.4" stroke-width="1.6"/><polyline points="396.4,857.2 397.1,858.4" stroke-width="2.0"/><polyline points="345.9,829.0 345.3,831.0" stroke-width="1.8"/><polyline points="361.7,853.8 365.3,852.9 366.8,852.2 365.9,849.1" stroke-width="1.5"/><polyline points="349.8,822.9 348.1,822.5 346.3,822.5" stroke-width="1.7"/><polyline points="324.2,813.8 327.6,814.1 329.0,812.9" stroke-width="1.7"/><polyline points="324.6,788.0 323.8,786.9" stroke-width="1.6"/><polyline points="370.3,845.7 368.0,845.5 368.8,844.5 372.0,845.3" stroke-width="1.6"/><polyline points="371.8,852.3 371.1,853.7 371.5,855.0 372.6,856.2" stroke-width="1.8"/><polyline points="370.9,853.3 368.8,851.9 366.8,853.9 368.0,852.8" stroke-width="1.8"/><polyline points="382.2,825.2 384.2,827.3" stroke-width="1.9"/><polyline points="332.6,874.5 335.7,875.1 335.5,873.4 333.6,872.2 330.7,870.8" stroke-width="1.6"/><polyline points="342.0,873.0 342.9,874.5 344.1,875.5 342.8,874.8" stroke-width="1.8"/><polyline points="276.1,870.5 276.8,872.3 278.5,873.9 277.3,876.3" stroke-width="1.6"/><polyline points="366.1,849.5 367.6,851.7 368.4,853.1 370.9,853.5 374.4,852.9" stroke-width="2.2"/><polyline points="321.9,806.9 318.3,806.3 316.3,806.7" stroke-width="1.8"/><polyline points="326.6,780.7 326.7,777.9 324.7,775.9 322.7,775.3" stroke-width="1.4"/><polyline points="347.4,902.4 348.2,904.2 348.2,902.7" stroke-width="1.4"/><polyline points="292.2,810.1 293.7,808.5" stroke-width="2.1"/><polyline points="304.9,837.0 307.9,835.7 310.0,837.4 309.3,834.3" stroke-width="1.7"/><polyline points="317.8,859.1 317.5,857.9" stroke-width="1.7"/><polyline points="352.5,898.7 351.5,899.9 350.0,897.6" stroke-width="2.3"/><polyline points="339.6,869.8 340.1,872.1 342.7,870.8 344.2,869.6" stroke-width="2.0"/><polyline points="369.4,842.0 370.9,843.5" stroke-width="1.7"/><polyline points="343.4,844.0 345.2,842.9 346.2,841.2 348.6,839.9 351.1,838.7" stroke-width="2.1"/><polyline points="384.2,854.2 382.5,852.6 383.4,850.9" stroke-width="2.0"/><polyline points="420.2,843.1 422.0,845.5 420.8,843.1 418.0,844.1 421.0,844.4" stroke-width="2.1"/><polyline points="357.6,839.4 356.1,840.2" stroke-width="1.9"/><polyline points="341.7,867.7 342.5,870.3 339.2,870.0" stroke-width="2.1"/><polyline points="302.1,851.4 305.7,850.3" stroke-width="1.2"/><polyline points="338.8,914.8 339.7,916.4 337.6,918.4" stroke-width="1.9"/><polyline points="265.6,829.9 262.1,828.4 263.3,827.4" stroke-width="2.2"/><polyline points="280.7,832.3 281.9,833.2" stroke-width="1.6"/><polyline points="341.2,783.3 342.1,785.6 344.9,787.4 342.9,786.8" stroke-width="2.1"/><polyline points="277.0,847.7 274.7,847.5 274.3,849.4 273.9,851.7" stroke-width="2.3"/><polyline points="309.9,845.8 311.7,844.4" stroke-width="1.6"/><polyline points="321.4,815.6 324.0,814.0 326.3,814.3 328.2,815.3 329.3,812.5" stroke-width="2.2"/><polyline points="323.4,847.4 324.3,846.1 325.0,847.8 324.2,845.2" stroke-width="1.3"/><polyline points="363.0,800.9 365.0,798.4" stroke-width="1.7"/><polyline points="260.0,832.3 259.7,835.1" stroke-width="1.9"/><polyline points="293.3,798.5 291.8,797.2 293.3,798.4 294.1,799.9" stroke-width="2.0"/><polyline points="300.3,799.6 300.2,801.7 301.8,802.8 303.8,804.4 302.5,802.4" stroke-width="2.0"/><polyline points="314.4,858.7 315.8,856.9 316.5,854.9" stroke-width="2.1"/><polyline points="321.7,898.2 320.4,900.4" stroke-width="2.1"/><polyline points="381.4,816.2 378.9,814.9 380.4,815.4" stroke-width="1.6"/><polyline points="346.9,840.1 347.2,843.1" stroke-width="1.2"/><polyline points="304.6,810.1 303.1,809.3 306.0,810.3 303.4,811.1 305.0,812.2" stroke-width="2.2"/><polyline points="292.0,870.5 292.9,868.3 291.8,867.2" stroke-width="2.2"/><polyline points="320.6,841.6 319.2,840.3 317.7,838.5 319.6,836.3 317.7,835.8" stroke-width="1.5"/><polyline points="345.6,842.9 349.0,843.3" stroke-width="2.0"/><polyline points="306.6,806.2 308.8,807.6 306.4,807.2 302.7,808.2 300.7,809.4" stroke-width="1.8"/><polyline points="335.2,792.7 337.8,794.3 337.6,792.6 336.5,795.0 340.3,795.1" stroke-width="2.0"/><polyline points="334.5,843.1 334.7,845.7 336.3,845.7" stroke-width="2.2"/><polyline points="388.8,842.8 392.4,843.6" stroke-width="1.9"/><polyline points="299.2,807.9 297.7,806.1 295.2,806.9 293.1,808.8" stroke-width="2.2"/><polyline points="391.2,844.9 390.8,846.7 391.7,848.7" stroke-width="1.3"/><polyline points="373.1,828.9 376.1,828.0 380.0,827.7" stroke-width="1.9"/><polyline points="376.3,799.5 379.3,798.6 376.3,798.2 378.5,797.0" stroke-width="1.5"/><polyline points="322.5,791.6 323.5,790.6 326.8,792.1 326.3,790.3" stroke-width="2.3"/><polyline points="307.0,889.1 308.8,890.1 311.0,890.2 312.4,890.7 310.0,890.5" stroke-width="2.2"/><polyline points="328.1,884.2 331.7,883.9 329.2,884.9" stroke-width="1.9"/><polyline points="319.4,813.5 317.8,814.8 318.4,813.5" stroke-width="1.5"/><polyline points="362.8,852.3 360.8,852.7 358.6,854.5" stroke-width="1.3"/><polyline points="305.1,848.2 305.3,851.3 304.4,850.2" stroke-width="1.5"/><polyline points="384.9,817.3 384.0,815.0 384.8,816.9 388.2,815.4" stroke-width="1.3"/><polyline points="344.4,851.2 342.2,851.0 341.0,849.4 342.7,848.5 340.2,849.5" stroke-width="1.6"/><polyline points="350.2,857.7 347.0,856.9 345.5,859.8 343.7,862.3" stroke-width="1.5"/><polyline points="377.2,864.6 377.1,867.1 374.0,866.4" stroke-width="2.0"/><polyline points="321.9,838.7 323.2,839.6 319.8,838.4 318.3,836.3" stroke-width="1.5"/><polyline points="364.0,843.6 364.7,842.5 366.4,840.6 364.0,842.3 367.8,842.9" stroke-width="1.2"/><polyline points="331.8,882.2 334.7,881.7 336.0,880.3" stroke-width="1.9"/><polyline points="298.7,864.7 302.4,864.0" stroke-width="1.4"/><polyline points="300.9,791.0 301.5,793.7 298.8,794.1" stroke-width="2.1"/><polyline points="307.3,774.2 308.2,775.6 308.5,777.0 308.0,775.6 306.6,776.9" stroke-width="1.6"/><polyline points="336.4,896.0 338.7,897.2 337.5,894.6 335.9,895.9 335.8,892.8" stroke-width="1.6"/><polyline points="340.5,806.3 337.5,808.1 338.7,807.3" stroke-width="1.3"/><polyline points="312.6,841.4 311.9,839.0 313.6,840.5 312.0,842.5" stroke-width="2.3"/><polyline points="346.1,910.1 346.4,912.8" stroke-width="1.3"/><polyline points="351.9,898.5 349.7,899.3 347.7,897.6 349.0,895.7" stroke-width="1.2"/><polyline points="294.8,802.8 291.6,801.9 294.5,803.5 293.1,801.9 295.8,800.8" stroke-width="2.2"/><polyline points="253.0,827.6 254.5,826.5 256.3,826.2" stroke-width="2.1"/><polyline points="308.5,838.0 310.0,840.1" stroke-width="1.7"/><polyline points="348.7,802.4 348.7,800.6 349.1,799.1" stroke-width="2.1"/><polyline points="355.2,847.8 353.8,849.0 351.3,847.7 352.3,846.1" stroke-width="1.7"/><polyline points="426.7,833.4 425.5,831.7" stroke-width="2.0"/><polyline points="317.6,838.4 315.3,840.8 316.7,838.4 315.9,836.5 312.9,835.1" stroke-width="2.0"/><polyline points="337.7,801.2 335.5,800.7 336.6,801.6 338.1,800.4" stroke-width="1.7"/><polyline points="297.5,808.9 300.0,810.6 297.8,809.3" stroke-width="1.2"/><polyline points="341.7,797.1 338.9,796.5" stroke-width="2.1"/><polyline points="292.3,835.5 293.2,837.0 290.8,836.3 292.6,837.0" stroke-width="1.4"/><polyline points="349.4,806.8 351.2,806.6 351.3,808.7 353.0,810.4" stroke-width="1.5"/><polyline points="311.0,855.5 312.5,854.3 313.5,856.9 314.6,859.8 312.3,858.6" stroke-width="1.6"/><polyline points="371.8,868.1 373.1,865.5" stroke-width="2.3"/><polyline points="394.6,824.4 394.7,823.2" stroke-width="1.6"/><polyline points="370.3,865.7 368.5,868.0 367.1,865.2" stroke-width="1.7"/><polyline points="341.2,804.4 339.7,803.1 338.1,800.5 336.5,800.7" stroke-width="1.6"/><polyline points="355.0,817.6 356.9,815.7 358.8,815.4 362.6,815.6" stroke-width="2.2"/><polyline points="328.7,859.7 329.7,858.0" stroke-width="2.0"/><polyline points="370.6,832.4 368.4,831.7" stroke-width="1.3"/><polyline points="284.2,836.1 285.3,837.5 283.4,837.0 284.2,838.1 286.0,840.0" stroke-width="1.6"/><polyline points="277.7,808.1 277.7,810.3 275.6,808.2 274.7,806.3" stroke-width="1.7"/><polyline points="326.3,811.6 324.8,813.3 325.6,811.2 327.8,809.0 329.3,808.9" stroke-width="1.5"/><polyline points="365.3,788.4 365.0,789.9 362.1,788.5" stroke-width="2.2"/><polyline points="253.4,822.1 254.4,820.3 252.3,819.7 249.6,817.6" stroke-width="2.3"/><polyline points="306.2,854.7 307.7,856.1" stroke-width="2.1"/><polyline points="372.6,882.3 373.4,879.3 376.2,881.4" stroke-width="2.0"/><polyline points="316.0,801.3 319.7,802.2 319.3,800.8 321.3,802.1 319.1,802.5" stroke-width="1.4"/><polyline points="314.1,783.0 315.9,785.5 318.7,785.5 321.9,784.8" stroke-width="1.6"/><polyline points="333.4,773.9 332.7,776.7" stroke-width="2.0"/><polyline points="284.8,834.3 285.7,835.4" stroke-width="2.0"/><polyline points="363.6,817.8 362.3,818.5 362.2,820.8" stroke-width="1.9"/><polyline points="358.8,882.0 355.2,882.6 352.6,882.3" stroke-width="1.3"/><polyline points="276.6,821.2 274.3,823.2 273.3,820.4 270.4,821.7" stroke-width="2.1"/><polyline points="346.0,882.8 346.0,884.1" stroke-width="2.2"/><polyline points="321.7,801.7 321.1,800.0 324.3,799.9" stroke-width="1.3"/><polyline points="294.7,868.4 296.6,869.5 295.6,870.7 292.6,869.0 293.9,866.2" stroke-width="1.2"/><polyline points="381.5,851.1 383.2,851.2" stroke-width="1.8"/><polyline points="373.1,865.7 376.0,867.8" stroke-width="1.5"/><polyline points="369.9,857.5 370.4,859.4 370.6,860.6" stroke-width="1.4"/><polyline points="331.2,828.1 328.7,827.4 327.6,826.3 328.9,828.9" stroke-width="1.9"/><polyline points="274.3,814.4 275.9,814.8 274.2,814.3 271.7,815.0 270.9,813.6" stroke-width="2.2"/><polyline points="302.0,869.0 301.3,866.4 300.5,868.7" stroke-width="1.4"/><polyline points="299.3,815.1 301.9,815.1" stroke-width="1.3"/><polyline points="314.7,813.4 313.1,813.6 310.2,811.9 311.9,813.7 311.7,812.2" stroke-width="1.7"/><polyline points="321.3,803.9 322.4,802.9 324.5,804.9" stroke-width="1.8"/><polyline points="287.5,828.6 290.1,828.8 289.9,825.7 288.4,827.5 289.1,825.3" stroke-width="1.6"/><polyline points="283.2,831.7 282.2,833.2 283.6,832.4 280.4,832.3" stroke-width="2.1"/><polyline points="300.0,866.8 298.6,866.2 298.1,864.5 298.3,866.3 295.5,868.1" stroke-width="2.2"/><polyline points="407.4,860.9 405.7,861.3 404.5,863.1 404.6,864.5 404.0,867.0" stroke-width="1.7"/><polyline points="334.7,802.3 333.2,803.0" stroke-width="2.1"/><polyline points="334.7,845.3 332.6,847.1" stroke-width="2.1"/><polyline points="319.9,807.1 318.6,808.1 317.1,805.3 315.2,806.3" stroke-width="1.3"/><polyline points="309.4,803.5 308.4,800.9 310.3,802.6 311.7,800.9" stroke-width="1.8"/><polyline points="317.0,848.3 313.9,849.3 315.4,849.5 316.4,850.8" stroke-width="1.6"/><polyline points="289.6,823.0 290.4,821.7 292.7,823.5 292.1,820.6" stroke-width="1.9"/><polyline points="324.9,777.9 324.9,775.2 326.5,772.5" stroke-width="1.4"/><polyline points="412.9,838.2 414.1,839.4 415.0,837.5 416.5,837.2 413.5,837.3" stroke-width="1.9"/><polyline points="360.3,816.7 363.3,816.8 361.6,815.7 358.8,814.5" stroke-width="1.2"/><polyline points="296.6,847.9 296.6,849.1 294.4,849.2" stroke-width="2.3"/><polyline points="327.1,808.9 330.2,807.9 331.6,806.0 329.6,804.5 331.5,805.2" stroke-width="2.0"/><polyline points="276.3,851.3 273.5,852.5 270.3,851.2 268.8,850.9" stroke-width="1.7"/><polyline points="416.8,838.3 420.0,837.6" stroke-width="1.7"/><polyline points="274.2,795.8 271.0,796.9 272.6,797.3 270.7,795.1 273.2,796.0" stroke-width="1.4"/><polyline points="322.0,820.5 319.3,821.0 318.2,822.9 319.2,824.9" stroke-width="1.5"/><polyline points="281.7,870.9 284.5,871.3 281.3,872.8 280.8,870.7 282.6,872.4" stroke-width="1.5"/><polyline points="353.6,836.0 352.0,835.7 350.7,837.2" stroke-width="1.5"/><polyline points="339.3,852.2 340.0,849.4 338.6,846.9" stroke-width="2.1"/><polyline points="374.1,832.0 373.1,833.8 370.6,835.8 371.1,834.4" stroke-width="1.9"/><polyline points="317.2,888.8 318.6,888.1 319.9,890.9" stroke-width="1.8"/><polyline points="325.3,859.6 328.6,860.3 331.5,859.3" stroke-width="1.6"/><polyline points="281.9,812.6 282.8,813.9 280.1,814.6 278.3,815.2" stroke-width="1.2"/><polyline points="311.4,832.8 312.6,831.3 314.8,829.1" stroke-width="1.3"/><polyline points="317.2,848.2 313.8,848.2 311.6,850.3 310.3,849.0 308.0,849.9" stroke-width="1.8"/><polyline points="279.6,833.8 277.7,836.3 276.9,834.9" stroke-width="1.7"/><polyline points="375.4,864.0 373.7,864.8 375.7,866.6" stroke-width="1.5"/><polyline points="325.7,784.7 329.3,785.4 327.9,786.4 327.7,789.4 326.2,788.1" stroke-width="1.8"/><polyline points="339.0,799.1 340.3,798.4" stroke-width="1.4"/><polyline points="291.6,778.2 292.6,776.8 294.0,775.4" stroke-width="1.9"/><polyline points="326.3,837.0 327.5,838.5 326.4,839.5" stroke-width="1.9"/><polyline points="356.2,815.1 355.3,818.2" stroke-width="2.1"/><polyline points="353.6,820.9 356.5,821.0" stroke-width="1.3"/><polyline points="340.5,782.7 342.0,781.1" stroke-width="1.5"/><polyline points="293.1,799.0 296.0,800.6 293.1,799.4 293.6,797.0" stroke-width="2.3"/><polyline points="349.8,817.3 347.1,815.7 349.6,816.9" stroke-width="1.6"/><polyline points="293.8,855.5 291.9,853.9 289.0,853.2" stroke-width="1.3"/><polyline points="385.1,856.6 387.7,854.2 389.9,851.8 390.2,853.7 393.5,853.5" stroke-width="1.2"/><polyline points="299.9,850.4 296.3,850.3 294.0,851.2 295.6,852.0 296.1,855.1" stroke-width="1.9"/><polyline points="349.8,866.9 352.9,867.1" stroke-width="1.2"/><polyline points="318.4,807.6 319.0,805.1 316.4,806.2 318.5,806.5" stroke-width="1.9"/><polyline points="307.7,798.2 311.5,798.1" stroke-width="1.7"/><polyline points="411.6,842.2 414.4,841.5" stroke-width="1.4"/><polyline points="328.8,815.1 328.8,813.7 331.5,815.6 334.7,814.8" stroke-width="2.2"/><polyline points="339.5,843.5 342.1,841.9 343.8,843.2 345.2,842.8" stroke-width="1.6"/><polyline points="326.0,830.3 328.1,829.1 325.6,829.3 326.5,830.3 324.2,831.2" stroke-width="1.4"/><polyline points="362.2,816.1 363.2,818.8 365.7,818.2 366.2,821.2 363.2,822.0" stroke-width="1.6"/><polyline points="390.5,835.4 392.5,836.9 391.7,835.4 389.1,834.6 392.8,835.5" stroke-width="1.8"/><polyline points="343.8,877.3 345.5,875.4 346.7,873.6 350.4,873.0" stroke-width="1.6"/><polyline points="321.4,799.2 322.7,797.5" stroke-width="1.9"/><polyline points="343.4,782.0 343.6,784.0 345.4,781.8" stroke-width="1.2"/><polyline points="401.0,844.0 398.7,844.0" stroke-width="1.5"/><polyline points="299.4,811.6 301.7,811.5 305.5,812.1" stroke-width="1.7"/><polyline points="282.9,828.4 284.1,827.2 286.1,826.9 285.7,828.2" stroke-width="1.7"/><polyline points="319.3,880.7 318.9,879.2 321.1,879.1 320.7,877.4" stroke-width="1.4"/><polyline points="361.8,870.9 360.6,869.4 363.0,868.8 366.7,869.8" stroke-width="1.4"/><polyline points="328.2,866.5 326.0,865.4" stroke-width="1.9"/><polyline points="337.7,886.4 336.0,886.2 335.4,888.5 332.0,889.8" stroke-width="1.3"/><polyline points="335.8,789.9 337.8,790.4 335.1,788.2 334.4,789.8 336.1,789.5" stroke-width="2.1"/><polyline points="313.0,837.5 311.8,836.7 314.2,837.2 316.2,837.5" stroke-width="1.9"/><polyline points="352.4,805.1 351.3,806.7" stroke-width="2.1"/><polyline points="328.0,878.6 326.9,880.6 324.7,882.8 327.0,880.8 323.6,880.1" stroke-width="1.8"/><polyline points="348.1,890.5 347.0,892.3 348.3,893.1" stroke-width="1.9"/><polyline points="359.6,827.1 362.3,827.8" stroke-width="1.9"/><polyline points="320.1,842.5 322.2,842.2 318.4,841.9" stroke-width="1.9"/><polyline points="355.6,872.5 356.6,871.1 358.2,869.5 361.7,870.4 362.7,872.6" stroke-width="1.8"/><polyline points="348.2,798.0 351.0,795.9 348.0,796.5 351.0,794.6 350.6,796.1" stroke-width="1.8"/><polyline points="326.1,909.1 329.2,907.3 326.7,907.9 327.8,910.8" stroke-width="1.9"/><polyline points="328.3,829.0 326.5,831.8" stroke-width="2.2"/><polyline points="320.1,802.3 316.7,800.7 314.9,803.1 315.1,805.9" stroke-width="2.2"/><polyline points="351.9,822.1 353.9,824.7 353.6,822.2 351.7,822.4 351.2,819.8" stroke-width="1.6"/><polyline points="309.3,834.4 311.7,835.6 312.9,836.8 316.0,836.4 314.8,838.7" stroke-width="1.8"/><polyline points="344.8,824.9 345.1,827.9 346.6,827.1 348.7,827.7" stroke-width="1.4"/><polyline points="327.5,859.0 323.9,859.9 324.0,857.4" stroke-width="2.0"/><polyline points="359.3,789.4 358.2,790.6 358.4,793.0" stroke-width="1.3"/><polyline points="296.0,799.6 293.9,800.9" stroke-width="1.3"/><polyline points="329.1,773.4 330.8,773.2 332.0,774.1" stroke-width="1.5"/><polyline points="353.9,846.0 355.3,845.5 357.4,846.2 354.8,848.0" stroke-width="1.6"/><polyline points="300.3,822.1 302.6,821.1 303.7,819.0 306.0,817.1" stroke-width="1.8"/><polyline points="282.0,854.8 281.9,852.3 283.3,854.1 284.4,855.7 287.4,854.6" stroke-width="2.2"/><polyline points="330.9,877.7 329.1,880.4 325.7,879.6 326.5,880.7" stroke-width="1.4"/><polyline points="368.9,807.2 368.4,808.5" stroke-width="1.4"/><polyline points="345.5,843.6 344.0,844.6 344.5,842.8 344.8,845.2 342.1,846.3" stroke-width="1.5"/><polyline points="313.7,804.7 315.4,806.0 316.7,807.5 318.3,809.7 321.5,808.4" stroke-width="1.9"/><polyline points="321.3,875.6 324.3,875.7 322.5,876.8" stroke-width="2.2"/><polyline points="303.1,872.4 303.1,870.4 302.9,872.3" stroke-width="2.1"/><polyline points="283.8,848.5 285.3,847.5 283.3,844.9 284.0,842.0" stroke-width="1.9"/><polyline points="320.6,831.9 320.6,830.4" stroke-width="1.6"/><polyline points="328.6,882.6 326.9,884.0 329.2,884.4" stroke-width="2.0"/><polyline points="350.5,875.2 349.6,873.7 349.4,875.1 347.9,873.1 349.1,874.7" stroke-width="1.9"/><polyline points="327.0,844.6 328.5,846.0 327.5,845.0 325.5,843.3" stroke-width="1.6"/><polyline points="362.2,848.3 359.4,850.0 357.2,851.6" stroke-width="2.2"/><polyline points="327.4,877.6 324.6,878.4 325.2,880.0" stroke-width="1.9"/><polyline points="333.7,794.8 333.8,793.5 331.0,791.8 332.8,792.4 334.7,790.8" stroke-width="1.3"/><polyline points="368.8,788.2 366.9,786.3" stroke-width="1.7"/><polyline points="350.1,869.9 348.8,872.9 345.5,872.4 347.3,871.3 346.1,873.1" stroke-width="1.9"/><polyline points="327.4,884.0 325.6,882.0" stroke-width="1.5"/><polyline points="265.8,828.9 264.5,827.5 265.7,828.6" stroke-width="1.4"/><polyline points="337.0,885.3 337.3,882.2 337.9,884.2" stroke-width="2.2"/><polyline points="325.7,906.9 324.3,906.3 325.1,907.6 324.2,910.3 322.2,909.2" stroke-width="1.9"/><polyline points="310.3,853.3 311.7,853.9 314.6,855.5" stroke-width="2.2"/><polyline points="312.4,818.6 312.6,821.6 315.0,823.0 312.0,821.6 311.4,822.8" stroke-width="1.9"/><polyline points="368.7,830.3 370.4,829.8 370.9,832.2 371.3,829.6" stroke-width="1.7"/><polyline points="296.3,793.9 295.6,792.8" stroke-width="1.4"/><polyline points="265.3,815.0 267.3,814.8" stroke-width="1.4"/><polyline points="353.0,843.1 350.9,842.0 350.4,843.8" stroke-width="1.8"/><polyline points="365.7,867.1 368.1,866.0 370.3,864.9 368.6,863.2 365.9,863.5" stroke-width="1.8"/><polyline points="358.3,868.2 357.8,870.4" stroke-width="1.6"/><polyline points="309.1,789.4 309.4,792.2 309.5,789.4 310.4,788.1 312.5,789.0" stroke-width="2.1"/><polyline points="295.0,826.0 292.6,827.4 293.8,828.3 296.3,827.2" stroke-width="1.7"/><polyline points="349.3,816.2 350.0,814.1 349.9,815.4 353.5,816.5 351.9,816.6" stroke-width="2.1"/><polyline points="306.6,818.4 308.3,817.2" stroke-width="1.6"/><polyline points="368.0,875.0 369.1,873.3 372.1,875.2 370.2,874.0 370.7,877.0" stroke-width="1.8"/><polyline points="253.2,848.2 250.9,848.7 249.3,851.5 251.3,852.5 247.7,852.7" stroke-width="1.6"/><polyline points="303.3,883.7 307.1,883.6 306.8,885.6 305.0,886.5" stroke-width="1.5"/><polyline points="334.2,771.1 336.3,771.5 335.1,772.9" stroke-width="1.7"/><polyline points="344.5,905.6 342.1,905.6 339.2,907.2 341.9,908.7 343.7,910.8" stroke-width="1.6"/><polyline points="340.6,796.9 339.1,795.1 336.1,794.0 336.6,792.9" stroke-width="2.0"/><polyline points="330.1,794.9 332.8,795.0 334.3,796.0" stroke-width="1.4"/><polyline points="347.3,832.7 350.7,832.2 354.1,831.9 350.7,832.6" stroke-width="2.2"/><polyline points="325.5,815.1 326.8,814.5 326.1,812.6 328.6,815.2 328.0,816.7" stroke-width="1.9"/><polyline points="291.0,832.4 292.0,831.4" stroke-width="1.6"/><polyline points="364.1,793.1 366.9,794.0 365.0,795.1 364.1,793.6 365.5,794.5" stroke-width="2.3"/><polyline points="292.0,849.5 290.4,849.2 290.0,846.0" stroke-width="2.2"/><polyline points="320.9,819.9 321.5,821.8" stroke-width="1.5"/><polyline points="315.9,873.3 316.2,871.9 316.2,870.6 314.4,870.3" stroke-width="1.9"/><polyline points="340.7,819.6 339.1,817.7" stroke-width="1.6"/><polyline points="330.2,870.9 333.5,872.2 332.3,871.2 333.8,868.6 336.5,870.2" stroke-width="1.7"/><polyline points="259.9,843.6 261.5,844.3" stroke-width="1.9"/><polyline points="293.2,776.3 292.8,777.5 293.0,776.3 294.4,776.7" stroke-width="1.6"/><polyline points="307.6,819.3 311.3,818.2 310.4,819.2 312.4,816.9 314.5,816.7" stroke-width="1.6"/><polyline points="336.7,780.6 334.7,778.4 335.3,781.5 334.0,780.3" stroke-width="1.5"/><polyline points="323.7,882.2 324.9,884.9" stroke-width="1.4"/><polyline points="290.2,865.9 293.0,866.2" stroke-width="2.0"/><polyline points="326.4,800.6 323.1,799.8 321.8,800.9 325.2,801.5" stroke-width="1.6"/><polyline points="279.0,859.8 276.9,857.7" stroke-width="1.2"/><polyline points="344.7,817.3 342.4,816.3 340.1,814.1 343.5,813.3" stroke-width="1.5"/><polyline points="349.3,825.0 348.4,827.1 349.3,824.7 348.3,821.9" stroke-width="1.5"/><polyline points="366.9,879.7 365.2,881.7" stroke-width="1.8"/><polyline points="296.3,831.3 294.9,833.7 297.2,834.8 299.5,834.7" stroke-width="2.1"/><polyline points="428.5,840.4 424.5,840.6 422.5,842.5 422.8,840.9" stroke-width="2.1"/><polyline points="355.3,897.0 353.3,898.7 355.7,900.0" stroke-width="2.3"/><polyline points="345.9,820.2 343.8,820.7 347.2,819.0 348.0,820.2" stroke-width="1.2"/><polyline points="379.5,825.6 382.1,827.6 380.2,830.2 381.9,829.1" stroke-width="2.2"/><polyline points="280.9,837.0 278.5,837.4 276.2,839.8" stroke-width="1.6"/><polyline points="302.5,811.7 300.0,810.0 301.9,809.6" stroke-width="1.8"/><polyline points="344.3,879.2 342.6,876.8 342.2,874.0 339.9,872.6 338.3,870.4" stroke-width="2.0"/><polyline points="357.6,815.2 359.8,816.7" stroke-width="1.7"/><polyline points="360.9,816.5 359.9,819.3 362.0,817.4 365.1,817.5 363.5,818.2" stroke-width="1.7"/><polyline points="342.5,787.9 338.6,788.1 337.5,789.9 339.2,790.1 338.6,792.8" stroke-width="1.6"/><polyline points="309.7,845.4 306.2,843.9 309.5,844.0 311.9,842.9" stroke-width="1.4"/><polyline points="346.3,849.5 349.0,850.9 345.9,849.0 342.4,849.9 345.5,850.2" stroke-width="2.2"/><polyline points="337.1,842.4 336.6,845.6 336.5,843.1 338.9,843.6 339.6,845.0" stroke-width="1.3"/><polyline points="307.3,860.0 307.7,857.4" stroke-width="1.3"/><polyline points="318.6,874.7 317.5,876.8 318.8,878.9 319.1,881.2 317.0,880.6" stroke-width="1.9"/><polyline points="306.8,862.9 305.0,860.5" stroke-width="1.4"/><polyline points="367.5,834.7 366.4,836.5 363.4,837.5 366.3,838.3" stroke-width="1.5"/><polyline points="397.0,832.9 400.7,833.8 400.4,836.9" stroke-width="1.3"/><polyline points="395.3,841.8 399.1,841.3" stroke-width="2.2"/><polyline points="262.2,828.0 265.0,827.2 264.1,825.3 264.8,827.4" stroke-width="1.8"/><polyline points="320.4,862.6 322.3,860.2 321.1,862.3 320.0,861.0" stroke-width="1.8"/><polyline points="347.5,886.8 344.0,886.5 341.2,885.5 341.7,883.0" stroke-width="2.2"/><polyline points="241.2,827.4 242.9,826.5 244.3,828.0" stroke-width="1.7"/><polyline points="304.0,846.1 303.7,844.9 303.1,842.7" stroke-width="1.5"/><polyline points="399.2,849.3 396.6,848.3 396.9,849.4 393.2,849.6" stroke-width="1.7"/><polyline points="338.7,873.0 340.4,874.2 339.1,875.3" stroke-width="2.0"/><polyline points="345.6,833.3 342.8,832.4 339.4,833.2" stroke-width="2.0"/><polyline points="311.5,830.5 310.3,829.7 312.5,829.3" stroke-width="1.3"/><polyline points="350.2,854.1 348.5,853.6 346.8,852.5 344.3,851.8" stroke-width="1.8"/><polyline points="339.6,875.8 338.3,876.6" stroke-width="1.6"/><polyline points="293.7,830.9 296.0,830.2 297.0,829.1" stroke-width="1.3"/><polyline points="402.5,819.8 399.5,818.6 401.0,817.1 399.5,819.4 401.4,821.1" stroke-width="2.2"/><polyline points="296.6,792.0 295.6,793.4 293.6,794.6 290.9,796.6" stroke-width="2.1"/><polyline points="366.5,866.3 364.3,867.3 363.5,864.9" stroke-width="2.3"/><polyline points="348.8,803.9 350.5,802.9 350.2,804.2 347.5,803.9" stroke-width="2.2"/><polyline points="338.6,852.7 338.7,850.3 338.7,851.6" stroke-width="1.3"/><polyline points="337.4,800.4 334.5,802.2" stroke-width="1.7"/><polyline points="424.7,841.6 423.4,840.3 422.1,841.2" stroke-width="2.0"/><polyline points="346.7,828.9 345.9,830.7" stroke-width="1.3"/><polyline points="408.3,843.8 407.0,841.5 409.9,840.9 409.8,842.7" stroke-width="1.8"/><polyline points="334.6,818.2 331.3,819.5 328.9,817.7" stroke-width="1.6"/><polyline points="380.0,870.1 377.0,868.9" stroke-width="1.9"/><polyline points="389.7,872.8 391.5,873.7" stroke-width="1.9"/><polyline points="403.8,820.5 407.2,819.0 407.4,817.0" stroke-width="1.7"/><polyline points="365.4,842.5 363.1,843.2 363.5,846.4 365.6,846.1 368.2,847.3" stroke-width="1.2"/><polyline points="325.9,830.0 322.6,828.3" stroke-width="2.0"/><polyline points="384.8,851.4 383.6,850.0 380.5,850.7 380.2,852.3 380.6,854.5" stroke-width="1.8"/><polyline points="312.6,844.2 312.6,847.0 315.8,846.4 317.1,848.7 318.8,847.5" stroke-width="2.2"/><polyline points="332.4,824.7 334.7,826.7" stroke-width="1.7"/><polyline points="388.5,860.1 392.1,860.1 394.2,859.4 397.0,861.5 398.9,859.6" stroke-width="2.2"/><polyline points="354.5,844.4 358.0,843.5 361.1,844.0" stroke-width="1.6"/><polyline points="321.9,894.8 325.1,894.0 325.4,896.1" stroke-width="2.1"/><polyline points="326.4,885.2 327.4,887.2 326.1,888.7 323.7,888.2 321.5,888.5" stroke-width="2.1"/><polyline points="337.4,870.5 338.6,868.5" stroke-width="2.1"/><polyline points="332.7,880.1 333.7,878.1" stroke-width="1.4"/><polyline points="357.9,868.8 358.9,867.1 360.2,865.1 358.3,863.2 360.9,864.1" stroke-width="1.6"/><polyline points="278.1,852.2 278.8,851.1 276.3,853.0" stroke-width="1.8"/><polyline points="334.5,869.7 333.3,871.8" stroke-width="1.4"/><polyline points="333.2,786.1 330.8,785.5" stroke-width="2.2"/><polyline points="347.2,856.7 349.5,856.6 351.5,854.8 354.3,854.4" stroke-width="1.6"/><polyline points="363.8,804.5 361.8,804.6 363.0,805.4 359.4,805.5 362.3,806.8" stroke-width="1.3"/><polyline points="354.4,868.2 353.9,870.6" stroke-width="1.4"/><polyline points="373.4,824.6 372.5,827.3" stroke-width="1.7"/><polyline points="321.2,890.4 319.6,891.1 319.0,889.4 317.7,890.1" stroke-width="1.7"/><polyline points="392.2,868.1 392.2,870.5 392.4,868.7 392.1,866.9 388.6,868.0" stroke-width="2.1"/><polyline points="396.2,812.2 397.4,810.2 398.3,812.4 397.7,810.5" stroke-width="1.4"/><polyline points="315.4,829.6 314.8,832.7 317.9,833.6 318.5,832.4 319.2,831.0" stroke-width="2.0"/><polyline points="383.9,847.0 380.9,845.8" stroke-width="1.8"/><polyline points="299.2,838.9 296.9,836.4 296.9,834.4 299.6,835.2 297.5,836.6" stroke-width="1.9"/><polyline points="335.2,838.2 337.4,838.2 336.0,837.0 335.0,835.4 332.7,836.2" stroke-width="1.9"/><polyline points="259.4,821.6 259.5,823.7 260.3,822.6 263.0,820.6" stroke-width="2.1"/><polyline points="293.8,816.4 291.2,817.9" stroke-width="2.0"/><polyline points="359.0,816.7 356.7,816.9 354.1,818.2" stroke-width="1.4"/><polyline points="284.4,842.3 287.1,841.7" stroke-width="2.2"/><polyline points="414.1,844.4 411.4,843.1 408.5,841.9" stroke-width="1.3"/><polyline points="335.0,862.3 336.7,862.0 337.5,863.2 339.8,864.9 338.7,866.0" stroke-width="1.3"/><polyline points="358.7,828.9 359.4,827.8 360.0,825.3 362.9,826.7" stroke-width="1.7"/><polyline points="334.5,850.1 330.8,850.7 328.6,851.4" stroke-width="1.7"/><polyline points="314.6,825.9 313.7,827.3 313.5,826.0" stroke-width="1.7"/><polyline points="339.9,893.4 338.2,896.0 338.4,897.3" stroke-width="1.8"/><polyline points="302.5,807.3 304.7,805.5 308.3,804.4 307.2,803.4" stroke-width="1.3"/><polyline points="358.7,794.4 356.6,794.0" stroke-width="1.9"/><polyline points="376.8,867.4 378.7,864.7 378.5,863.5" stroke-width="1.7"/><polyline points="377.4,848.1 374.4,846.0 372.8,843.2 374.4,842.3" stroke-width="1.6"/><polyline points="281.7,839.7 278.2,840.0 279.4,840.8 281.2,841.7 278.6,840.6" stroke-width="1.7"/><polyline points="316.9,838.4 318.7,836.0 314.9,836.6" stroke-width="1.4"/><polyline points="338.0,900.7 336.2,898.8 336.1,900.3" stroke-width="2.1"/><polyline points="387.0,858.2 385.7,857.5" stroke-width="1.5"/><polyline points="378.3,841.8 376.7,842.2" stroke-width="1.8"/><polyline points="347.9,866.5 346.1,868.1 347.2,870.0" stroke-width="1.5"/><polyline points="300.4,780.1 299.1,781.3" stroke-width="1.5"/><polyline points="276.5,804.3 276.7,802.8" stroke-width="1.6"/><polyline points="434.3,844.0 431.5,844.4 432.8,846.1 430.4,843.8 429.5,845.2" stroke-width="1.6"/><polyline points="340.5,871.3 343.7,871.3 343.9,873.0 344.9,870.6 344.9,868.2" stroke-width="1.6"/><polyline points="332.1,910.5 334.0,912.1 332.4,912.5" stroke-width="2.2"/><polyline points="419.4,854.2 422.8,853.1 425.2,853.3" stroke-width="2.1"/><polyline points="310.3,842.9 308.9,844.1 307.3,844.7" stroke-width="1.2"/><polyline points="318.7,836.7 320.6,838.5 317.8,838.1" stroke-width="1.7"/><polyline points="324.8,758.7 322.7,757.5 326.0,756.6" stroke-width="1.7"/><polyline points="363.9,795.8 364.6,797.2 365.3,798.6 367.3,796.8" stroke-width="2.0"/><polyline points="297.7,816.3 295.7,817.0 295.0,814.8 296.1,813.6" stroke-width="2.1"/><polyline points="251.0,838.3 252.6,837.2" stroke-width="1.3"/><polyline points="388.8,843.5 386.7,842.4 386.1,843.7 389.2,842.5 391.2,841.6" stroke-width="2.2"/><polyline points="295.4,858.3 294.3,859.9 294.2,858.4" stroke-width="1.3"/><polyline points="318.8,793.0 317.8,794.6 316.2,793.8 312.9,795.1 311.8,792.5" stroke-width="1.2"/><polyline points="237.2,826.4 240.4,825.2 243.7,824.6" stroke-width="2.1"/><polyline points="328.7,799.8 328.2,801.1 331.7,800.6 333.1,801.8" stroke-width="1.6"/><polyline points="261.8,804.6 258.9,806.5" stroke-width="2.2"/><polyline points="330.3,895.7 330.3,898.3" stroke-width="2.1"/><polyline points="378.0,888.6 380.8,888.1 383.1,889.0 381.1,887.8" stroke-width="2.0"/><polyline points="343.2,840.1 340.8,841.9 338.2,840.6 336.9,841.9 337.2,838.9" stroke-width="1.9"/><polyline points="257.8,834.5 258.8,837.5" stroke-width="2.1"/><polyline points="353.7,849.2 351.4,849.9" stroke-width="1.7"/><polyline points="401.1,833.6 398.9,832.5 402.2,833.9" stroke-width="1.4"/><polyline points="351.0,891.0 354.4,891.5 352.0,893.1 350.1,894.1" stroke-width="1.7"/><polyline points="367.2,837.1 366.6,839.3" stroke-width="2.2"/><polyline points="323.0,874.9 319.8,873.2 322.3,872.7 321.0,875.5" stroke-width="1.4"/><polyline points="324.3,783.6 321.5,782.9 323.0,783.1 320.1,783.4" stroke-width="2.1"/><polyline points="252.4,849.1 250.1,848.8 249.5,847.3 246.5,849.0 244.4,850.9" stroke-width="1.6"/><polyline points="411.6,813.4 413.8,812.3 411.1,812.9 409.5,812.6" stroke-width="1.4"/><polyline points="310.1,839.2 310.8,841.4 308.5,842.5" stroke-width="1.4"/><polyline points="317.3,812.3 314.3,813.5 312.2,813.5 310.0,813.1" stroke-width="2.2"/><polyline points="377.2,825.1 376.0,822.9 372.7,824.1 370.9,824.2" stroke-width="1.7"/><polyline points="327.3,848.0 328.9,846.4 327.5,847.0" stroke-width="1.4"/><polyline points="290.7,803.3 292.8,804.7 289.8,804.8" stroke-width="1.7"/><polyline points="356.4,874.6 355.0,873.2 353.4,874.2" stroke-width="1.9"/><polyline points="341.2,798.4 338.5,798.5 341.0,799.4 342.7,801.9" stroke-width="2.1"/><polyline points="331.4,833.2 330.7,834.8" stroke-width="2.2"/><polyline points="387.8,836.2 389.9,836.8 386.7,838.5 385.1,837.2 382.0,837.1" stroke-width="1.5"/><polyline points="294.3,815.8 296.6,816.6 299.0,818.4 297.2,818.6 298.1,820.3" stroke-width="1.5"/><polyline points="325.9,809.8 328.1,809.3 325.7,811.2" stroke-width="2.1"/><polyline points="277.3,818.9 274.3,818.5 274.1,817.3 273.2,818.5" stroke-width="1.5"/><polyline points="325.7,879.6 327.7,877.3" stroke-width="1.7"/><polyline points="401.4,816.4 403.9,814.6" stroke-width="1.8"/><polyline points="331.1,803.2 332.6,801.5" stroke-width="1.2"/><polyline points="283.6,858.1 284.9,859.2 282.1,857.6 284.4,857.3 286.5,856.3" stroke-width="2.2"/><polyline points="251.0,846.6 253.0,846.1 254.4,843.1" stroke-width="1.5"/><polyline points="388.3,832.7 391.1,833.9 392.9,831.9 394.5,833.5" stroke-width="1.9"/><polyline points="358.8,837.5 359.0,835.3 356.8,833.6 359.1,833.5" stroke-width="1.4"/><polyline points="340.3,783.1 342.3,782.5 342.2,779.4" stroke-width="1.8"/><polyline points="341.9,855.7 339.5,856.2 337.8,855.5" stroke-width="1.7"/><polyline points="301.6,851.5 302.3,850.3 301.5,851.5 300.2,850.1 297.3,848.9" stroke-width="1.9"/><polyline points="309.4,774.9 309.3,776.2" stroke-width="1.3"/><polyline points="321.3,898.8 323.5,897.2 323.1,895.0" stroke-width="2.0"/><polyline points="389.1,808.3 390.4,809.3" stroke-width="1.7"/><polyline points="340.5,860.4 339.1,862.1" stroke-width="1.4"/><polyline points="295.4,806.9 296.9,808.4 294.5,809.3 292.9,807.3" stroke-width="2.3"/><polyline points="361.0,805.5 364.0,807.4 366.9,805.4 364.3,804.4 366.2,801.7" stroke-width="1.6"/><polyline points="373.6,843.3 374.8,844.1 376.8,845.9 373.4,844.7 371.8,844.8" stroke-width="1.6"/><polyline points="319.8,867.0 320.1,868.6 317.3,869.3 314.6,868.3" stroke-width="1.7"/><polyline points="296.9,869.0 299.7,868.4 298.6,867.6 300.7,865.4" stroke-width="2.1"/><polyline points="324.9,858.6 324.1,860.1 323.6,861.2" stroke-width="2.2"/><polyline points="355.0,855.1 353.3,854.5" stroke-width="1.5"/><polyline points="386.3,857.5 386.1,855.0 388.7,852.6 389.1,850.3" stroke-width="1.7"/><polyline points="384.0,834.1 386.0,833.6 387.5,834.7 385.3,836.6 383.4,834.0" stroke-width="1.3"/><polyline points="330.8,874.1 329.2,874.2" stroke-width="1.3"/><polyline points="312.3,842.2 312.5,839.5 310.2,839.3 309.6,837.3 311.8,838.9" stroke-width="1.2"/><polyline points="346.2,886.5 347.3,885.5 348.2,887.7 349.1,890.6" stroke-width="1.8"/><polyline points="276.3,868.0 279.2,867.7 280.1,865.1" stroke-width="1.9"/><polyline points="320.1,847.9 321.8,850.4 322.3,851.7 318.5,852.3" stroke-width="2.0"/><polyline points="260.6,842.2 261.8,843.1" stroke-width="1.6"/><polyline points="281.7,825.6 280.8,827.5 280.8,825.4 278.1,826.2 274.4,826.8" stroke-width="2.0"/><polyline points="306.4,791.0 304.1,788.6 301.5,790.0" stroke-width="2.2"/><polyline points="296.4,797.4 298.5,795.1 297.2,798.0" stroke-width="1.3"/><polyline points="351.3,837.6 352.4,836.7 349.9,835.5" stroke-width="1.6"/><polyline points="291.0,857.7 288.3,856.8 287.7,858.0" stroke-width="1.7"/><polyline points="293.2,810.1 294.6,812.1 296.0,814.1 293.1,812.8" stroke-width="1.5"/><polyline points="321.4,870.2 319.7,868.3" stroke-width="1.5"/><polyline points="353.6,833.3 354.6,835.5 356.0,833.1" stroke-width="1.6"/><polyline points="398.7,852.2 400.3,852.0" stroke-width="1.7"/><polyline points="350.7,887.2 348.7,885.3 349.6,887.9 351.2,888.7 347.6,888.5" stroke-width="1.7"/><polyline points="331.2,830.1 333.3,832.6 334.3,829.7" stroke-width="2.0"/><polyline points="266.6,818.6 267.4,816.6 269.0,814.6 266.1,813.2" stroke-width="1.4"/><polyline points="289.5,828.1 290.7,827.1 290.3,825.7" stroke-width="1.5"/><polyline points="372.7,829.8 374.3,829.0 377.6,828.8" stroke-width="1.3"/><polyline points="338.1,804.1 337.3,806.4" stroke-width="1.4"/><polyline points="379.2,828.9 376.4,827.4" stroke-width="1.5"/><polyline points="339.9,822.8 341.7,822.7 342.1,825.1" stroke-width="2.1"/><polyline points="339.6,780.8 336.0,779.6 333.0,778.9 335.8,778.4" stroke-width="2.0"/><polyline points="326.9,820.3 328.4,818.8 330.8,816.6 327.3,817.8 326.2,820.8" stroke-width="1.5"/><polyline points="325.4,830.4 324.1,832.3" stroke-width="2.2"/><polyline points="366.8,791.7 364.0,790.3" stroke-width="1.5"/><polyline points="371.8,833.3 374.2,835.2" stroke-width="1.8"/><polyline points="367.4,821.9 367.8,820.3" stroke-width="1.8"/><polyline points="359.1,869.6 355.9,871.0" stroke-width="1.8"/><polyline points="325.9,910.0 322.5,909.5 320.3,911.3 323.9,911.1 324.5,913.2" stroke-width="2.1"/><polyline points="359.1,874.3 361.6,873.4 359.0,872.2 360.8,873.8 359.2,871.1" stroke-width="1.5"/><polyline points="352.0,834.4 350.2,832.0 348.2,831.8 347.8,830.2 345.1,831.0" stroke-width="1.8"/><polyline points="347.3,861.8 346.5,864.5" stroke-width="1.7"/><polyline points="338.8,885.3 336.3,884.9" stroke-width="1.6"/><polyline points="325.3,795.9 329.1,796.5 328.1,794.7 326.3,795.1 327.9,794.9" stroke-width="1.8"/><polyline points="379.0,853.5 378.6,850.9 381.3,851.1 382.9,853.7" stroke-width="1.7"/><polyline points="305.8,847.2 306.8,844.5 304.8,844.7 307.7,846.5" stroke-width="1.4"/><polyline points="371.2,825.6 371.5,824.1" stroke-width="1.8"/><polyline points="377.5,855.3 375.8,857.4 374.4,860.3" stroke-width="1.6"/><polyline points="399.1,853.7 401.1,852.5 398.6,853.1" stroke-width="1.3"/><polyline points="378.9,821.6 381.8,822.6 383.2,821.4 386.6,822.0" stroke-width="2.3"/><polyline points="342.5,885.1 342.0,887.1" stroke-width="1.9"/><polyline points="364.4,872.5 363.4,874.9" stroke-width="1.5"/><polyline points="300.5,835.0 298.3,834.8 297.4,837.3 301.2,837.0" stroke-width="1.8"/><polyline points="270.7,843.2 269.2,843.9 270.4,845.2 269.7,844.0 271.8,843.2" stroke-width="1.5"/><polyline points="293.8,865.5 292.1,865.3 290.6,865.7" stroke-width="1.8"/><polyline points="312.1,883.1 315.2,881.6 316.4,883.8" stroke-width="1.9"/><polyline points="309.1,831.1 311.3,829.1 311.2,832.2 310.7,829.5 310.5,830.9" stroke-width="1.4"/><polyline points="310.7,847.7 313.1,849.2 310.0,849.0 309.0,851.4 307.1,850.8" stroke-width="1.8"/><polyline points="324.6,863.7 323.8,865.9" stroke-width="1.6"/><polyline points="274.1,816.4 273.8,817.6 271.2,817.2 269.2,816.1" stroke-width="2.3"/><polyline points="320.9,862.3 322.6,861.4" stroke-width="1.9"/><polyline points="405.8,821.7 405.4,819.3 402.3,820.1 400.3,821.1 402.3,820.4" stroke-width="2.3"/><polyline points="288.2,830.0 289.5,827.9 288.2,825.4 290.2,824.9 290.9,826.5" stroke-width="1.3"/><polyline points="327.8,888.9 330.1,890.2 331.7,887.4 330.0,888.9" stroke-width="1.9"/><polyline points="349.0,826.5 351.2,826.4 353.9,824.3 351.1,825.9 349.2,828.7" stroke-width="2.3"/><polyline points="308.1,838.3 307.7,840.3 306.1,839.3" stroke-width="2.0"/><polyline points="231.2,824.2 233.6,826.3" stroke-width="1.3"/><polyline points="351.6,864.7 350.5,866.2 349.7,864.9" stroke-width="1.5"/><polyline points="353.7,854.1 350.9,853.6 348.4,855.9" stroke-width="2.0"/><polyline points="305.4,858.6 307.3,860.1 308.9,859.6 309.4,857.2" stroke-width="1.7"/><polyline points="254.1,836.8 250.8,835.3 249.3,837.8 245.8,836.5" stroke-width="1.8"/><polyline points="334.7,884.4 331.6,885.5 333.5,887.9 333.9,886.7" stroke-width="1.8"/><polyline points="374.5,871.3 371.9,873.4 372.5,872.2 375.1,872.7 378.0,871.9" stroke-width="1.7"/><polyline points="278.6,867.2 276.6,868.2" stroke-width="1.3"/><polyline points="379.0,804.0 378.4,802.4 379.6,801.4" stroke-width="2.0"/><polyline points="296.7,815.9 295.1,814.4 295.8,813.0 298.1,812.7 296.6,813.3" stroke-width="1.9"/><polyline points="417.9,848.4 414.9,848.9 417.0,848.2" stroke-width="1.3"/><polyline points="355.9,888.0 355.1,889.6 353.6,890.0 353.4,887.4 354.0,888.6" stroke-width="2.0"/><polyline points="342.7,865.6 342.7,866.9 344.5,867.3" stroke-width="2.3"/><polyline points="328.7,790.6 328.7,787.6 326.3,786.1" stroke-width="1.4"/><polyline points="287.7,844.8 285.6,845.9 288.3,847.9" stroke-width="1.4"/><polyline points="314.5,834.1 316.6,835.3 316.2,837.1 317.3,839.4 314.0,838.7" stroke-width="1.8"/><polyline points="316.0,821.9 313.8,821.7" stroke-width="2.1"/><polyline points="298.3,834.8 299.6,836.7 298.2,838.1 300.9,839.8 302.5,842.3" stroke-width="2.2"/><polyline points="306.2,866.1 303.1,864.5" stroke-width="1.8"/><polyline points="338.0,819.2 336.2,819.5 337.6,821.5" stroke-width="1.8"/><polyline points="298.3,814.8 299.1,816.7 296.8,815.4 296.8,818.3" stroke-width="1.4"/><polyline points="368.2,827.7 364.3,827.7" stroke-width="1.9"/><polyline points="272.2,856.4 275.3,857.1" stroke-width="1.3"/><polyline points="300.1,821.0 298.9,818.3" stroke-width="1.8"/><polyline points="298.4,804.7 295.1,803.0" stroke-width="1.6"/><polyline points="301.5,854.7 298.3,855.1 295.1,856.6 295.3,857.8 298.0,857.7" stroke-width="2.2"/><polyline points="263.0,835.6 263.7,836.7 266.3,838.3" stroke-width="1.4"/><polyline points="365.5,828.9 366.5,831.6 363.3,833.4 359.5,833.2" stroke-width="1.4"/><polyline points="347.2,787.0 349.3,786.8 348.3,789.2" stroke-width="1.4"/><polyline points="325.2,828.4 323.7,827.4 326.5,826.8 329.4,825.7 325.8,825.8" stroke-width="1.8"/><polyline points="368.0,864.8 367.0,863.7 366.2,862.1" stroke-width="2.2"/><polyline points="345.7,850.6 344.2,848.9 342.9,850.3" stroke-width="1.4"/><polyline points="341.7,802.0 338.6,802.2 341.5,800.0 341.5,798.6" stroke-width="1.9"/><polyline points="365.1,799.2 365.8,797.6 368.5,799.3" stroke-width="1.5"/><polyline points="305.8,851.6 303.7,852.7 305.5,850.4 306.5,851.5" stroke-width="1.4"/><polyline points="349.9,872.5 350.1,874.6 348.6,873.2 350.2,871.0" stroke-width="1.3"/><polyline points="306.5,794.7 305.6,796.0 307.7,795.6 309.5,797.3" stroke-width="1.4"/><polyline points="370.8,818.5 370.7,819.7 367.5,819.1 369.2,820.4 366.2,820.7" stroke-width="1.2"/><polyline points="357.8,860.3 356.6,862.8 358.3,860.5 356.7,860.2 358.0,861.2" stroke-width="1.3"/><polyline points="404.0,861.1 402.2,859.0 400.6,860.6 401.7,862.1 403.7,862.6" stroke-width="2.1"/><polyline points="381.0,826.0 382.5,826.5 381.5,825.1 383.0,826.0 383.6,828.3" stroke-width="1.3"/><polyline points="381.0,822.3 384.1,820.3" stroke-width="2.2"/><polyline points="265.4,830.9 265.8,828.7 269.0,827.7 267.8,827.0" stroke-width="1.6"/><polyline points="353.0,855.3 353.3,852.4 351.3,852.9 348.9,851.7 351.4,853.9" stroke-width="1.9"/><polyline points="292.9,815.8 296.1,815.5 293.8,815.9" stroke-width="1.9"/><polyline points="346.0,800.1 344.3,800.3 345.1,802.6" stroke-width="1.6"/><polyline points="323.1,793.7 319.5,792.9 316.7,792.6 319.9,792.8 316.1,793.5" stroke-width="1.5"/><polyline points="283.0,830.8 283.8,829.4 284.2,827.5 284.5,825.8" stroke-width="1.3"/><polyline points="296.9,820.5 293.8,822.0 293.7,819.4 294.1,816.8 294.8,819.3" stroke-width="1.4"/><polyline points="310.3,834.0 309.4,835.4 308.1,833.1 305.6,831.6" stroke-width="1.7"/><polyline points="294.9,860.3 293.1,858.5 290.7,858.4" stroke-width="2.2"/><polyline points="296.6,819.6 297.4,820.8" stroke-width="1.3"/><polyline points="261.1,841.1 264.4,841.4 267.4,840.3" stroke-width="1.9"/><polyline points="385.3,837.2 386.9,834.4 389.1,834.5 388.8,835.8" stroke-width="1.8"/><polyline points="359.2,873.9 358.3,872.4 360.1,870.6 362.0,871.5 364.3,871.4" stroke-width="1.3"/><polyline points="340.8,785.9 342.2,786.6 339.2,787.0" stroke-width="2.0"/><polyline points="323.3,884.1 325.9,883.9" stroke-width="2.2"/><polyline points="395.0,841.9 397.0,842.2 398.4,844.8 397.6,842.5 398.9,841.1" stroke-width="1.6"/><polyline points="381.6,809.0 381.4,807.1 380.4,809.2 381.9,807.0" stroke-width="1.7"/><polyline points="357.6,853.5 357.7,851.4 354.0,852.4 355.3,850.5 354.5,849.3" stroke-width="1.9"/><polyline points="375.5,859.7 374.8,861.3 372.3,862.3 369.4,861.4" stroke-width="1.6"/><polyline points="368.3,826.1 372.0,827.3 370.0,824.7" stroke-width="1.3"/><polyline points="338.5,773.1 337.5,774.2 340.5,772.7 341.8,774.3" stroke-width="1.5"/><polyline points="305.7,824.3 302.5,825.7 299.4,826.9 297.8,827.9" stroke-width="1.8"/><polyline points="324.4,809.2 323.0,810.5 321.4,807.6 323.0,804.9 324.8,807.2" stroke-width="2.2"/><polyline points="367.0,848.8 367.8,846.2 365.3,846.9 364.6,848.1 361.0,847.5" stroke-width="1.4"/><polyline points="341.5,867.5 338.0,866.2" stroke-width="2.0"/><polyline points="331.5,812.5 334.1,813.5 335.1,814.7 333.6,814.5 336.0,812.9" stroke-width="2.0"/><polyline points="343.4,773.0 341.1,774.7 342.5,776.2 341.7,774.2" stroke-width="1.6"/><polyline points="348.4,835.4 347.3,836.2 346.7,838.2 344.4,839.8 342.1,842.0" stroke-width="1.8"/><polyline points="326.4,807.8 326.4,809.7 325.8,811.8 324.4,809.5" stroke-width="1.5"/><polyline points="276.9,832.9 275.5,835.4 276.5,836.8" stroke-width="1.9"/><polyline points="244.8,834.8 241.0,834.6" stroke-width="1.2"/><polyline points="306.4,807.4 309.4,809.4 312.2,808.6 308.6,808.4" stroke-width="2.2"/><polyline points="322.8,879.2 319.0,878.6" stroke-width="1.7"/><polyline points="366.5,863.6 365.4,861.9 364.0,861.5 367.5,861.2 369.4,858.8" stroke-width="1.6"/><polyline points="268.8,829.4 267.4,830.4 266.8,833.0 265.9,831.4" stroke-width="1.6"/><polyline points="318.7,867.3 321.3,865.4" stroke-width="1.5"/><polyline points="302.7,883.8 303.1,881.9 302.9,880.1" stroke-width="2.1"/><polyline points="375.6,806.0 376.0,803.3 374.4,806.0" stroke-width="1.6"/><polyline points="368.7,809.2 368.6,806.1 365.8,806.2 363.9,805.6" stroke-width="2.3"/><polyline points="308.8,838.4 307.8,836.6 304.8,836.6 303.4,838.1 307.0,837.4" stroke-width="1.4"/><polyline points="385.1,829.9 387.0,829.5 385.0,829.8 383.9,827.1 385.4,825.9" stroke-width="1.9"/><polyline points="301.8,803.7 302.0,801.4 304.0,800.3 305.8,799.6 304.9,796.5" stroke-width="2.0"/><polyline points="277.7,843.3 274.1,843.8" stroke-width="1.6"/><polyline points="315.3,863.4 317.4,862.1 316.2,863.2 314.7,864.7" stroke-width="1.4"/><polyline points="335.9,836.5 339.2,836.3 341.2,836.1 337.4,835.9 337.3,837.3" stroke-width="1.7"/><polyline points="273.8,867.7 274.9,865.5 275.2,868.4 275.0,869.9" stroke-width="1.9"/><polyline points="281.8,819.2 284.2,818.9 287.6,817.6 287.2,816.3" stroke-width="1.4"/><polyline points="326.7,817.4 330.5,818.4 330.8,816.1 330.7,814.6 329.7,816.4" stroke-width="2.2"/><polyline points="386.4,830.4 388.9,831.2" stroke-width="1.6"/><polyline points="364.2,851.9 361.8,849.4 363.2,852.4 361.6,853.4 365.3,853.5" stroke-width="2.0"/><polyline points="345.4,854.7 344.1,856.1 347.8,855.6 346.0,856.2 349.2,855.4" stroke-width="2.0"/><polyline points="340.8,805.8 341.4,808.9 338.9,809.7" stroke-width="2.2"/><polyline points="345.0,860.6 348.3,860.7 350.1,862.8 353.2,860.9 353.3,858.2" stroke-width="1.2"/><polyline points="310.7,800.1 312.7,801.3 309.5,800.3 311.8,800.9 314.2,802.9" stroke-width="2.1"/><polyline points="292.4,846.5 290.7,847.0 292.4,848.4" stroke-width="1.4"/><polyline points="317.1,881.7 314.0,880.0" stroke-width="2.0"/><polyline points="333.4,801.4 333.3,802.7 333.9,800.2" stroke-width="2.1"/><polyline points="333.4,812.9 334.7,813.9 337.2,816.3 339.3,817.2" stroke-width="1.4"/><polyline points="327.0,852.4 327.5,851.2 330.6,850.8 333.4,850.2" stroke-width="2.0"/><polyline points="392.2,830.4 392.5,833.0 395.4,832.8 392.6,833.7 389.1,834.2" stroke-width="2.3"/><polyline points="338.4,861.4 340.5,861.1" stroke-width="2.1"/><polyline points="351.2,874.5 354.6,873.3 358.0,874.0" stroke-width="2.0"/><polyline points="396.3,858.0 398.2,857.3 399.0,855.5 396.6,854.9 398.1,853.3" stroke-width="2.1"/><polyline points="384.1,836.8 383.7,837.9 386.1,836.4 384.6,835.5" stroke-width="2.2"/><polyline points="317.7,844.3 314.8,843.7 313.8,845.6 317.0,844.6 313.6,843.7" stroke-width="1.2"/><polyline points="264.6,839.7 264.4,842.0 268.1,843.0 266.5,845.1" stroke-width="1.8"/><polyline points="337.8,913.6 340.9,913.2" stroke-width="2.3"/><polyline points="321.6,793.9 321.0,795.5 323.0,793.2 321.2,791.6" stroke-width="1.7"/><polyline points="346.0,809.4 344.7,807.9" stroke-width="1.9"/><polyline points="281.6,808.8 279.9,809.1 277.5,809.7 276.7,808.5 278.6,808.4" stroke-width="1.6"/><polyline points="311.4,885.4 311.6,887.2 311.2,888.5" stroke-width="1.4"/><polyline points="320.4,819.9 317.3,821.2" stroke-width="1.5"/><polyline points="271.6,803.3 269.7,801.7 267.2,799.9 269.9,800.6 272.8,799.5" stroke-width="2.2"/><polyline points="289.1,839.4 291.9,840.2 289.0,839.3" stroke-width="1.6"/><polyline points="326.7,887.8 328.6,886.5 329.9,888.8" stroke-width="1.6"/><polyline points="389.7,843.7 389.8,845.8 388.1,846.0" stroke-width="1.4"/><polyline points="305.8,843.4 307.6,843.0 306.1,842.7" stroke-width="1.8"/><polyline points="353.7,869.2 353.2,868.1 354.5,870.9 353.3,872.1" stroke-width="1.6"/><polyline points="396.4,817.7 394.4,817.8 393.8,815.2" stroke-width="2.3"/><polyline points="322.6,877.7 323.8,876.2 323.3,874.8 324.6,877.0 327.6,878.8" stroke-width="1.8"/><polyline points="344.7,868.0 345.7,869.6 342.0,870.1 344.4,869.5" stroke-width="1.5"/><polyline points="344.6,857.3 346.5,855.5 345.6,856.8 343.5,856.7" stroke-width="1.3"/><polyline points="305.2,889.7 303.2,890.7 299.9,890.1 301.6,893.0" stroke-width="1.8"/><polyline points="266.0,810.3 262.1,810.6" stroke-width="1.5"/><polyline points="309.6,775.6 306.6,774.9 307.7,776.3" stroke-width="1.6"/><polyline points="304.2,820.1 304.4,817.6 301.6,815.7 304.7,815.5" stroke-width="1.4"/><polyline points="292.7,787.7 291.1,787.6" stroke-width="1.9"/><polyline points="325.9,815.4 326.2,813.6 326.1,811.4" stroke-width="1.5"/><polyline points="255.3,828.4 256.9,828.7" stroke-width="1.9"/><polyline points="365.7,878.1 364.2,876.5" stroke-width="1.7"/><polyline points="331.8,800.1 329.7,800.8 327.7,800.7" stroke-width="2.3"/><polyline points="358.4,873.7 359.2,871.5 361.5,872.4 363.9,871.1" stroke-width="1.9"/><polyline points="313.6,904.5 312.7,906.3 312.1,905.1 313.1,906.1 312.8,908.3" stroke-width="1.2"/><polyline points="293.2,821.6 291.6,823.5 293.9,825.5 292.4,828.1" stroke-width="1.9"/><polyline points="322.9,871.7 322.4,873.6 320.9,874.6" stroke-width="1.9"/><polyline points="324.0,766.0 321.3,763.7 318.7,765.3" stroke-width="2.1"/><polyline points="333.1,789.4 335.0,787.9 334.0,786.6 332.8,787.4" stroke-width="1.4"/><polyline points="320.3,757.0 317.0,755.9" stroke-width="1.3"/><polyline points="317.0,792.8 318.1,794.2" stroke-width="2.2"/><polyline points="342.5,911.5 343.7,912.4 342.2,910.7" stroke-width="1.3"/><polyline points="241.0,816.6 241.1,815.3" stroke-width="1.4"/><polyline points="406.2,838.3 405.2,835.9 404.9,833.1 404.8,830.2" stroke-width="1.7"/><polyline points="353.7,786.3 354.8,783.6 358.1,782.9 360.9,783.2" stroke-width="1.4"/><polyline points="341.4,795.5 342.1,793.0 343.4,791.5" stroke-width="1.4"/><polyline points="333.8,776.4 337.4,776.0 334.2,775.2" stroke-width="2.0"/><polyline points="314.2,800.0 315.9,800.9 315.7,803.4 313.3,805.0 313.1,802.6" stroke-width="2.2"/><polyline points="371.8,837.0 374.1,837.0 372.1,837.4" stroke-width="2.3"/><polyline points="280.0,842.1 279.3,844.8 277.5,845.6 277.5,843.4 280.9,842.9" stroke-width="1.4"/><polyline points="373.3,807.7 371.8,807.4 370.4,809.0 369.6,807.8" stroke-width="2.0"/><polyline points="341.2,854.2 344.7,855.5 347.3,854.0" stroke-width="1.9"/><polyline points="318.8,882.9 321.4,882.8 320.0,881.2 321.0,879.0 319.1,876.2" stroke-width="2.0"/><polyline points="259.8,830.0 257.4,829.4" stroke-width="2.2"/><polyline points="374.1,806.1 372.3,804.5 369.9,804.6" stroke-width="1.5"/><polyline points="287.7,813.6 285.9,813.2 285.1,812.2 284.2,809.6 284.6,807.0" stroke-width="1.7"/><polyline points="333.7,826.1 335.7,825.6 332.2,825.9 331.3,822.9 332.0,820.8" stroke-width="1.5"/><polyline points="319.7,837.1 317.8,839.0 314.4,837.9 313.3,836.3" stroke-width="1.7"/><polyline points="317.8,880.4 320.0,881.7" stroke-width="1.5"/><polyline points="283.9,847.6 283.6,849.4 283.8,851.0 281.2,852.0 278.5,851.0" stroke-width="1.4"/><polyline points="296.7,782.6 297.4,781.2" stroke-width="1.3"/><polyline points="323.3,851.4 323.4,850.1 324.7,852.1" stroke-width="1.4"/><polyline points="338.9,783.7 337.4,783.1 335.0,783.9 336.7,781.2 338.7,781.2" stroke-width="1.7"/><polyline points="277.5,811.5 275.8,811.6 276.6,813.9 277.5,812.6 278.8,809.6" stroke-width="1.8"/><polyline points="397.0,815.0 396.9,816.3" stroke-width="1.7"/><polyline points="337.6,777.0 337.8,778.8 337.3,777.3 336.8,778.5 333.7,778.3" stroke-width="1.8"/><polyline points="336.2,871.0 334.8,870.6 337.5,871.3 337.0,869.4 339.1,871.9" stroke-width="1.7"/><polyline points="315.1,858.3 311.6,859.6 311.9,857.6" stroke-width="1.3"/><polyline points="320.2,754.4 318.7,752.4" stroke-width="2.1"/><polyline points="346.0,813.6 345.8,811.4 346.6,814.1 343.4,815.3 345.2,813.5" stroke-width="1.8"/><polyline points="281.0,851.8 281.9,850.7 279.6,850.3" stroke-width="1.8"/><polyline points="338.1,887.6 339.0,889.7 338.7,887.9 336.3,887.3" stroke-width="1.8"/><polyline points="251.3,818.0 253.4,815.4 253.3,813.5 250.9,815.8" stroke-width="1.8"/><polyline points="322.0,863.7 323.1,866.3" stroke-width="1.6"/><polyline points="375.1,827.5 378.7,828.7 380.2,831.2 377.6,832.0 376.1,832.6" stroke-width="1.6"/><polyline points="298.8,843.6 299.9,844.5 297.6,845.5 294.9,843.6 297.8,844.2" stroke-width="2.2"/></g></g>
<polyline points="100.1,840.8 333.9,1049.7 567.2,840.4" fill="none" stroke="#333" stroke-width="0.8"/>
<path d="M100.1 840.8l-5.8 6.2 M105.9 846.0l-2.9 3.1 M111.8 851.2l-2.9 3.1 M117.6 856.5l-2.9 3.1 M123.5 861.7l-2.9 3.1 M129.3 866.9l-2.9 3.1 M135.2 872.1l-2.9 3.1 M141.0 877.4l-2.9 3.1 M146.9 882.6l-2.9 3.1 M152.7 887.8l-2.9 3.1 M158.5 893.0l-5.8 6.2 M164.4 898.2l-2.9 3.1 M170.2 903.5l-2.9 3.1 M176.1 908.7l-2.9 3.1 M181.9 913.9l-2.9 3.1 M187.8 919.1l-2.9 3.1 M193.6 924.4l-2.9 3.1 M199.5 929.6l-2.9 3.1 M205.3 934.8l-2.9 3.1 M211.2 940.0l-2.9 3.1 M217.0 945.2l-5.8 6.2 M222.8 950.5l-2.9 3.1 M228.7 955.7l-2.9 3.1 M234.5 960.9l-2.9 3.1 M240.4 966.1l-2.9 3.1 M246.2 971.4l-2.9 3.1 M252.1 976.6l-2.9 3.1 M257.9 981.8l-2.9 3.1 M263.8 987.0l-2.9 3.1 M269.6 992.3l-2.9 3.1 M275.4 997.5l-5.8 6.2 M281.3 1002.7l-2.9 3.1 M287.1 1007.9l-2.9 3.1 M293.0 1013.1l-2.9 3.1 M298.8 1018.4l-2.9 3.1 M304.7 1023.6l-2.9 3.1 M310.5 1028.8l-2.9 3.1 M316.4 1034.0l-2.9 3.1 M322.2 1039.3l-2.9 3.1 M328.1 1044.5l-2.9 3.1 M333.9 1049.7l-5.8 6.2 M333.9 1049.7l5.8 6.2 M339.7 1044.5l2.9 3.1 M345.6 1039.2l2.9 3.1 M351.4 1034.0l2.9 3.1 M357.2 1028.8l2.9 3.1 M363.1 1023.5l2.9 3.1 M368.9 1018.3l2.9 3.1 M374.7 1013.1l2.9 3.1 M380.6 1007.8l2.9 3.1 M386.4 1002.6l2.9 3.1 M392.2 997.4l5.8 6.2 M398.1 992.1l2.9 3.1 M403.9 986.9l2.9 3.1 M409.7 981.7l2.9 3.1 M415.6 976.4l2.9 3.1 M421.4 971.2l2.9 3.1 M427.2 966.0l2.9 3.1 M433.1 960.7l2.9 3.1 M438.9 955.5l2.9 3.1 M444.7 950.3l2.9 3.1 M450.6 945.0l5.8 6.2 M456.4 939.8l2.9 3.1 M462.2 934.6l2.9 3.1 M468.0 929.4l2.9 3.1 M473.9 924.1l2.9 3.1 M479.7 918.9l2.9 3.1 M485.5 913.7l2.9 3.1 M491.4 908.4l2.9 3.1 M497.2 903.2l2.9 3.1 M503.0 898.0l2.9 3.1 M508.9 892.7l5.8 6.2 M514.7 887.5l2.9 3.1 M520.5 882.3l2.9 3.1 M526.4 877.0l2.9 3.1 M532.2 871.8l2.9 3.1 M538.0 866.6l2.9 3.1 M543.9 861.3l2.9 3.1 M549.7 856.1l2.9 3.1 M555.5 850.9l2.9 3.1 M561.4 845.6l2.9 3.1 M567.2 840.4l5.8 6.2" stroke="#555" stroke-width="0.9" fill="none"/>
<path d="M567.6 840.8L572 826.4 M567.6 840.8l9.5 2.5 M568.5 837.9l4 1 M569.4 835.0l4 1 M570.2 832.2l4 1 M571.1 829.3l4 1 M572.0 826.4l9.5 2.5" stroke="#444" stroke-width="0.9" fill="none"/>
<text transform="translate(86.41,863.50) scale(0.9000,1.0000)" font-family='"Liberation Sans", sans-serif' font-size="14.5" fill="#222">4</text><text transform="translate(313.48,1072.10) scale(0.9000,1.0000)" font-family='"Liberation Sans", sans-serif' font-size="14.5" fill="#222">0</text><text transform="translate(343.08,1072.10) scale(0.9000,1.0000)" font-family='"Liberation Sans", sans-serif' font-size="14.5" fill="#222">0</text><text transform="translate(570.91,864.00) scale(0.9000,1.0000)" font-family='"Liberation Sans", sans-serif' font-size="14.5" fill="#222">4</text><text transform="translate(581.48,850.80) scale(0.9000,1.0000)" font-family='"Liberation Sans", sans-serif' font-size="14.5" fill="#222">0</text><text transform="translate(136.71,909.40) scale(0.9000,1.0000)" font-family='"Liberation Sans", sans-serif' font-size="14.5" fill="#222">3</text><text transform="translate(190.58,959.80) scale(0.9000,1.0000)" font-family='"Liberation Sans", sans-serif' font-size="14.5" fill="#222">2</text><text transform="translate(249.80,1013.70) scale(0.9000,1.0000)" font-family='"Liberation Sans", sans-serif' font-size="14.5" fill="#222">1</text><text transform="translate(407.70,1013.70) scale(0.9000,1.0000)" font-family='"Liberation Sans", sans-serif' font-size="14.5" fill="#222">1</text><text transform="translate(466.38,959.80) scale(0.9000,1.0000)" font-family='"Liberation Sans", sans-serif' font-size="14.5" fill="#222">2</text><text transform="translate(521.41,909.40) scale(0.9000,1.0000)" font-family='"Liberation Sans", sans-serif' font-size="14.5" fill="#222">3</text><text transform="translate(588.70,839.20) scale(0.8983,1.0000)" font-family='"Liberation Sans", sans-serif' font-size="13.8" fill="#222">540.6</text><text transform="translate(628.98,856.80) scale(1.0756,1.0000)" font-family='"Liberation Sans", sans-serif' font-size="14" fill="#222">µm</text><text transform="translate(165.96,975.50) scale(0.8550,1.0000)" font-family='"Liberation Sans", sans-serif' font-size="14.5" fill="#222">mm</text><text transform="translate(477.96,975.50) scale(0.8550,1.0000)" font-family='"Liberation Sans", sans-serif' font-size="14.5" fill="#222">mm</text>
<line x1="167.1" y1="1029.1" x2="146.8" y2="1013.3" stroke="#10ee10" stroke-width="3.2"/><polygon points="137.7,1006.3 150.0,1009.2 147.6,1014.0 143.6,1017.5" fill="#10ee10" stroke="#10ee10" stroke-width="0.8" stroke-linejoin="round"/><line x1="167.1" y1="1029.1" x2="187.1" y2="1013.6" stroke="#f00808" stroke-width="3.2"/><polygon points="196.2,1006.6 190.3,1017.7 186.3,1014.2 183.9,1009.5" fill="#f00808" stroke="#f00808" stroke-width="0.8" stroke-linejoin="round"/><line x1="167.1" y1="1029.1" x2="167.1" y2="1011.8" stroke="#0c0cf0" stroke-width="3.2"/><path d="M167.1 1001.8 C168.6 1004.8 172.6 1008.8 172.3 1011.3 C171.9 1014.3 168.6 1015.3 167.1 1015.3 C165.6 1015.3 162.3 1014.3 161.9 1011.3 C161.6 1008.8 165.6 1004.8 167.1 1001.8Z" fill="#0c0cf0"/><circle cx="167.1" cy="1029.1" r="4.4" fill="#000"/><g font-family='"Liberation Sans", sans-serif' font-size="11"><text x="125.8" y="1003" fill="#22dd22">Y</text><text x="161.9" y="997.3" fill="#2222ee">Z</text><text x="198.2" y="1003" fill="#ee2222">X</text></g>
<text x="63.5" y="577.5" font-family='"Liberation Sans", sans-serif' font-size="33">(a)</text>
<text x="108" y="583.5" font-family='"Liberation Serif", serif' font-size="41">3D surface profile of</text>
<text x="101.5" y="630.5" font-family='"Liberation Serif", serif' font-size="41">the H800 CMP pad</text>
<text x="551" y="577.5" font-family='"Liberation Sans", sans-serif' font-size="33">(b)</text>
<text x="599.5" y="583.5" font-family='"Liberation Serif", serif' font-size="41">Probability density</text>
<text x="565.5" y="630" font-family='"Liberation Serif", serif' font-size="41">function distribution</text>
<text x="1066" y="575.5" font-family='"Liberation Sans", sans-serif' font-size="33">(c)</text>
<text x="1112.5" y="581.5" font-family='"Liberation Serif", serif' font-size="41">Bearing area curve</text>
<text x="40.5" y="1125" font-family='"Liberation Sans", sans-serif' font-size="33">(e)</text>
<text x="88.5" y="1131" font-family='"Liberation Serif", serif' font-size="41">Profile of asperity summit density</text>
<text x="740" y="1126.5" font-family='"Liberation Sans", sans-serif' font-size="33">(d)</text>
<text x="785.6" y="1132" font-family='"Liberation Serif", serif' font-size="41">Schematic representation of the asperity</text>
<text x="937.5" y="1180.5" font-family='"Liberation Serif", serif' font-size="41">height distribution.</text>
<g stroke="#000" stroke-width="2" fill="none">
<rect x="1" y="1" width="1498" height="1194"/>
<line x1="500" y1="0" x2="500" y2="643"/>
<line x1="1000" y1="0" x2="1000" y2="643"/>
<line x1="0" y1="643" x2="1500" y2="643"/>
<line x1="707" y1="643" x2="707" y2="1196"/>
</g>
</svg>
</body></html>
